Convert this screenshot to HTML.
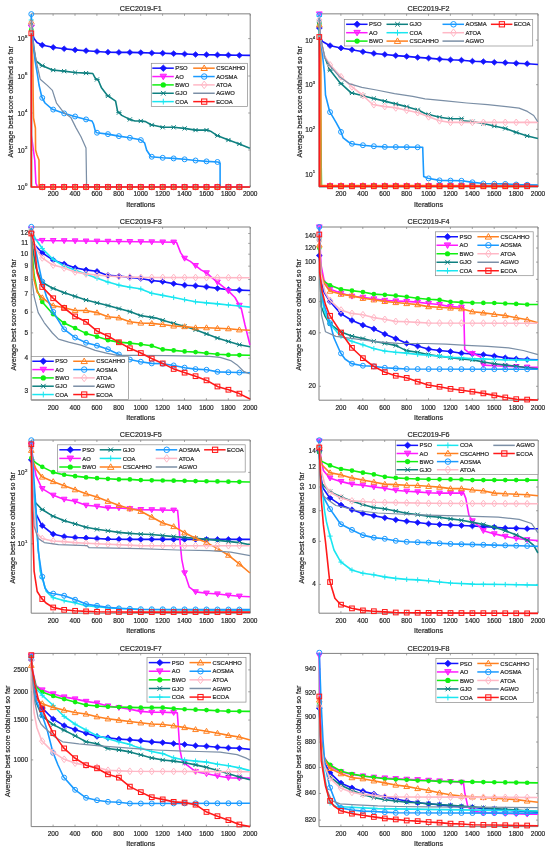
<!DOCTYPE html>
<html><head><meta charset="utf-8"><style>
html,body{margin:0;padding:0;background:#fff;width:550px;height:851px;overflow:hidden}
svg text{font-family:"Liberation Sans", sans-serif;stroke:#262626;stroke-width:0.2px}
</style></head><body>
<svg width="550" height="851" viewBox="0 0 550 851" style="position:absolute;left:0;top:0;filter:blur(0.35px)"><rect width="550" height="851" fill="#fff"/><g><clipPath id="clip00"><rect x="27.2" y="9.85" width="223.5" height="181.2"/></clipPath><path d="M31.2 13.85H250.2V187.05H31.2Z" fill="none" stroke="#808080" stroke-width="1.0"/><path d="M53.1 187.05v-2M53.1 13.85v2M75 187.05v-2M75 13.85v2M96.9 187.05v-2M96.9 13.85v2M118.8 187.05v-2M118.8 13.85v2M140.7 187.05v-2M140.7 13.85v2M162.6 187.05v-2M162.6 13.85v2M184.5 187.05v-2M184.5 13.85v2M206.4 187.05v-2M206.4 13.85v2M228.3 187.05v-2M228.3 13.85v2M250.2 187.05v-2M250.2 13.85v2M31.2 187h2M250.2 187h-2M31.2 150h2M250.2 150h-2M31.2 113h2M250.2 113h-2M31.2 76h2M250.2 76h-2M31.2 38.6h2M250.2 38.6h-2" stroke="#808080" stroke-width="0.7"/><g clip-path="url(#clip00)"><path d="M31.3 25.3 L32.3 33 L34 38.5 L37 42.5 L41.8 45 L52.8 47.3 L63.8 48.7 L74.8 49.9 L86 50.7 L96.8 51.5 L107.8 52.2 L118.8 52.4 L129.8 52.4 L140.3 52.6 L151.6 53 L162.7 53.2 L173.7 53.6 L184.6 54 L195.6 54.5 L206.7 54.7 L217.6 54.9 L228.6 55.1 L239.3 55.3 L250 55.4" fill="none" stroke="#1414ff" stroke-width="1.6" stroke-linejoin="round"/><path d="M31.3 22.44L34.29 25.3L31.3 28.16L28.31 25.3Z" fill="#1414ff" stroke="#1414ff" stroke-width="0.7" stroke-linejoin="round"/><path d="M42.26 42.24L45.25 45.1L42.26 47.96L39.27 45.1Z" fill="#1414ff" stroke="#1414ff" stroke-width="0.7" stroke-linejoin="round"/><path d="M53.21 44.49L56.2 47.35L53.21 50.21L50.22 47.35Z" fill="#1414ff" stroke="#1414ff" stroke-width="0.7" stroke-linejoin="round"/><path d="M64.16 45.88L67.15 48.74L64.16 51.6L61.17 48.74Z" fill="#1414ff" stroke="#1414ff" stroke-width="0.7" stroke-linejoin="round"/><path d="M75.11 47.06L78.1 49.92L75.11 52.78L72.12 49.92Z" fill="#1414ff" stroke="#1414ff" stroke-width="0.7" stroke-linejoin="round"/><path d="M86.06 47.84L89.05 50.7L86.06 53.56L83.07 50.7Z" fill="#1414ff" stroke="#1414ff" stroke-width="0.7" stroke-linejoin="round"/><path d="M97.01 48.65L100 51.51L97.01 54.37L94.02 51.51Z" fill="#1414ff" stroke="#1414ff" stroke-width="0.7" stroke-linejoin="round"/><path d="M107.96 49.34L110.95 52.2L107.96 55.06L104.97 52.2Z" fill="#1414ff" stroke="#1414ff" stroke-width="0.7" stroke-linejoin="round"/><path d="M118.91 49.54L121.9 52.4L118.91 55.26L115.92 52.4Z" fill="#1414ff" stroke="#1414ff" stroke-width="0.7" stroke-linejoin="round"/><path d="M129.86 49.54L132.85 52.4L129.86 55.26L126.87 52.4Z" fill="#1414ff" stroke="#1414ff" stroke-width="0.7" stroke-linejoin="round"/><path d="M140.81 49.76L143.8 52.62L140.81 55.48L137.82 52.62Z" fill="#1414ff" stroke="#1414ff" stroke-width="0.7" stroke-linejoin="round"/><path d="M151.76 50.14L154.75 53L151.76 55.86L148.77 53Z" fill="#1414ff" stroke="#1414ff" stroke-width="0.7" stroke-linejoin="round"/><path d="M162.71 50.34L165.7 53.2L162.71 56.06L159.72 53.2Z" fill="#1414ff" stroke="#1414ff" stroke-width="0.7" stroke-linejoin="round"/><path d="M173.66 50.74L176.65 53.6L173.66 56.46L170.67 53.6Z" fill="#1414ff" stroke="#1414ff" stroke-width="0.7" stroke-linejoin="round"/><path d="M184.61 51.14L187.6 54L184.61 56.86L181.62 54Z" fill="#1414ff" stroke="#1414ff" stroke-width="0.7" stroke-linejoin="round"/><path d="M195.56 51.64L198.55 54.5L195.56 57.36L192.57 54.5Z" fill="#1414ff" stroke="#1414ff" stroke-width="0.7" stroke-linejoin="round"/><path d="M206.51 51.84L209.5 54.7L206.51 57.56L203.52 54.7Z" fill="#1414ff" stroke="#1414ff" stroke-width="0.7" stroke-linejoin="round"/><path d="M217.46 52.04L220.45 54.9L217.46 57.76L214.47 54.9Z" fill="#1414ff" stroke="#1414ff" stroke-width="0.7" stroke-linejoin="round"/><path d="M228.41 52.24L231.4 55.1L228.41 57.96L225.42 55.1Z" fill="#1414ff" stroke="#1414ff" stroke-width="0.7" stroke-linejoin="round"/><path d="M239.36 52.44L242.35 55.3L239.36 58.16L236.37 55.3Z" fill="#1414ff" stroke="#1414ff" stroke-width="0.7" stroke-linejoin="round"/><path d="M31.3 27 L31.4 135 L33.2 148.6 L34.8 160.5 L35.9 183.2 L37.5 186.8 L250 187" fill="none" stroke="#ff1aff" stroke-width="1.6" stroke-linejoin="round"/><path d="M28.44 24.92L34.16 24.92L31.3 29.86Z" fill="#ff1aff" fill-opacity="0.75" stroke="#ff1aff" stroke-width="1.0"/><path d="M39.4 184.72L45.12 184.72L42.26 189.66Z" fill="#ff1aff" fill-opacity="0.75" stroke="#ff1aff" stroke-width="1.0"/><path d="M50.35 184.73L56.07 184.73L53.21 189.67Z" fill="#ff1aff" fill-opacity="0.75" stroke="#ff1aff" stroke-width="1.0"/><path d="M61.3 184.75L67.02 184.75L64.16 189.69Z" fill="#ff1aff" fill-opacity="0.75" stroke="#ff1aff" stroke-width="1.0"/><path d="M72.25 184.76L77.97 184.76L75.11 189.7Z" fill="#ff1aff" fill-opacity="0.75" stroke="#ff1aff" stroke-width="1.0"/><path d="M83.2 184.77L88.92 184.77L86.06 189.71Z" fill="#ff1aff" fill-opacity="0.75" stroke="#ff1aff" stroke-width="1.0"/><path d="M94.15 184.78L99.87 184.78L97.01 189.72Z" fill="#ff1aff" fill-opacity="0.75" stroke="#ff1aff" stroke-width="1.0"/><path d="M105.1 184.79L110.82 184.79L107.96 189.73Z" fill="#ff1aff" fill-opacity="0.75" stroke="#ff1aff" stroke-width="1.0"/><path d="M116.05 184.8L121.77 184.8L118.91 189.74Z" fill="#ff1aff" fill-opacity="0.75" stroke="#ff1aff" stroke-width="1.0"/><path d="M127 184.81L132.72 184.81L129.86 189.75Z" fill="#ff1aff" fill-opacity="0.75" stroke="#ff1aff" stroke-width="1.0"/><path d="M137.95 184.82L143.67 184.82L140.81 189.76Z" fill="#ff1aff" fill-opacity="0.75" stroke="#ff1aff" stroke-width="1.0"/><path d="M148.9 184.83L154.62 184.83L151.76 189.77Z" fill="#ff1aff" fill-opacity="0.75" stroke="#ff1aff" stroke-width="1.0"/><path d="M159.85 184.84L165.57 184.84L162.71 189.78Z" fill="#ff1aff" fill-opacity="0.75" stroke="#ff1aff" stroke-width="1.0"/><path d="M170.8 184.85L176.52 184.85L173.66 189.79Z" fill="#ff1aff" fill-opacity="0.75" stroke="#ff1aff" stroke-width="1.0"/><path d="M181.75 184.86L187.47 184.86L184.61 189.8Z" fill="#ff1aff" fill-opacity="0.75" stroke="#ff1aff" stroke-width="1.0"/><path d="M192.7 184.87L198.42 184.87L195.56 189.81Z" fill="#ff1aff" fill-opacity="0.75" stroke="#ff1aff" stroke-width="1.0"/><path d="M203.65 184.88L209.37 184.88L206.51 189.82Z" fill="#ff1aff" fill-opacity="0.75" stroke="#ff1aff" stroke-width="1.0"/><path d="M214.6 184.89L220.32 184.89L217.46 189.83Z" fill="#ff1aff" fill-opacity="0.75" stroke="#ff1aff" stroke-width="1.0"/><path d="M225.55 184.9L231.27 184.9L228.41 189.84Z" fill="#ff1aff" fill-opacity="0.75" stroke="#ff1aff" stroke-width="1.0"/><path d="M236.5 184.91L242.22 184.91L239.36 189.85Z" fill="#ff1aff" fill-opacity="0.75" stroke="#ff1aff" stroke-width="1.0"/><path d="M31.3 29.4 L31.4 187 L250 187" fill="none" stroke="#10f010" stroke-width="1.6" stroke-linejoin="round"/><circle cx="31.3" cy="29.4" r="2.34" fill="#10f010"/><circle cx="42.26" cy="187" r="2.34" fill="#10f010"/><circle cx="53.21" cy="187" r="2.34" fill="#10f010"/><circle cx="64.16" cy="187" r="2.34" fill="#10f010"/><circle cx="75.11" cy="187" r="2.34" fill="#10f010"/><circle cx="86.06" cy="187" r="2.34" fill="#10f010"/><circle cx="97.01" cy="187" r="2.34" fill="#10f010"/><circle cx="107.96" cy="187" r="2.34" fill="#10f010"/><circle cx="118.91" cy="187" r="2.34" fill="#10f010"/><circle cx="129.86" cy="187" r="2.34" fill="#10f010"/><circle cx="140.81" cy="187" r="2.34" fill="#10f010"/><circle cx="151.76" cy="187" r="2.34" fill="#10f010"/><circle cx="162.71" cy="187" r="2.34" fill="#10f010"/><circle cx="173.66" cy="187" r="2.34" fill="#10f010"/><circle cx="184.61" cy="187" r="2.34" fill="#10f010"/><circle cx="195.56" cy="187" r="2.34" fill="#10f010"/><circle cx="206.51" cy="187" r="2.34" fill="#10f010"/><circle cx="217.46" cy="187" r="2.34" fill="#10f010"/><circle cx="228.41" cy="187" r="2.34" fill="#10f010"/><circle cx="239.36" cy="187" r="2.34" fill="#10f010"/><path d="M31.3 24 L33 45 L36 61 L41.8 65.4 L52.4 70 L63.6 71.1 L74.8 72.5 L86 73.1 L92.8 73.5 L95.2 78.2 L98.3 80.3 L101.3 87.4 L107.4 95.5 L113.5 99.6 L115.6 101.1 L117.6 111.3 L121.7 115.4 L129.8 119.4 L135 121 L141.4 121 L145.6 121.6 L151 124.8 L162.7 127.3 L173.3 127.3 L184.4 128.4 L195.6 130.1 L207.3 130.1 L210.5 131.2 L216.9 135.4 L228.6 140.1 L239.3 143.9 L249.9 148.2" fill="none" stroke="#0f8080" stroke-width="1.6" stroke-linejoin="round"/><path d="M29.22 21.92L33.38 26.08M29.22 26.08L33.38 21.92M28.7 24L33.9 24" stroke="#0f8080" stroke-width="1.0"/><path d="M40.18 63.52L44.34 67.68M40.18 67.68L44.34 63.52M39.66 65.6L44.86 65.6" stroke="#0f8080" stroke-width="1.0"/><path d="M51.13 68L55.29 72.16M51.13 72.16L55.29 68M50.61 70.08L55.81 70.08" stroke="#0f8080" stroke-width="1.0"/><path d="M62.08 69.09L66.24 73.25M62.08 73.25L66.24 69.09M61.56 71.17L66.76 71.17" stroke="#0f8080" stroke-width="1.0"/><path d="M73.03 70.44L77.19 74.6M73.03 74.6L77.19 70.44M72.51 72.52L77.71 72.52" stroke="#0f8080" stroke-width="1.0"/><path d="M83.98 71.02L88.14 75.18M83.98 75.18L88.14 71.02M83.46 73.1L88.66 73.1" stroke="#0f8080" stroke-width="1.0"/><path d="M94.93 77.35L99.09 81.51M94.93 81.51L99.09 77.35M94.41 79.43L99.61 79.43" stroke="#0f8080" stroke-width="1.0"/><path d="M105.88 93.8L110.04 97.96M105.88 97.96L110.04 93.8M105.36 95.88L110.56 95.88" stroke="#0f8080" stroke-width="1.0"/><path d="M116.83 110.53L120.99 114.69M116.83 114.69L120.99 110.53M116.31 112.61L121.51 112.61" stroke="#0f8080" stroke-width="1.0"/><path d="M127.78 117.34L131.94 121.5M127.78 121.5L131.94 117.34M127.26 119.42L132.46 119.42" stroke="#0f8080" stroke-width="1.0"/><path d="M138.73 118.92L142.89 123.08M138.73 123.08L142.89 118.92M138.21 121L143.41 121" stroke="#0f8080" stroke-width="1.0"/><path d="M149.68 122.88L153.84 127.04M149.68 127.04L153.84 122.88M149.16 124.96L154.36 124.96" stroke="#0f8080" stroke-width="1.0"/><path d="M160.63 125.22L164.79 129.38M160.63 129.38L164.79 125.22M160.11 127.3L165.31 127.3" stroke="#0f8080" stroke-width="1.0"/><path d="M171.58 125.26L175.74 129.42M171.58 129.42L175.74 125.26M171.06 127.34L176.26 127.34" stroke="#0f8080" stroke-width="1.0"/><path d="M182.53 126.35L186.69 130.51M182.53 130.51L186.69 126.35M182.01 128.43L187.21 128.43" stroke="#0f8080" stroke-width="1.0"/><path d="M193.48 128.01L197.64 132.17M193.48 132.17L197.64 128.01M192.96 130.09L198.16 130.09" stroke="#0f8080" stroke-width="1.0"/><path d="M204.43 128.02L208.59 132.18M204.43 132.18L208.59 128.02M203.91 130.1L209.11 130.1" stroke="#0f8080" stroke-width="1.0"/><path d="M215.38 133.54L219.54 137.7M215.38 137.7L219.54 133.54M214.86 135.62L220.06 135.62" stroke="#0f8080" stroke-width="1.0"/><path d="M226.33 137.94L230.49 142.1M226.33 142.1L230.49 137.94M225.81 140.02L231.01 140.02" stroke="#0f8080" stroke-width="1.0"/><path d="M237.28 141.84L241.44 146M237.28 146L241.44 141.84M236.76 143.92L241.96 143.92" stroke="#0f8080" stroke-width="1.0"/><path d="M31.3 20 L31.4 187 L250 187" fill="none" stroke="#1ae6f0" stroke-width="1.6" stroke-linejoin="round"/><path d="M28.7 20L33.9 20M31.3 17.4L31.3 22.6" stroke="#1ae6f0" stroke-width="1.0"/><path d="M39.66 187L44.86 187M42.26 184.4L42.26 189.6" stroke="#1ae6f0" stroke-width="1.0"/><path d="M50.61 187L55.81 187M53.21 184.4L53.21 189.6" stroke="#1ae6f0" stroke-width="1.0"/><path d="M61.56 187L66.76 187M64.16 184.4L64.16 189.6" stroke="#1ae6f0" stroke-width="1.0"/><path d="M72.51 187L77.71 187M75.11 184.4L75.11 189.6" stroke="#1ae6f0" stroke-width="1.0"/><path d="M83.46 187L88.66 187M86.06 184.4L86.06 189.6" stroke="#1ae6f0" stroke-width="1.0"/><path d="M94.41 187L99.61 187M97.01 184.4L97.01 189.6" stroke="#1ae6f0" stroke-width="1.0"/><path d="M105.36 187L110.56 187M107.96 184.4L107.96 189.6" stroke="#1ae6f0" stroke-width="1.0"/><path d="M116.31 187L121.51 187M118.91 184.4L118.91 189.6" stroke="#1ae6f0" stroke-width="1.0"/><path d="M127.26 187L132.46 187M129.86 184.4L129.86 189.6" stroke="#1ae6f0" stroke-width="1.0"/><path d="M138.21 187L143.41 187M140.81 184.4L140.81 189.6" stroke="#1ae6f0" stroke-width="1.0"/><path d="M149.16 187L154.36 187M151.76 184.4L151.76 189.6" stroke="#1ae6f0" stroke-width="1.0"/><path d="M160.11 187L165.31 187M162.71 184.4L162.71 189.6" stroke="#1ae6f0" stroke-width="1.0"/><path d="M171.06 187L176.26 187M173.66 184.4L173.66 189.6" stroke="#1ae6f0" stroke-width="1.0"/><path d="M182.01 187L187.21 187M184.61 184.4L184.61 189.6" stroke="#1ae6f0" stroke-width="1.0"/><path d="M192.96 187L198.16 187M195.56 184.4L195.56 189.6" stroke="#1ae6f0" stroke-width="1.0"/><path d="M203.91 187L209.11 187M206.51 184.4L206.51 189.6" stroke="#1ae6f0" stroke-width="1.0"/><path d="M214.86 187L220.06 187M217.46 184.4L217.46 189.6" stroke="#1ae6f0" stroke-width="1.0"/><path d="M225.81 187L231.01 187M228.41 184.4L228.41 189.6" stroke="#1ae6f0" stroke-width="1.0"/><path d="M236.76 187L241.96 187M239.36 184.4L239.36 189.6" stroke="#1ae6f0" stroke-width="1.0"/><path d="M31.3 21.8 L32.8 60 L33.2 100 L33.5 118 L35.4 128 L35.6 150 L37 155 L39 160 L39.1 186.8 L250 187" fill="none" stroke="#ff8020" stroke-width="1.6" stroke-linejoin="round"/><path d="M28.44 23.88L34.16 23.88L31.3 18.94Z" fill="none" stroke="#ff8020" stroke-width="1.0"/><path d="M39.4 188.88L45.12 188.88L42.26 183.94Z" fill="none" stroke="#ff8020" stroke-width="1.0"/><path d="M50.35 188.89L56.07 188.89L53.21 183.95Z" fill="none" stroke="#ff8020" stroke-width="1.0"/><path d="M61.3 188.9L67.02 188.9L64.16 183.96Z" fill="none" stroke="#ff8020" stroke-width="1.0"/><path d="M72.25 188.91L77.97 188.91L75.11 183.97Z" fill="none" stroke="#ff8020" stroke-width="1.0"/><path d="M83.2 188.92L88.92 188.92L86.06 183.98Z" fill="none" stroke="#ff8020" stroke-width="1.0"/><path d="M94.15 188.93L99.87 188.93L97.01 183.99Z" fill="none" stroke="#ff8020" stroke-width="1.0"/><path d="M105.1 188.95L110.82 188.95L107.96 184.01Z" fill="none" stroke="#ff8020" stroke-width="1.0"/><path d="M116.05 188.96L121.77 188.96L118.91 184.02Z" fill="none" stroke="#ff8020" stroke-width="1.0"/><path d="M127 188.97L132.72 188.97L129.86 184.03Z" fill="none" stroke="#ff8020" stroke-width="1.0"/><path d="M137.95 188.98L143.67 188.98L140.81 184.04Z" fill="none" stroke="#ff8020" stroke-width="1.0"/><path d="M148.9 188.99L154.62 188.99L151.76 184.05Z" fill="none" stroke="#ff8020" stroke-width="1.0"/><path d="M159.85 189L165.57 189L162.71 184.06Z" fill="none" stroke="#ff8020" stroke-width="1.0"/><path d="M170.8 189.01L176.52 189.01L173.66 184.07Z" fill="none" stroke="#ff8020" stroke-width="1.0"/><path d="M181.75 189.02L187.47 189.02L184.61 184.08Z" fill="none" stroke="#ff8020" stroke-width="1.0"/><path d="M192.7 189.03L198.42 189.03L195.56 184.09Z" fill="none" stroke="#ff8020" stroke-width="1.0"/><path d="M203.65 189.04L209.37 189.04L206.51 184.1Z" fill="none" stroke="#ff8020" stroke-width="1.0"/><path d="M214.6 189.05L220.32 189.05L217.46 184.11Z" fill="none" stroke="#ff8020" stroke-width="1.0"/><path d="M225.55 189.06L231.27 189.06L228.41 184.12Z" fill="none" stroke="#ff8020" stroke-width="1.0"/><path d="M236.5 189.07L242.22 189.07L239.36 184.13Z" fill="none" stroke="#ff8020" stroke-width="1.0"/><path d="M31.3 14.1 L32 30 L33.1 40.5 L35 60 L37.2 73.1 L39 85 L41.8 97 L45 103 L52.4 109.3 L63.8 113.3 L74.8 116.4 L86 119.4 L92 121 L93.5 124 L95.5 131.7 L96.8 132.7 L107.8 134.1 L118.8 136.1 L129.8 137.8 L140.3 139.7 L144.6 142.9 L146.7 150.3 L151 156.7 L162.7 157.8 L173.3 158.4 L184.4 159.3 L195.6 160.5 L206.7 161.4 L218 162 L220.1 163.1 L220.1 187 L250 187" fill="none" stroke="#1a9aff" stroke-width="1.6" stroke-linejoin="round"/><circle cx="31.3" cy="14.1" r="2.47" fill="none" stroke="#1a9aff" stroke-width="1.0"/><circle cx="42.26" cy="97.86" r="2.47" fill="none" stroke="#1a9aff" stroke-width="1.0"/><circle cx="53.21" cy="109.58" r="2.47" fill="none" stroke="#1a9aff" stroke-width="1.0"/><circle cx="64.16" cy="113.4" r="2.47" fill="none" stroke="#1a9aff" stroke-width="1.0"/><circle cx="75.11" cy="116.48" r="2.47" fill="none" stroke="#1a9aff" stroke-width="1.0"/><circle cx="86.06" cy="119.42" r="2.47" fill="none" stroke="#1a9aff" stroke-width="1.0"/><circle cx="97.01" cy="132.73" r="2.47" fill="none" stroke="#1a9aff" stroke-width="1.0"/><circle cx="107.96" cy="134.13" r="2.47" fill="none" stroke="#1a9aff" stroke-width="1.0"/><circle cx="118.91" cy="136.12" r="2.47" fill="none" stroke="#1a9aff" stroke-width="1.0"/><circle cx="129.86" cy="137.81" r="2.47" fill="none" stroke="#1a9aff" stroke-width="1.0"/><circle cx="140.81" cy="140.08" r="2.47" fill="none" stroke="#1a9aff" stroke-width="1.0"/><circle cx="151.76" cy="156.77" r="2.47" fill="none" stroke="#1a9aff" stroke-width="1.0"/><circle cx="162.71" cy="157.8" r="2.47" fill="none" stroke="#1a9aff" stroke-width="1.0"/><circle cx="173.66" cy="158.43" r="2.47" fill="none" stroke="#1a9aff" stroke-width="1.0"/><circle cx="184.61" cy="159.32" r="2.47" fill="none" stroke="#1a9aff" stroke-width="1.0"/><circle cx="195.56" cy="160.5" r="2.47" fill="none" stroke="#1a9aff" stroke-width="1.0"/><circle cx="206.51" cy="161.38" r="2.47" fill="none" stroke="#1a9aff" stroke-width="1.0"/><circle cx="217.46" cy="161.97" r="2.47" fill="none" stroke="#1a9aff" stroke-width="1.0"/><circle cx="228.41" cy="187" r="2.47" fill="none" stroke="#1a9aff" stroke-width="1.0"/><circle cx="239.36" cy="187" r="2.47" fill="none" stroke="#1a9aff" stroke-width="1.0"/><path d="M31.3 24 L31.4 187 L250 187" fill="none" stroke="#ffb8c6" stroke-width="1.6" stroke-linejoin="round"/><path d="M31.3 20.62L33.9 24L31.3 27.38L28.7 24Z" fill="none" stroke="#ffb8c6" stroke-width="1.0"/><path d="M42.26 183.62L44.86 187L42.26 190.38L39.66 187Z" fill="none" stroke="#ffb8c6" stroke-width="1.0"/><path d="M53.21 183.62L55.81 187L53.21 190.38L50.61 187Z" fill="none" stroke="#ffb8c6" stroke-width="1.0"/><path d="M64.16 183.62L66.76 187L64.16 190.38L61.56 187Z" fill="none" stroke="#ffb8c6" stroke-width="1.0"/><path d="M75.11 183.62L77.71 187L75.11 190.38L72.51 187Z" fill="none" stroke="#ffb8c6" stroke-width="1.0"/><path d="M86.06 183.62L88.66 187L86.06 190.38L83.46 187Z" fill="none" stroke="#ffb8c6" stroke-width="1.0"/><path d="M97.01 183.62L99.61 187L97.01 190.38L94.41 187Z" fill="none" stroke="#ffb8c6" stroke-width="1.0"/><path d="M107.96 183.62L110.56 187L107.96 190.38L105.36 187Z" fill="none" stroke="#ffb8c6" stroke-width="1.0"/><path d="M118.91 183.62L121.51 187L118.91 190.38L116.31 187Z" fill="none" stroke="#ffb8c6" stroke-width="1.0"/><path d="M129.86 183.62L132.46 187L129.86 190.38L127.26 187Z" fill="none" stroke="#ffb8c6" stroke-width="1.0"/><path d="M140.81 183.62L143.41 187L140.81 190.38L138.21 187Z" fill="none" stroke="#ffb8c6" stroke-width="1.0"/><path d="M151.76 183.62L154.36 187L151.76 190.38L149.16 187Z" fill="none" stroke="#ffb8c6" stroke-width="1.0"/><path d="M162.71 183.62L165.31 187L162.71 190.38L160.11 187Z" fill="none" stroke="#ffb8c6" stroke-width="1.0"/><path d="M173.66 183.62L176.26 187L173.66 190.38L171.06 187Z" fill="none" stroke="#ffb8c6" stroke-width="1.0"/><path d="M184.61 183.62L187.21 187L184.61 190.38L182.01 187Z" fill="none" stroke="#ffb8c6" stroke-width="1.0"/><path d="M195.56 183.62L198.16 187L195.56 190.38L192.96 187Z" fill="none" stroke="#ffb8c6" stroke-width="1.0"/><path d="M206.51 183.62L209.11 187L206.51 190.38L203.91 187Z" fill="none" stroke="#ffb8c6" stroke-width="1.0"/><path d="M217.46 183.62L220.06 187L217.46 190.38L214.86 187Z" fill="none" stroke="#ffb8c6" stroke-width="1.0"/><path d="M228.41 183.62L231.01 187L228.41 190.38L225.81 187Z" fill="none" stroke="#ffb8c6" stroke-width="1.0"/><path d="M239.36 183.62L241.96 187L239.36 190.38L236.76 187Z" fill="none" stroke="#ffb8c6" stroke-width="1.0"/><path d="M31.3 20 L33 40 L36 60 L40.2 79.2 L47.3 85.4 L52.4 90.4 L54.5 97 L56.5 103.1 L63.6 112.3 L70.8 117.4 L75.9 127.6 L81 136.8 L86 148 L86.6 186.6 L250 187" fill="none" stroke="#7b8fa6" stroke-width="1.25" stroke-linejoin="round"/><path d="M31.3 33.3 L31.3 187 L250 187" fill="none" stroke="#ff1a1a" stroke-width="1.6" stroke-linejoin="round"/><rect x="28.96" y="30.96" width="4.68" height="4.68" fill="none" stroke="#ff1a1a" stroke-width="1.05"/><rect x="39.92" y="184.66" width="4.68" height="4.68" fill="none" stroke="#ff1a1a" stroke-width="1.05"/><rect x="50.87" y="184.66" width="4.68" height="4.68" fill="none" stroke="#ff1a1a" stroke-width="1.05"/><rect x="61.82" y="184.66" width="4.68" height="4.68" fill="none" stroke="#ff1a1a" stroke-width="1.05"/><rect x="72.77" y="184.66" width="4.68" height="4.68" fill="none" stroke="#ff1a1a" stroke-width="1.05"/><rect x="83.72" y="184.66" width="4.68" height="4.68" fill="none" stroke="#ff1a1a" stroke-width="1.05"/><rect x="94.67" y="184.66" width="4.68" height="4.68" fill="none" stroke="#ff1a1a" stroke-width="1.05"/><rect x="105.62" y="184.66" width="4.68" height="4.68" fill="none" stroke="#ff1a1a" stroke-width="1.05"/><rect x="116.57" y="184.66" width="4.68" height="4.68" fill="none" stroke="#ff1a1a" stroke-width="1.05"/><rect x="127.52" y="184.66" width="4.68" height="4.68" fill="none" stroke="#ff1a1a" stroke-width="1.05"/><rect x="138.47" y="184.66" width="4.68" height="4.68" fill="none" stroke="#ff1a1a" stroke-width="1.05"/><rect x="149.42" y="184.66" width="4.68" height="4.68" fill="none" stroke="#ff1a1a" stroke-width="1.05"/><rect x="160.37" y="184.66" width="4.68" height="4.68" fill="none" stroke="#ff1a1a" stroke-width="1.05"/><rect x="171.32" y="184.66" width="4.68" height="4.68" fill="none" stroke="#ff1a1a" stroke-width="1.05"/><rect x="182.27" y="184.66" width="4.68" height="4.68" fill="none" stroke="#ff1a1a" stroke-width="1.05"/><rect x="193.22" y="184.66" width="4.68" height="4.68" fill="none" stroke="#ff1a1a" stroke-width="1.05"/><rect x="204.17" y="184.66" width="4.68" height="4.68" fill="none" stroke="#ff1a1a" stroke-width="1.05"/><rect x="215.12" y="184.66" width="4.68" height="4.68" fill="none" stroke="#ff1a1a" stroke-width="1.05"/><rect x="226.07" y="184.66" width="4.68" height="4.68" fill="none" stroke="#ff1a1a" stroke-width="1.05"/><rect x="237.02" y="184.66" width="4.68" height="4.68" fill="none" stroke="#ff1a1a" stroke-width="1.05"/></g><text x="53.1" y="196.35" text-anchor="middle" font-size="6.5" fill="#262626">200</text><text x="75" y="196.35" text-anchor="middle" font-size="6.5" fill="#262626">400</text><text x="96.9" y="196.35" text-anchor="middle" font-size="6.5" fill="#262626">600</text><text x="118.8" y="196.35" text-anchor="middle" font-size="6.5" fill="#262626">800</text><text x="140.7" y="196.35" text-anchor="middle" font-size="6.5" fill="#262626">1000</text><text x="162.6" y="196.35" text-anchor="middle" font-size="6.5" fill="#262626">1200</text><text x="184.5" y="196.35" text-anchor="middle" font-size="6.5" fill="#262626">1400</text><text x="206.4" y="196.35" text-anchor="middle" font-size="6.5" fill="#262626">1600</text><text x="228.3" y="196.35" text-anchor="middle" font-size="6.5" fill="#262626">1800</text><text x="250.2" y="196.35" text-anchor="middle" font-size="6.5" fill="#262626">2000</text><text x="24.7" y="189.6" text-anchor="end" font-size="6.5" fill="#262626">10</text><text x="24.9" y="186.3" text-anchor="start" font-size="4.3" fill="#262626">0</text><text x="24.7" y="152.6" text-anchor="end" font-size="6.5" fill="#262626">10</text><text x="24.9" y="149.3" text-anchor="start" font-size="4.3" fill="#262626">2</text><text x="24.7" y="115.6" text-anchor="end" font-size="6.5" fill="#262626">10</text><text x="24.9" y="112.3" text-anchor="start" font-size="4.3" fill="#262626">4</text><text x="24.7" y="78.6" text-anchor="end" font-size="6.5" fill="#262626">10</text><text x="24.9" y="75.3" text-anchor="start" font-size="4.3" fill="#262626">6</text><text x="24.7" y="41.2" text-anchor="end" font-size="6.5" fill="#262626">10</text><text x="24.9" y="37.9" text-anchor="start" font-size="4.3" fill="#262626">8</text><text x="140.7" y="11.05" text-anchor="middle" font-size="7.2" fill="#262626">CEC2019-F1</text><text x="140.7" y="206.55" text-anchor="middle" font-size="7" fill="#262626">Iterations</text><text transform="translate(13.4 101.75) rotate(-90)" text-anchor="middle" font-size="7.2" fill="#262626">Average best score obtained so far</text><rect x="151.3" y="63.3" width="96.1" height="43.2" fill="#fff" stroke="#8c8c8c" stroke-width="0.7"/><path d="M152.3 68.18H173.8" stroke="#1414ff" stroke-width="1.5"/><path d="M163.3 64.98L166.65 68.18L163.3 71.38L159.95 68.18Z" fill="#1414ff" stroke="#1414ff" stroke-width="0.7" stroke-linejoin="round"/><text x="175.3" y="70.28" font-size="5.85" fill="#262626">PSO</text><path d="M152.3 76.54H173.8" stroke="#ff1aff" stroke-width="1.5"/><path d="M160.1 74.21L166.5 74.21L163.3 79.74Z" fill="#ff1aff" fill-opacity="0.75" stroke="#ff1aff" stroke-width="1.0"/><text x="175.3" y="78.64" font-size="5.85" fill="#262626">AO</text><path d="M152.3 84.9H173.8" stroke="#10f010" stroke-width="1.5"/><circle cx="163.3" cy="84.9" r="2.62" fill="#10f010"/><text x="175.3" y="87" font-size="5.85" fill="#262626">BWO</text><path d="M152.3 93.26H173.8" stroke="#0f8080" stroke-width="1.5"/><path d="M160.97 90.93L165.63 95.59M160.97 95.59L165.63 90.93M160.39 93.26L166.21 93.26" stroke="#0f8080" stroke-width="1.0"/><text x="175.3" y="95.36" font-size="5.85" fill="#262626">GJO</text><path d="M152.3 101.62H173.8" stroke="#1ae6f0" stroke-width="1.5"/><path d="M160.39 101.62L166.21 101.62M163.3 98.71L163.3 104.53" stroke="#1ae6f0" stroke-width="1.0"/><text x="175.3" y="103.72" font-size="5.85" fill="#262626">COA</text><path d="M193.2 68.18H214.7" stroke="#ff8020" stroke-width="1.5"/><path d="M201 70.51L207.4 70.51L204.2 64.98Z" fill="none" stroke="#ff8020" stroke-width="1.0"/><text x="216.2" y="70.28" font-size="5.85" fill="#262626">CSCAHHO</text><path d="M193.2 76.54H214.7" stroke="#1a9aff" stroke-width="1.5"/><circle cx="204.2" cy="76.54" r="2.77" fill="none" stroke="#1a9aff" stroke-width="1.0"/><text x="216.2" y="78.64" font-size="5.85" fill="#262626">AOSMA</text><path d="M193.2 84.9H214.7" stroke="#ffb8c6" stroke-width="1.5"/><path d="M204.2 81.11L207.11 84.9L204.2 88.69L201.29 84.9Z" fill="none" stroke="#ffb8c6" stroke-width="1.0"/><text x="216.2" y="87" font-size="5.85" fill="#262626">ATOA</text><path d="M193.2 93.26H214.7" stroke="#7b8fa6" stroke-width="1.5"/><text x="216.2" y="95.36" font-size="5.85" fill="#262626">AGWO</text><path d="M193.2 101.62H214.7" stroke="#ff1a1a" stroke-width="1.5"/><rect x="201.58" y="99" width="5.24" height="5.24" fill="none" stroke="#ff1a1a" stroke-width="1.05"/><text x="216.2" y="103.72" font-size="5.85" fill="#262626">ECOA</text></g><g><clipPath id="clip10"><rect x="315" y="9.85" width="223.5" height="181.2"/></clipPath><path d="M319 13.85H538V187.05H319Z" fill="none" stroke="#808080" stroke-width="1.0"/><path d="M340.9 187.05v-2M340.9 13.85v2M362.8 187.05v-2M362.8 13.85v2M384.7 187.05v-2M384.7 13.85v2M406.6 187.05v-2M406.6 13.85v2M428.5 187.05v-2M428.5 13.85v2M450.4 187.05v-2M450.4 13.85v2M472.3 187.05v-2M472.3 13.85v2M494.2 187.05v-2M494.2 13.85v2M516.1 187.05v-2M516.1 13.85v2M538 187.05v-2M538 13.85v2M319 174h2M538 174h-2M319 129.3h2M538 129.3h-2M319 84.7h2M538 84.7h-2M319 40.1h2M538 40.1h-2" stroke="#808080" stroke-width="0.7"/><g clip-path="url(#clip10)"><path d="M319.3 28 L320.3 37 L322.5 41.5 L329.6 45.5 L340.7 48 L351.8 49.7 L363.1 51.8 L374.2 53.5 L385 54.5 L396.1 55.6 L406.6 56.4 L417.4 57.4 L428 58.1 L439.2 59.1 L450.5 59.8 L461.6 60.2 L472.7 61.2 L483.5 61.6 L494.4 62.3 L505.5 62.7 L516.4 63.3 L527.4 63.7 L538 64.5" fill="none" stroke="#1414ff" stroke-width="1.6" stroke-linejoin="round"/><path d="M319.3 25.14L322.29 28L319.3 30.86L316.31 28Z" fill="#1414ff" stroke="#1414ff" stroke-width="0.7" stroke-linejoin="round"/><path d="M330.06 42.74L333.05 45.6L330.06 48.46L327.07 45.6Z" fill="#1414ff" stroke="#1414ff" stroke-width="0.7" stroke-linejoin="round"/><path d="M341.01 45.19L344 48.05L341.01 50.91L338.02 48.05Z" fill="#1414ff" stroke="#1414ff" stroke-width="0.7" stroke-linejoin="round"/><path d="M351.96 46.87L354.95 49.73L351.96 52.59L348.97 49.73Z" fill="#1414ff" stroke="#1414ff" stroke-width="0.7" stroke-linejoin="round"/><path d="M362.91 48.9L365.9 51.76L362.91 54.62L359.92 51.76Z" fill="#1414ff" stroke="#1414ff" stroke-width="0.7" stroke-linejoin="round"/><path d="M373.86 50.59L376.85 53.45L373.86 56.31L370.87 53.45Z" fill="#1414ff" stroke="#1414ff" stroke-width="0.7" stroke-linejoin="round"/><path d="M384.81 51.62L387.8 54.48L384.81 57.34L381.82 54.48Z" fill="#1414ff" stroke="#1414ff" stroke-width="0.7" stroke-linejoin="round"/><path d="M395.76 52.71L398.75 55.57L395.76 58.43L392.77 55.57Z" fill="#1414ff" stroke="#1414ff" stroke-width="0.7" stroke-linejoin="round"/><path d="M406.71 53.55L409.7 56.41L406.71 59.27L403.72 56.41Z" fill="#1414ff" stroke="#1414ff" stroke-width="0.7" stroke-linejoin="round"/><path d="M417.66 54.56L420.65 57.42L417.66 60.28L414.67 57.42Z" fill="#1414ff" stroke="#1414ff" stroke-width="0.7" stroke-linejoin="round"/><path d="M428.61 55.29L431.6 58.15L428.61 61.01L425.62 58.15Z" fill="#1414ff" stroke="#1414ff" stroke-width="0.7" stroke-linejoin="round"/><path d="M439.56 56.26L442.55 59.12L439.56 61.98L436.57 59.12Z" fill="#1414ff" stroke="#1414ff" stroke-width="0.7" stroke-linejoin="round"/><path d="M450.51 56.94L453.5 59.8L450.51 62.66L447.52 59.8Z" fill="#1414ff" stroke="#1414ff" stroke-width="0.7" stroke-linejoin="round"/><path d="M461.46 57.33L464.45 60.19L461.46 63.05L458.47 60.19Z" fill="#1414ff" stroke="#1414ff" stroke-width="0.7" stroke-linejoin="round"/><path d="M472.41 58.31L475.4 61.17L472.41 64.03L469.42 61.17Z" fill="#1414ff" stroke="#1414ff" stroke-width="0.7" stroke-linejoin="round"/><path d="M483.36 58.73L486.35 61.59L483.36 64.45L480.37 61.59Z" fill="#1414ff" stroke="#1414ff" stroke-width="0.7" stroke-linejoin="round"/><path d="M494.31 59.43L497.3 62.29L494.31 65.15L491.32 62.29Z" fill="#1414ff" stroke="#1414ff" stroke-width="0.7" stroke-linejoin="round"/><path d="M505.26 59.83L508.25 62.69L505.26 65.55L502.27 62.69Z" fill="#1414ff" stroke="#1414ff" stroke-width="0.7" stroke-linejoin="round"/><path d="M516.21 60.43L519.2 63.29L516.21 66.15L513.22 63.29Z" fill="#1414ff" stroke="#1414ff" stroke-width="0.7" stroke-linejoin="round"/><path d="M527.16 60.83L530.15 63.69L527.16 66.55L524.17 63.69Z" fill="#1414ff" stroke="#1414ff" stroke-width="0.7" stroke-linejoin="round"/><path d="M319.3 14 L320.6 185.8 L538 185.8" fill="none" stroke="#ff1aff" stroke-width="1.6" stroke-linejoin="round"/><path d="M316.44 11.92L322.16 11.92L319.3 16.86Z" fill="#ff1aff" fill-opacity="0.75" stroke="#ff1aff" stroke-width="1.0"/><path d="M327.2 183.72L332.92 183.72L330.06 188.66Z" fill="#ff1aff" fill-opacity="0.75" stroke="#ff1aff" stroke-width="1.0"/><path d="M338.15 183.72L343.87 183.72L341.01 188.66Z" fill="#ff1aff" fill-opacity="0.75" stroke="#ff1aff" stroke-width="1.0"/><path d="M349.1 183.72L354.82 183.72L351.96 188.66Z" fill="#ff1aff" fill-opacity="0.75" stroke="#ff1aff" stroke-width="1.0"/><path d="M360.05 183.72L365.77 183.72L362.91 188.66Z" fill="#ff1aff" fill-opacity="0.75" stroke="#ff1aff" stroke-width="1.0"/><path d="M371 183.72L376.72 183.72L373.86 188.66Z" fill="#ff1aff" fill-opacity="0.75" stroke="#ff1aff" stroke-width="1.0"/><path d="M381.95 183.72L387.67 183.72L384.81 188.66Z" fill="#ff1aff" fill-opacity="0.75" stroke="#ff1aff" stroke-width="1.0"/><path d="M392.9 183.72L398.62 183.72L395.76 188.66Z" fill="#ff1aff" fill-opacity="0.75" stroke="#ff1aff" stroke-width="1.0"/><path d="M403.85 183.72L409.57 183.72L406.71 188.66Z" fill="#ff1aff" fill-opacity="0.75" stroke="#ff1aff" stroke-width="1.0"/><path d="M414.8 183.72L420.52 183.72L417.66 188.66Z" fill="#ff1aff" fill-opacity="0.75" stroke="#ff1aff" stroke-width="1.0"/><path d="M425.75 183.72L431.47 183.72L428.61 188.66Z" fill="#ff1aff" fill-opacity="0.75" stroke="#ff1aff" stroke-width="1.0"/><path d="M436.7 183.72L442.42 183.72L439.56 188.66Z" fill="#ff1aff" fill-opacity="0.75" stroke="#ff1aff" stroke-width="1.0"/><path d="M447.65 183.72L453.37 183.72L450.51 188.66Z" fill="#ff1aff" fill-opacity="0.75" stroke="#ff1aff" stroke-width="1.0"/><path d="M458.6 183.72L464.32 183.72L461.46 188.66Z" fill="#ff1aff" fill-opacity="0.75" stroke="#ff1aff" stroke-width="1.0"/><path d="M469.55 183.72L475.27 183.72L472.41 188.66Z" fill="#ff1aff" fill-opacity="0.75" stroke="#ff1aff" stroke-width="1.0"/><path d="M480.5 183.72L486.22 183.72L483.36 188.66Z" fill="#ff1aff" fill-opacity="0.75" stroke="#ff1aff" stroke-width="1.0"/><path d="M491.45 183.72L497.17 183.72L494.31 188.66Z" fill="#ff1aff" fill-opacity="0.75" stroke="#ff1aff" stroke-width="1.0"/><path d="M502.4 183.72L508.12 183.72L505.26 188.66Z" fill="#ff1aff" fill-opacity="0.75" stroke="#ff1aff" stroke-width="1.0"/><path d="M513.35 183.72L519.07 183.72L516.21 188.66Z" fill="#ff1aff" fill-opacity="0.75" stroke="#ff1aff" stroke-width="1.0"/><path d="M524.3 183.72L530.02 183.72L527.16 188.66Z" fill="#ff1aff" fill-opacity="0.75" stroke="#ff1aff" stroke-width="1.0"/><path d="M319.3 24 L321.5 186 L538 186" fill="none" stroke="#10f010" stroke-width="1.6" stroke-linejoin="round"/><circle cx="319.3" cy="24" r="2.34" fill="#10f010"/><circle cx="330.06" cy="186" r="2.34" fill="#10f010"/><circle cx="341.01" cy="186" r="2.34" fill="#10f010"/><circle cx="351.96" cy="186" r="2.34" fill="#10f010"/><circle cx="362.91" cy="186" r="2.34" fill="#10f010"/><circle cx="373.86" cy="186" r="2.34" fill="#10f010"/><circle cx="384.81" cy="186" r="2.34" fill="#10f010"/><circle cx="395.76" cy="186" r="2.34" fill="#10f010"/><circle cx="406.71" cy="186" r="2.34" fill="#10f010"/><circle cx="417.66" cy="186" r="2.34" fill="#10f010"/><circle cx="428.61" cy="186" r="2.34" fill="#10f010"/><circle cx="439.56" cy="186" r="2.34" fill="#10f010"/><circle cx="450.51" cy="186" r="2.34" fill="#10f010"/><circle cx="461.46" cy="186" r="2.34" fill="#10f010"/><circle cx="472.41" cy="186" r="2.34" fill="#10f010"/><circle cx="483.36" cy="186" r="2.34" fill="#10f010"/><circle cx="494.31" cy="186" r="2.34" fill="#10f010"/><circle cx="505.26" cy="186" r="2.34" fill="#10f010"/><circle cx="516.21" cy="186" r="2.34" fill="#10f010"/><circle cx="527.16" cy="186" r="2.34" fill="#10f010"/><path d="M319.3 22 L320.5 38 L324 55 L329.6 69.6 L340 82.7 L350.9 92.7 L361.8 95.5 L372.7 98.2 L383.6 100.9 L394.5 103.6 L405.5 106.4 L418.2 110 L425 113.5 L439.6 117.2 L450.1 118.7 L461.6 118.7 L462.6 120.8 L473.1 121.8 L483.5 123.5 L494 126 L505.5 128.5 L515.9 132.3 L527.4 136 L537.9 138.5" fill="none" stroke="#0f8080" stroke-width="1.6" stroke-linejoin="round"/><path d="M317.22 19.92L321.38 24.08M317.22 24.08L321.38 19.92M316.7 22L321.9 22" stroke="#0f8080" stroke-width="1.0"/><path d="M327.98 68.1L332.14 72.26M327.98 72.26L332.14 68.1M327.46 70.18L332.66 70.18" stroke="#0f8080" stroke-width="1.0"/><path d="M338.93 81.55L343.09 85.71M338.93 85.71L343.09 81.55M338.41 83.63L343.61 83.63" stroke="#0f8080" stroke-width="1.0"/><path d="M349.88 90.89L354.04 95.05M349.88 95.05L354.04 90.89M349.36 92.97L354.56 92.97" stroke="#0f8080" stroke-width="1.0"/><path d="M360.83 93.69L364.99 97.85M360.83 97.85L364.99 93.69M360.31 95.77L365.51 95.77" stroke="#0f8080" stroke-width="1.0"/><path d="M371.78 96.41L375.94 100.57M371.78 100.57L375.94 96.41M371.26 98.49L376.46 98.49" stroke="#0f8080" stroke-width="1.0"/><path d="M382.73 99.12L386.89 103.28M382.73 103.28L386.89 99.12M382.21 101.2L387.41 101.2" stroke="#0f8080" stroke-width="1.0"/><path d="M393.68 101.84L397.84 106M393.68 106L397.84 101.84M393.16 103.92L398.36 103.92" stroke="#0f8080" stroke-width="1.0"/><path d="M404.63 104.66L408.79 108.82M404.63 108.82L408.79 104.66M404.11 106.74L409.31 106.74" stroke="#0f8080" stroke-width="1.0"/><path d="M415.58 107.77L419.74 111.93M415.58 111.93L419.74 107.77M415.06 109.85L420.26 109.85" stroke="#0f8080" stroke-width="1.0"/><path d="M426.53 112.33L430.69 116.49M426.53 116.49L430.69 112.33M426.01 114.41L431.21 114.41" stroke="#0f8080" stroke-width="1.0"/><path d="M437.48 115.11L441.64 119.27M437.48 119.27L441.64 115.11M436.96 117.19L442.16 117.19" stroke="#0f8080" stroke-width="1.0"/><path d="M448.43 116.62L452.59 120.78M448.43 120.78L452.59 116.62M447.91 118.7L453.11 118.7" stroke="#0f8080" stroke-width="1.0"/><path d="M459.38 116.62L463.54 120.78M459.38 120.78L463.54 116.62M458.86 118.7L464.06 118.7" stroke="#0f8080" stroke-width="1.0"/><path d="M470.33 119.65L474.49 123.81M470.33 123.81L474.49 119.65M469.81 121.73L475.01 121.73" stroke="#0f8080" stroke-width="1.0"/><path d="M481.28 121.4L485.44 125.56M481.28 125.56L485.44 121.4M480.76 123.48L485.96 123.48" stroke="#0f8080" stroke-width="1.0"/><path d="M492.23 123.99L496.39 128.15M492.23 128.15L496.39 123.99M491.71 126.07L496.91 126.07" stroke="#0f8080" stroke-width="1.0"/><path d="M503.18 126.37L507.34 130.53M503.18 130.53L507.34 126.37M502.66 128.45L507.86 128.45" stroke="#0f8080" stroke-width="1.0"/><path d="M514.13 130.32L518.29 134.48M514.13 134.48L518.29 130.32M513.61 132.4L518.81 132.4" stroke="#0f8080" stroke-width="1.0"/><path d="M525.08 133.84L529.24 138M525.08 138L529.24 133.84M524.56 135.92L529.76 135.92" stroke="#0f8080" stroke-width="1.0"/><path d="M319.3 16.4 L321 186 L538 186" fill="none" stroke="#1ae6f0" stroke-width="1.6" stroke-linejoin="round"/><path d="M316.7 16.4L321.9 16.4M319.3 13.8L319.3 19" stroke="#1ae6f0" stroke-width="1.0"/><path d="M327.46 186L332.66 186M330.06 183.4L330.06 188.6" stroke="#1ae6f0" stroke-width="1.0"/><path d="M338.41 186L343.61 186M341.01 183.4L341.01 188.6" stroke="#1ae6f0" stroke-width="1.0"/><path d="M349.36 186L354.56 186M351.96 183.4L351.96 188.6" stroke="#1ae6f0" stroke-width="1.0"/><path d="M360.31 186L365.51 186M362.91 183.4L362.91 188.6" stroke="#1ae6f0" stroke-width="1.0"/><path d="M371.26 186L376.46 186M373.86 183.4L373.86 188.6" stroke="#1ae6f0" stroke-width="1.0"/><path d="M382.21 186L387.41 186M384.81 183.4L384.81 188.6" stroke="#1ae6f0" stroke-width="1.0"/><path d="M393.16 186L398.36 186M395.76 183.4L395.76 188.6" stroke="#1ae6f0" stroke-width="1.0"/><path d="M404.11 186L409.31 186M406.71 183.4L406.71 188.6" stroke="#1ae6f0" stroke-width="1.0"/><path d="M415.06 186L420.26 186M417.66 183.4L417.66 188.6" stroke="#1ae6f0" stroke-width="1.0"/><path d="M426.01 186L431.21 186M428.61 183.4L428.61 188.6" stroke="#1ae6f0" stroke-width="1.0"/><path d="M436.96 186L442.16 186M439.56 183.4L439.56 188.6" stroke="#1ae6f0" stroke-width="1.0"/><path d="M447.91 186L453.11 186M450.51 183.4L450.51 188.6" stroke="#1ae6f0" stroke-width="1.0"/><path d="M458.86 186L464.06 186M461.46 183.4L461.46 188.6" stroke="#1ae6f0" stroke-width="1.0"/><path d="M469.81 186L475.01 186M472.41 183.4L472.41 188.6" stroke="#1ae6f0" stroke-width="1.0"/><path d="M480.76 186L485.96 186M483.36 183.4L483.36 188.6" stroke="#1ae6f0" stroke-width="1.0"/><path d="M491.71 186L496.91 186M494.31 183.4L494.31 188.6" stroke="#1ae6f0" stroke-width="1.0"/><path d="M502.66 186L507.86 186M505.26 183.4L505.26 188.6" stroke="#1ae6f0" stroke-width="1.0"/><path d="M513.61 186L518.81 186M516.21 183.4L516.21 188.6" stroke="#1ae6f0" stroke-width="1.0"/><path d="M524.56 186L529.76 186M527.16 183.4L527.16 188.6" stroke="#1ae6f0" stroke-width="1.0"/><path d="M319.3 24.8 L320.9 40 L320.9 185.5 L538 185.5" fill="none" stroke="#ff8020" stroke-width="1.6" stroke-linejoin="round"/><path d="M316.44 26.88L322.16 26.88L319.3 21.94Z" fill="none" stroke="#ff8020" stroke-width="1.0"/><path d="M327.2 187.58L332.92 187.58L330.06 182.64Z" fill="none" stroke="#ff8020" stroke-width="1.0"/><path d="M338.15 187.58L343.87 187.58L341.01 182.64Z" fill="none" stroke="#ff8020" stroke-width="1.0"/><path d="M349.1 187.58L354.82 187.58L351.96 182.64Z" fill="none" stroke="#ff8020" stroke-width="1.0"/><path d="M360.05 187.58L365.77 187.58L362.91 182.64Z" fill="none" stroke="#ff8020" stroke-width="1.0"/><path d="M371 187.58L376.72 187.58L373.86 182.64Z" fill="none" stroke="#ff8020" stroke-width="1.0"/><path d="M381.95 187.58L387.67 187.58L384.81 182.64Z" fill="none" stroke="#ff8020" stroke-width="1.0"/><path d="M392.9 187.58L398.62 187.58L395.76 182.64Z" fill="none" stroke="#ff8020" stroke-width="1.0"/><path d="M403.85 187.58L409.57 187.58L406.71 182.64Z" fill="none" stroke="#ff8020" stroke-width="1.0"/><path d="M414.8 187.58L420.52 187.58L417.66 182.64Z" fill="none" stroke="#ff8020" stroke-width="1.0"/><path d="M425.75 187.58L431.47 187.58L428.61 182.64Z" fill="none" stroke="#ff8020" stroke-width="1.0"/><path d="M436.7 187.58L442.42 187.58L439.56 182.64Z" fill="none" stroke="#ff8020" stroke-width="1.0"/><path d="M447.65 187.58L453.37 187.58L450.51 182.64Z" fill="none" stroke="#ff8020" stroke-width="1.0"/><path d="M458.6 187.58L464.32 187.58L461.46 182.64Z" fill="none" stroke="#ff8020" stroke-width="1.0"/><path d="M469.55 187.58L475.27 187.58L472.41 182.64Z" fill="none" stroke="#ff8020" stroke-width="1.0"/><path d="M480.5 187.58L486.22 187.58L483.36 182.64Z" fill="none" stroke="#ff8020" stroke-width="1.0"/><path d="M491.45 187.58L497.17 187.58L494.31 182.64Z" fill="none" stroke="#ff8020" stroke-width="1.0"/><path d="M502.4 187.58L508.12 187.58L505.26 182.64Z" fill="none" stroke="#ff8020" stroke-width="1.0"/><path d="M513.35 187.58L519.07 187.58L516.21 182.64Z" fill="none" stroke="#ff8020" stroke-width="1.0"/><path d="M524.3 187.58L530.02 187.58L527.16 182.64Z" fill="none" stroke="#ff8020" stroke-width="1.0"/><path d="M319.3 15 L320.5 38 L322.5 55 L324.4 72.7 L325.5 95 L327.5 103 L329.6 111.3 L335.9 122.2 L340.5 130.5 L343.2 137.9 L348.5 142 L351.6 143.7 L362.7 145.2 L373.5 146.2 L384.4 146.9 L422.7 147.3 L423.7 176.5 L427.9 178.3 L439.6 180.4 L461.6 180.8 L473.1 182.4 L483.5 183.5 L505.5 183.9 L515.9 184.5 L537.9 185" fill="none" stroke="#1a9aff" stroke-width="1.6" stroke-linejoin="round"/><circle cx="319.3" cy="15" r="2.47" fill="none" stroke="#1a9aff" stroke-width="1.0"/><circle cx="330.06" cy="112.1" r="2.47" fill="none" stroke="#1a9aff" stroke-width="1.0"/><circle cx="341.01" cy="131.9" r="2.47" fill="none" stroke="#1a9aff" stroke-width="1.0"/><circle cx="351.96" cy="143.75" r="2.47" fill="none" stroke="#1a9aff" stroke-width="1.0"/><circle cx="362.91" cy="145.22" r="2.47" fill="none" stroke="#1a9aff" stroke-width="1.0"/><circle cx="373.86" cy="146.22" r="2.47" fill="none" stroke="#1a9aff" stroke-width="1.0"/><circle cx="384.81" cy="146.9" r="2.47" fill="none" stroke="#1a9aff" stroke-width="1.0"/><circle cx="395.76" cy="147.02" r="2.47" fill="none" stroke="#1a9aff" stroke-width="1.0"/><circle cx="406.71" cy="147.13" r="2.47" fill="none" stroke="#1a9aff" stroke-width="1.0"/><circle cx="417.66" cy="147.25" r="2.47" fill="none" stroke="#1a9aff" stroke-width="1.0"/><circle cx="428.61" cy="178.43" r="2.47" fill="none" stroke="#1a9aff" stroke-width="1.0"/><circle cx="439.56" cy="180.39" r="2.47" fill="none" stroke="#1a9aff" stroke-width="1.0"/><circle cx="450.51" cy="180.6" r="2.47" fill="none" stroke="#1a9aff" stroke-width="1.0"/><circle cx="461.46" cy="180.8" r="2.47" fill="none" stroke="#1a9aff" stroke-width="1.0"/><circle cx="472.41" cy="182.3" r="2.47" fill="none" stroke="#1a9aff" stroke-width="1.0"/><circle cx="483.36" cy="183.49" r="2.47" fill="none" stroke="#1a9aff" stroke-width="1.0"/><circle cx="494.31" cy="183.7" r="2.47" fill="none" stroke="#1a9aff" stroke-width="1.0"/><circle cx="505.26" cy="183.9" r="2.47" fill="none" stroke="#1a9aff" stroke-width="1.0"/><circle cx="516.21" cy="184.51" r="2.47" fill="none" stroke="#1a9aff" stroke-width="1.0"/><circle cx="527.16" cy="184.76" r="2.47" fill="none" stroke="#1a9aff" stroke-width="1.0"/><path d="M319.3 20 L320.5 38 L324 55 L329.6 64.4 L341.1 76.9 L352.6 87.4 L361.8 94.5 L372.7 104.5 L383.6 106.4 L394.5 107.6 L405.5 110 L418.2 112.7 L428.1 116.6 L439.6 120.8 L450.1 122.4 L461.6 122.4 L538 122.4" fill="none" stroke="#ffb8c6" stroke-width="1.6" stroke-linejoin="round"/><path d="M319.3 16.62L321.9 20L319.3 23.38L316.7 20Z" fill="none" stroke="#ffb8c6" stroke-width="1.0"/><path d="M330.06 61.52L332.66 64.9L330.06 68.28L327.46 64.9Z" fill="none" stroke="#ffb8c6" stroke-width="1.0"/><path d="M341.01 73.42L343.61 76.8L341.01 80.18L338.41 76.8Z" fill="none" stroke="#ffb8c6" stroke-width="1.0"/><path d="M351.96 83.44L354.56 86.82L351.96 90.2L349.36 86.82Z" fill="none" stroke="#ffb8c6" stroke-width="1.0"/><path d="M362.91 92.14L365.51 95.52L362.91 98.9L360.31 95.52Z" fill="none" stroke="#ffb8c6" stroke-width="1.0"/><path d="M373.86 101.32L376.46 104.7L373.86 108.08L371.26 104.7Z" fill="none" stroke="#ffb8c6" stroke-width="1.0"/><path d="M384.81 103.15L387.41 106.53L384.81 109.91L382.21 106.53Z" fill="none" stroke="#ffb8c6" stroke-width="1.0"/><path d="M395.76 104.49L398.36 107.87L395.76 111.25L393.16 107.87Z" fill="none" stroke="#ffb8c6" stroke-width="1.0"/><path d="M406.71 106.88L409.31 110.26L406.71 113.64L404.11 110.26Z" fill="none" stroke="#ffb8c6" stroke-width="1.0"/><path d="M417.66 109.21L420.26 112.59L417.66 115.97L415.06 112.59Z" fill="none" stroke="#ffb8c6" stroke-width="1.0"/><path d="M428.61 113.41L431.21 116.79L428.61 120.17L426.01 116.79Z" fill="none" stroke="#ffb8c6" stroke-width="1.0"/><path d="M439.56 117.41L442.16 120.79L439.56 124.17L436.96 120.79Z" fill="none" stroke="#ffb8c6" stroke-width="1.0"/><path d="M450.51 119.02L453.11 122.4L450.51 125.78L447.91 122.4Z" fill="none" stroke="#ffb8c6" stroke-width="1.0"/><path d="M461.46 119.02L464.06 122.4L461.46 125.78L458.86 122.4Z" fill="none" stroke="#ffb8c6" stroke-width="1.0"/><path d="M472.41 119.02L475.01 122.4L472.41 125.78L469.81 122.4Z" fill="none" stroke="#ffb8c6" stroke-width="1.0"/><path d="M483.36 119.02L485.96 122.4L483.36 125.78L480.76 122.4Z" fill="none" stroke="#ffb8c6" stroke-width="1.0"/><path d="M494.31 119.02L496.91 122.4L494.31 125.78L491.71 122.4Z" fill="none" stroke="#ffb8c6" stroke-width="1.0"/><path d="M505.26 119.02L507.86 122.4L505.26 125.78L502.66 122.4Z" fill="none" stroke="#ffb8c6" stroke-width="1.0"/><path d="M516.21 119.02L518.81 122.4L516.21 125.78L513.61 122.4Z" fill="none" stroke="#ffb8c6" stroke-width="1.0"/><path d="M527.16 119.02L529.76 122.4L527.16 125.78L524.56 122.4Z" fill="none" stroke="#ffb8c6" stroke-width="1.0"/><path d="M319.3 18 L320.5 38 L325 58 L329.6 65.4 L340 77.3 L349.1 83.6 L361.8 87.3 L376.4 90 L394.5 93.6 L412.7 96.4 L425 98.8 L445.9 100.9 L466.8 103 L487.7 104.7 L508.6 106.8 L519.1 108.2 L527.4 111.4 L533.7 115.5 L537.9 121.8" fill="none" stroke="#7b8fa6" stroke-width="1.25" stroke-linejoin="round"/><path d="M319.3 37 L319.4 186.3 L538 186.3" fill="none" stroke="#ff1a1a" stroke-width="1.6" stroke-linejoin="round"/><rect x="316.96" y="34.66" width="4.68" height="4.68" fill="none" stroke="#ff1a1a" stroke-width="1.05"/><rect x="327.72" y="183.96" width="4.68" height="4.68" fill="none" stroke="#ff1a1a" stroke-width="1.05"/><rect x="338.67" y="183.96" width="4.68" height="4.68" fill="none" stroke="#ff1a1a" stroke-width="1.05"/><rect x="349.62" y="183.96" width="4.68" height="4.68" fill="none" stroke="#ff1a1a" stroke-width="1.05"/><rect x="360.57" y="183.96" width="4.68" height="4.68" fill="none" stroke="#ff1a1a" stroke-width="1.05"/><rect x="371.52" y="183.96" width="4.68" height="4.68" fill="none" stroke="#ff1a1a" stroke-width="1.05"/><rect x="382.47" y="183.96" width="4.68" height="4.68" fill="none" stroke="#ff1a1a" stroke-width="1.05"/><rect x="393.42" y="183.96" width="4.68" height="4.68" fill="none" stroke="#ff1a1a" stroke-width="1.05"/><rect x="404.37" y="183.96" width="4.68" height="4.68" fill="none" stroke="#ff1a1a" stroke-width="1.05"/><rect x="415.32" y="183.96" width="4.68" height="4.68" fill="none" stroke="#ff1a1a" stroke-width="1.05"/><rect x="426.27" y="183.96" width="4.68" height="4.68" fill="none" stroke="#ff1a1a" stroke-width="1.05"/><rect x="437.22" y="183.96" width="4.68" height="4.68" fill="none" stroke="#ff1a1a" stroke-width="1.05"/><rect x="448.17" y="183.96" width="4.68" height="4.68" fill="none" stroke="#ff1a1a" stroke-width="1.05"/><rect x="459.12" y="183.96" width="4.68" height="4.68" fill="none" stroke="#ff1a1a" stroke-width="1.05"/><rect x="470.07" y="183.96" width="4.68" height="4.68" fill="none" stroke="#ff1a1a" stroke-width="1.05"/><rect x="481.02" y="183.96" width="4.68" height="4.68" fill="none" stroke="#ff1a1a" stroke-width="1.05"/><rect x="491.97" y="183.96" width="4.68" height="4.68" fill="none" stroke="#ff1a1a" stroke-width="1.05"/><rect x="502.92" y="183.96" width="4.68" height="4.68" fill="none" stroke="#ff1a1a" stroke-width="1.05"/><rect x="513.87" y="183.96" width="4.68" height="4.68" fill="none" stroke="#ff1a1a" stroke-width="1.05"/><rect x="524.82" y="183.96" width="4.68" height="4.68" fill="none" stroke="#ff1a1a" stroke-width="1.05"/></g><text x="340.9" y="196.35" text-anchor="middle" font-size="6.5" fill="#262626">200</text><text x="362.8" y="196.35" text-anchor="middle" font-size="6.5" fill="#262626">400</text><text x="384.7" y="196.35" text-anchor="middle" font-size="6.5" fill="#262626">600</text><text x="406.6" y="196.35" text-anchor="middle" font-size="6.5" fill="#262626">800</text><text x="428.5" y="196.35" text-anchor="middle" font-size="6.5" fill="#262626">1000</text><text x="450.4" y="196.35" text-anchor="middle" font-size="6.5" fill="#262626">1200</text><text x="472.3" y="196.35" text-anchor="middle" font-size="6.5" fill="#262626">1400</text><text x="494.2" y="196.35" text-anchor="middle" font-size="6.5" fill="#262626">1600</text><text x="516.1" y="196.35" text-anchor="middle" font-size="6.5" fill="#262626">1800</text><text x="538" y="196.35" text-anchor="middle" font-size="6.5" fill="#262626">2000</text><text x="312.5" y="176.6" text-anchor="end" font-size="6.5" fill="#262626">10</text><text x="312.7" y="173.3" text-anchor="start" font-size="4.3" fill="#262626">1</text><text x="312.5" y="131.9" text-anchor="end" font-size="6.5" fill="#262626">10</text><text x="312.7" y="128.6" text-anchor="start" font-size="4.3" fill="#262626">2</text><text x="312.5" y="87.3" text-anchor="end" font-size="6.5" fill="#262626">10</text><text x="312.7" y="84" text-anchor="start" font-size="4.3" fill="#262626">3</text><text x="312.5" y="42.7" text-anchor="end" font-size="6.5" fill="#262626">10</text><text x="312.7" y="39.4" text-anchor="start" font-size="4.3" fill="#262626">4</text><text x="428.5" y="11.05" text-anchor="middle" font-size="7.2" fill="#262626">CEC2019-F2</text><text x="428.5" y="206.55" text-anchor="middle" font-size="7" fill="#262626">Iterations</text><text transform="translate(301.6 101.75) rotate(-90)" text-anchor="middle" font-size="7.2" fill="#262626">Average best score obtained so far</text><rect x="344.3" y="19.4" width="188.4" height="26.6" fill="#fff" stroke="#8c8c8c" stroke-width="0.7"/><path d="M346.1 24.3H367.6" stroke="#1414ff" stroke-width="1.5"/><path d="M357.1 21.1L360.45 24.3L357.1 27.5L353.75 24.3Z" fill="#1414ff" stroke="#1414ff" stroke-width="0.7" stroke-linejoin="round"/><text x="369.1" y="26.4" font-size="5.85" fill="#262626">PSO</text><path d="M346.1 32.7H367.6" stroke="#ff1aff" stroke-width="1.5"/><path d="M353.9 30.37L360.3 30.37L357.1 35.9Z" fill="#ff1aff" fill-opacity="0.75" stroke="#ff1aff" stroke-width="1.0"/><text x="369.1" y="34.8" font-size="5.85" fill="#262626">AO</text><path d="M346.1 41.1H367.6" stroke="#10f010" stroke-width="1.5"/><circle cx="357.1" cy="41.1" r="2.62" fill="#10f010"/><text x="369.1" y="43.2" font-size="5.85" fill="#262626">BWO</text><path d="M386.5 24.3H408" stroke="#0f8080" stroke-width="1.5"/><path d="M395.17 21.97L399.83 26.63M395.17 26.63L399.83 21.97M394.59 24.3L400.41 24.3" stroke="#0f8080" stroke-width="1.0"/><text x="409.5" y="26.4" font-size="5.85" fill="#262626">GJO</text><path d="M386.5 32.7H408" stroke="#1ae6f0" stroke-width="1.5"/><path d="M394.59 32.7L400.41 32.7M397.5 29.79L397.5 35.61" stroke="#1ae6f0" stroke-width="1.0"/><text x="409.5" y="34.8" font-size="5.85" fill="#262626">COA</text><path d="M386.5 41.1H408" stroke="#ff8020" stroke-width="1.5"/><path d="M394.3 43.43L400.7 43.43L397.5 37.9Z" fill="none" stroke="#ff8020" stroke-width="1.0"/><text x="409.5" y="43.2" font-size="5.85" fill="#262626">CSCAHHO</text><path d="M442.5 24.3H464" stroke="#1a9aff" stroke-width="1.5"/><circle cx="453.5" cy="24.3" r="2.77" fill="none" stroke="#1a9aff" stroke-width="1.0"/><text x="465.5" y="26.4" font-size="5.85" fill="#262626">AOSMA</text><path d="M442.5 32.7H464" stroke="#ffb8c6" stroke-width="1.5"/><path d="M453.5 28.91L456.41 32.7L453.5 36.49L450.59 32.7Z" fill="none" stroke="#ffb8c6" stroke-width="1.0"/><text x="465.5" y="34.8" font-size="5.85" fill="#262626">ATOA</text><path d="M442.5 41.1H464" stroke="#7b8fa6" stroke-width="1.5"/><text x="465.5" y="43.2" font-size="5.85" fill="#262626">AGWO</text><path d="M490.9 24.3H512.4" stroke="#ff1a1a" stroke-width="1.5"/><rect x="499.28" y="21.68" width="5.24" height="5.24" fill="none" stroke="#ff1a1a" stroke-width="1.05"/><text x="513.9" y="26.4" font-size="5.85" fill="#262626">ECOA</text></g><g><clipPath id="clip01"><rect x="27.2" y="223" width="223.5" height="181.2"/></clipPath><path d="M31.2 227H250.2V400.2H31.2Z" fill="none" stroke="#808080" stroke-width="1.0"/><path d="M53.1 400.2v-2M53.1 227v2M75 400.2v-2M75 227v2M96.9 400.2v-2M96.9 227v2M118.8 400.2v-2M118.8 227v2M140.7 400.2v-2M140.7 227v2M162.6 400.2v-2M162.6 227v2M184.5 400.2v-2M184.5 227v2M206.4 400.2v-2M206.4 227v2M228.3 400.2v-2M228.3 227v2M250.2 400.2v-2M250.2 227v2M31.2 390.88h2M250.2 390.88h-2M31.2 358.22h2M250.2 358.22h-2M31.2 332.89h2M250.2 332.89h-2M31.2 312.19h2M250.2 312.19h-2M31.2 294.69h2M250.2 294.69h-2M31.2 279.53h2M250.2 279.53h-2M31.2 266.16h2M250.2 266.16h-2M31.2 254.2h2M250.2 254.2h-2M31.2 243.38h2M250.2 243.38h-2M31.2 233.5h2M250.2 233.5h-2" stroke="#808080" stroke-width="0.7"/><g clip-path="url(#clip01)"><path d="M31.3 232 L32.5 240 L34.1 244.4 L41.8 252.5 L52.4 259.7 L63.6 263.8 L74.8 267.8 L85.6 269.9 L96.6 271.3 L107.8 275.4 L118.6 276 L129.8 277.4 L140.3 278.4 L151.6 280.5 L162.7 281.6 L173.9 283.7 L185 285.2 L195.6 285.8 L206.7 286.9 L218 288.4 L228.6 289.7 L239.3 290.1 L250 290.5" fill="none" stroke="#1414ff" stroke-width="1.6" stroke-linejoin="round"/><path d="M31.3 229.14L34.29 232L31.3 234.86L28.31 232Z" fill="#1414ff" stroke="#1414ff" stroke-width="0.7" stroke-linejoin="round"/><path d="M42.26 249.95L45.25 252.81L42.26 255.67L39.27 252.81Z" fill="#1414ff" stroke="#1414ff" stroke-width="0.7" stroke-linejoin="round"/><path d="M53.21 257.14L56.2 260L53.21 262.86L50.22 260Z" fill="#1414ff" stroke="#1414ff" stroke-width="0.7" stroke-linejoin="round"/><path d="M64.16 261.14L67.15 264L64.16 266.86L61.17 264Z" fill="#1414ff" stroke="#1414ff" stroke-width="0.7" stroke-linejoin="round"/><path d="M75.11 265L78.1 267.86L75.11 270.72L72.12 267.86Z" fill="#1414ff" stroke="#1414ff" stroke-width="0.7" stroke-linejoin="round"/><path d="M86.06 267.1L89.05 269.96L86.06 272.82L83.07 269.96Z" fill="#1414ff" stroke="#1414ff" stroke-width="0.7" stroke-linejoin="round"/><path d="M97.01 268.59L100 271.45L97.01 274.31L94.02 271.45Z" fill="#1414ff" stroke="#1414ff" stroke-width="0.7" stroke-linejoin="round"/><path d="M107.96 272.55L110.95 275.41L107.96 278.27L104.97 275.41Z" fill="#1414ff" stroke="#1414ff" stroke-width="0.7" stroke-linejoin="round"/><path d="M118.91 273.18L121.9 276.04L118.91 278.9L115.92 276.04Z" fill="#1414ff" stroke="#1414ff" stroke-width="0.7" stroke-linejoin="round"/><path d="M129.86 274.55L132.85 277.41L129.86 280.27L126.87 277.41Z" fill="#1414ff" stroke="#1414ff" stroke-width="0.7" stroke-linejoin="round"/><path d="M140.81 275.63L143.8 278.49L140.81 281.35L137.82 278.49Z" fill="#1414ff" stroke="#1414ff" stroke-width="0.7" stroke-linejoin="round"/><path d="M151.76 277.66L154.75 280.52L151.76 283.38L148.77 280.52Z" fill="#1414ff" stroke="#1414ff" stroke-width="0.7" stroke-linejoin="round"/><path d="M162.71 278.74L165.7 281.6L162.71 284.46L159.72 281.6Z" fill="#1414ff" stroke="#1414ff" stroke-width="0.7" stroke-linejoin="round"/><path d="M173.66 280.79L176.65 283.65L173.66 286.51L170.67 283.65Z" fill="#1414ff" stroke="#1414ff" stroke-width="0.7" stroke-linejoin="round"/><path d="M184.61 282.29L187.6 285.15L184.61 288.01L181.62 285.15Z" fill="#1414ff" stroke="#1414ff" stroke-width="0.7" stroke-linejoin="round"/><path d="M195.56 282.94L198.55 285.8L195.56 288.66L192.57 285.8Z" fill="#1414ff" stroke="#1414ff" stroke-width="0.7" stroke-linejoin="round"/><path d="M206.51 284.02L209.5 286.88L206.51 289.74L203.52 286.88Z" fill="#1414ff" stroke="#1414ff" stroke-width="0.7" stroke-linejoin="round"/><path d="M217.46 285.47L220.45 288.33L217.46 291.19L214.47 288.33Z" fill="#1414ff" stroke="#1414ff" stroke-width="0.7" stroke-linejoin="round"/><path d="M228.41 286.82L231.4 289.68L228.41 292.54L225.42 289.68Z" fill="#1414ff" stroke="#1414ff" stroke-width="0.7" stroke-linejoin="round"/><path d="M239.36 287.24L242.35 290.1L239.36 292.96L236.37 290.1Z" fill="#1414ff" stroke="#1414ff" stroke-width="0.7" stroke-linejoin="round"/><path d="M31.3 229 L33 236 L35 239.5 L41.8 240.5 L140.3 241.8 L176.5 242.2 L180.7 252.9 L184.4 258.2 L190.3 261.4 L195.6 265.6 L201 269.9 L206.9 273.1 L212.7 278.4 L218 282.6 L228.6 291.1 L235 297.5 L237.5 302 L241.4 309 L245 325 L250 345" fill="none" stroke="#ff1aff" stroke-width="1.6" stroke-linejoin="round"/><path d="M28.44 226.92L34.16 226.92L31.3 231.86Z" fill="#ff1aff" fill-opacity="0.75" stroke="#ff1aff" stroke-width="1.0"/><path d="M39.4 238.43L45.12 238.43L42.26 243.37Z" fill="#ff1aff" fill-opacity="0.75" stroke="#ff1aff" stroke-width="1.0"/><path d="M50.35 238.57L56.07 238.57L53.21 243.51Z" fill="#ff1aff" fill-opacity="0.75" stroke="#ff1aff" stroke-width="1.0"/><path d="M61.3 238.72L67.02 238.72L64.16 243.66Z" fill="#ff1aff" fill-opacity="0.75" stroke="#ff1aff" stroke-width="1.0"/><path d="M72.25 238.86L77.97 238.86L75.11 243.8Z" fill="#ff1aff" fill-opacity="0.75" stroke="#ff1aff" stroke-width="1.0"/><path d="M83.2 239L88.92 239L86.06 243.94Z" fill="#ff1aff" fill-opacity="0.75" stroke="#ff1aff" stroke-width="1.0"/><path d="M94.15 239.15L99.87 239.15L97.01 244.09Z" fill="#ff1aff" fill-opacity="0.75" stroke="#ff1aff" stroke-width="1.0"/><path d="M105.1 239.29L110.82 239.29L107.96 244.23Z" fill="#ff1aff" fill-opacity="0.75" stroke="#ff1aff" stroke-width="1.0"/><path d="M116.05 239.44L121.77 239.44L118.91 244.38Z" fill="#ff1aff" fill-opacity="0.75" stroke="#ff1aff" stroke-width="1.0"/><path d="M127 239.58L132.72 239.58L129.86 244.52Z" fill="#ff1aff" fill-opacity="0.75" stroke="#ff1aff" stroke-width="1.0"/><path d="M137.95 239.73L143.67 239.73L140.81 244.67Z" fill="#ff1aff" fill-opacity="0.75" stroke="#ff1aff" stroke-width="1.0"/><path d="M148.9 239.85L154.62 239.85L151.76 244.79Z" fill="#ff1aff" fill-opacity="0.75" stroke="#ff1aff" stroke-width="1.0"/><path d="M159.85 239.97L165.57 239.97L162.71 244.91Z" fill="#ff1aff" fill-opacity="0.75" stroke="#ff1aff" stroke-width="1.0"/><path d="M170.8 240.09L176.52 240.09L173.66 245.03Z" fill="#ff1aff" fill-opacity="0.75" stroke="#ff1aff" stroke-width="1.0"/><path d="M181.75 256.23L187.47 256.23L184.61 261.17Z" fill="#ff1aff" fill-opacity="0.75" stroke="#ff1aff" stroke-width="1.0"/><path d="M192.7 263.49L198.42 263.49L195.56 268.43Z" fill="#ff1aff" fill-opacity="0.75" stroke="#ff1aff" stroke-width="1.0"/><path d="M203.65 270.81L209.37 270.81L206.51 275.75Z" fill="#ff1aff" fill-opacity="0.75" stroke="#ff1aff" stroke-width="1.0"/><path d="M214.6 280.09L220.32 280.09L217.46 285.03Z" fill="#ff1aff" fill-opacity="0.75" stroke="#ff1aff" stroke-width="1.0"/><path d="M225.55 288.87L231.27 288.87L228.41 293.81Z" fill="#ff1aff" fill-opacity="0.75" stroke="#ff1aff" stroke-width="1.0"/><path d="M236.5 303.26L242.22 303.26L239.36 308.2Z" fill="#ff1aff" fill-opacity="0.75" stroke="#ff1aff" stroke-width="1.0"/><path d="M31.3 230 L32.3 255 L34.1 275 L37 290 L41.8 301.4 L52.4 313.6 L63.6 322.8 L74.8 327.9 L86 333.4 L96.8 336.6 L107.8 340.1 L118.6 342.1 L129.8 343.1 L140.3 344.3 L151.6 345.7 L162.7 349.4 L173.9 350.4 L185 351.5 L195.6 352.1 L206.7 353.2 L218 354.3 L228.6 354.9 L250 355.3" fill="none" stroke="#10f010" stroke-width="1.6" stroke-linejoin="round"/><circle cx="31.3" cy="230" r="2.34" fill="#10f010"/><circle cx="42.26" cy="301.93" r="2.34" fill="#10f010"/><circle cx="53.21" cy="314.26" r="2.34" fill="#10f010"/><circle cx="64.16" cy="323.05" r="2.34" fill="#10f010"/><circle cx="75.11" cy="328.05" r="2.34" fill="#10f010"/><circle cx="86.06" cy="333.42" r="2.34" fill="#10f010"/><circle cx="97.01" cy="336.67" r="2.34" fill="#10f010"/><circle cx="107.96" cy="340.13" r="2.34" fill="#10f010"/><circle cx="118.91" cy="342.13" r="2.34" fill="#10f010"/><circle cx="129.86" cy="343.11" r="2.34" fill="#10f010"/><circle cx="140.81" cy="344.36" r="2.34" fill="#10f010"/><circle cx="151.76" cy="345.75" r="2.34" fill="#10f010"/><circle cx="162.71" cy="349.4" r="2.34" fill="#10f010"/><circle cx="173.66" cy="350.38" r="2.34" fill="#10f010"/><circle cx="184.61" cy="351.46" r="2.34" fill="#10f010"/><circle cx="195.56" cy="352.1" r="2.34" fill="#10f010"/><circle cx="206.51" cy="353.18" r="2.34" fill="#10f010"/><circle cx="217.46" cy="354.25" r="2.34" fill="#10f010"/><circle cx="228.41" cy="354.89" r="2.34" fill="#10f010"/><circle cx="239.36" cy="355.1" r="2.34" fill="#10f010"/><path d="M31.3 231 L33 250 L36 268 L41.8 282 L52.4 288.1 L63.6 292.6 L74.8 296.3 L86 300 L96.8 302.8 L107.8 305.5 L118.6 308.5 L129.8 311.6 L140.3 315.5 L151.6 317.4 L156.3 318.1 L162.7 320.2 L173.9 323.4 L185 326.6 L195.6 329.8 L206.7 334 L218 338.3 L228.6 341.5 L239.3 344.7 L250 346.8" fill="none" stroke="#0f8080" stroke-width="1.6" stroke-linejoin="round"/><path d="M29.22 228.92L33.38 233.08M29.22 233.08L33.38 228.92M28.7 231L33.9 231" stroke="#0f8080" stroke-width="1.0"/><path d="M40.18 280.18L44.34 284.34M40.18 284.34L44.34 280.18M39.66 282.26L44.86 282.26" stroke="#0f8080" stroke-width="1.0"/><path d="M51.13 286.35L55.29 290.51M51.13 290.51L55.29 286.35M50.61 288.43L55.81 288.43" stroke="#0f8080" stroke-width="1.0"/><path d="M62.08 290.7L66.24 294.86M62.08 294.86L66.24 290.7M61.56 292.78L66.76 292.78" stroke="#0f8080" stroke-width="1.0"/><path d="M73.03 294.32L77.19 298.48M73.03 298.48L77.19 294.32M72.51 296.4L77.71 296.4" stroke="#0f8080" stroke-width="1.0"/><path d="M83.98 297.94L88.14 302.1M83.98 302.1L88.14 297.94M83.46 300.02L88.66 300.02" stroke="#0f8080" stroke-width="1.0"/><path d="M94.93 300.77L99.09 304.93M94.93 304.93L99.09 300.77M94.41 302.85L99.61 302.85" stroke="#0f8080" stroke-width="1.0"/><path d="M105.88 303.46L110.04 307.62M105.88 307.62L110.04 303.46M105.36 305.54L110.56 305.54" stroke="#0f8080" stroke-width="1.0"/><path d="M116.83 306.51L120.99 310.67M116.83 310.67L120.99 306.51M116.31 308.59L121.51 308.59" stroke="#0f8080" stroke-width="1.0"/><path d="M127.78 309.54L131.94 313.7M127.78 313.7L131.94 309.54M127.26 311.62L132.46 311.62" stroke="#0f8080" stroke-width="1.0"/><path d="M138.73 313.51L142.89 317.67M138.73 317.67L142.89 313.51M138.21 315.59L143.41 315.59" stroke="#0f8080" stroke-width="1.0"/><path d="M149.68 315.34L153.84 319.5M149.68 319.5L153.84 315.34M149.16 317.42L154.36 317.42" stroke="#0f8080" stroke-width="1.0"/><path d="M160.63 318.12L164.79 322.28M160.63 322.28L164.79 318.12M160.11 320.2L165.31 320.2" stroke="#0f8080" stroke-width="1.0"/><path d="M171.58 321.25L175.74 325.41M171.58 325.41L175.74 321.25M171.06 323.33L176.26 323.33" stroke="#0f8080" stroke-width="1.0"/><path d="M182.53 324.41L186.69 328.57M182.53 328.57L186.69 324.41M182.01 326.49L187.21 326.49" stroke="#0f8080" stroke-width="1.0"/><path d="M193.48 327.71L197.64 331.87M193.48 331.87L197.64 327.71M192.96 329.79L198.16 329.79" stroke="#0f8080" stroke-width="1.0"/><path d="M204.43 331.85L208.59 336.01M204.43 336.01L208.59 331.85M203.91 333.93L209.11 333.93" stroke="#0f8080" stroke-width="1.0"/><path d="M215.38 336.01L219.54 340.17M215.38 340.17L219.54 336.01M214.86 338.09L220.06 338.09" stroke="#0f8080" stroke-width="1.0"/><path d="M226.33 339.36L230.49 343.52M226.33 343.52L230.49 339.36M225.81 341.44L231.01 341.44" stroke="#0f8080" stroke-width="1.0"/><path d="M237.28 342.63L241.44 346.79M237.28 346.79L241.44 342.63M236.76 344.71L241.96 344.71" stroke="#0f8080" stroke-width="1.0"/><path d="M31.3 229 L35.1 238.3 L42.3 248.5 L52.4 258.7 L63.6 265.8 L74.8 269.9 L85.6 273.9 L96.6 278 L107.8 282.1 L118.6 285.1 L129.8 287.2 L140 288.7 L151.6 293.3 L162.7 295.4 L173.9 297.5 L185 299.7 L195.6 301.8 L206.7 302.9 L218 303.9 L228.6 305 L239.3 306 L250 307.1" fill="none" stroke="#1ae6f0" stroke-width="1.6" stroke-linejoin="round"/><path d="M28.7 229L33.9 229M31.3 226.4L31.3 231.6" stroke="#1ae6f0" stroke-width="1.0"/><path d="M39.66 248.44L44.86 248.44M42.26 245.84L42.26 251.04" stroke="#1ae6f0" stroke-width="1.0"/><path d="M50.61 259.21L55.81 259.21M53.21 256.61L53.21 261.81" stroke="#1ae6f0" stroke-width="1.0"/><path d="M61.56 266L66.76 266M64.16 263.4L64.16 268.6" stroke="#1ae6f0" stroke-width="1.0"/><path d="M72.51 270.01L77.71 270.01M75.11 267.41L75.11 272.61" stroke="#1ae6f0" stroke-width="1.0"/><path d="M83.46 274.07L88.66 274.07M86.06 271.47L86.06 276.67" stroke="#1ae6f0" stroke-width="1.0"/><path d="M94.41 278.15L99.61 278.15M97.01 275.55L97.01 280.75" stroke="#1ae6f0" stroke-width="1.0"/><path d="M105.36 282.14L110.56 282.14M107.96 279.54L107.96 284.74" stroke="#1ae6f0" stroke-width="1.0"/><path d="M116.31 285.16L121.51 285.16M118.91 282.56L118.91 287.76" stroke="#1ae6f0" stroke-width="1.0"/><path d="M127.26 287.21L132.46 287.21M129.86 284.61L129.86 289.81" stroke="#1ae6f0" stroke-width="1.0"/><path d="M138.21 289.02L143.41 289.02M140.81 286.42L140.81 291.62" stroke="#1ae6f0" stroke-width="1.0"/><path d="M149.16 293.33L154.36 293.33M151.76 290.73L151.76 295.93" stroke="#1ae6f0" stroke-width="1.0"/><path d="M160.11 295.4L165.31 295.4M162.71 292.8L162.71 298" stroke="#1ae6f0" stroke-width="1.0"/><path d="M171.06 297.45L176.26 297.45M173.66 294.85L173.66 300.05" stroke="#1ae6f0" stroke-width="1.0"/><path d="M182.01 299.62L187.21 299.62M184.61 297.02L184.61 302.22" stroke="#1ae6f0" stroke-width="1.0"/><path d="M192.96 301.79L198.16 301.79M195.56 299.19L195.56 304.39" stroke="#1ae6f0" stroke-width="1.0"/><path d="M203.91 302.88L209.11 302.88M206.51 300.28L206.51 305.48" stroke="#1ae6f0" stroke-width="1.0"/><path d="M214.86 303.85L220.06 303.85M217.46 301.25L217.46 306.45" stroke="#1ae6f0" stroke-width="1.0"/><path d="M225.81 304.98L231.01 304.98M228.41 302.38L228.41 307.58" stroke="#1ae6f0" stroke-width="1.0"/><path d="M236.76 306.01L241.96 306.01M239.36 303.41L239.36 308.61" stroke="#1ae6f0" stroke-width="1.0"/><path d="M31.3 231 L32.5 265 L34.1 280 L37.2 292.2 L41.8 297.3 L52.4 305.5 L63.6 307.5 L74.8 310.5 L86 310.5 L96.8 312.6 L107.8 316.7 L118.6 317.7 L129.8 321.8 L140.3 323 L151.6 323.4 L162.7 324.5 L173.9 326 L185 326.6 L195.6 327.7 L206.7 327.7 L218 328.3 L228.6 328.7 L239.3 329.8 L250 330.2" fill="none" stroke="#ff8020" stroke-width="1.6" stroke-linejoin="round"/><path d="M28.44 233.08L34.16 233.08L31.3 228.14Z" fill="none" stroke="#ff8020" stroke-width="1.0"/><path d="M39.4 299.74L45.12 299.74L42.26 294.8Z" fill="none" stroke="#ff8020" stroke-width="1.0"/><path d="M50.35 307.72L56.07 307.72L53.21 302.78Z" fill="none" stroke="#ff8020" stroke-width="1.0"/><path d="M61.3 309.73L67.02 309.73L64.16 304.79Z" fill="none" stroke="#ff8020" stroke-width="1.0"/><path d="M72.25 312.58L77.97 312.58L75.11 307.64Z" fill="none" stroke="#ff8020" stroke-width="1.0"/><path d="M83.2 312.59L88.92 312.59L86.06 307.65Z" fill="none" stroke="#ff8020" stroke-width="1.0"/><path d="M94.15 314.76L99.87 314.76L97.01 309.82Z" fill="none" stroke="#ff8020" stroke-width="1.0"/><path d="M105.1 318.79L110.82 318.79L107.96 313.85Z" fill="none" stroke="#ff8020" stroke-width="1.0"/><path d="M116.05 319.89L121.77 319.89L118.91 314.95Z" fill="none" stroke="#ff8020" stroke-width="1.0"/><path d="M127 323.89L132.72 323.89L129.86 318.95Z" fill="none" stroke="#ff8020" stroke-width="1.0"/><path d="M137.95 325.1L143.67 325.1L140.81 320.16Z" fill="none" stroke="#ff8020" stroke-width="1.0"/><path d="M148.9 325.5L154.62 325.5L151.76 320.56Z" fill="none" stroke="#ff8020" stroke-width="1.0"/><path d="M159.85 326.58L165.57 326.58L162.71 321.64Z" fill="none" stroke="#ff8020" stroke-width="1.0"/><path d="M170.8 328.05L176.52 328.05L173.66 323.11Z" fill="none" stroke="#ff8020" stroke-width="1.0"/><path d="M181.75 328.66L187.47 328.66L184.61 323.72Z" fill="none" stroke="#ff8020" stroke-width="1.0"/><path d="M192.7 329.78L198.42 329.78L195.56 324.84Z" fill="none" stroke="#ff8020" stroke-width="1.0"/><path d="M203.65 329.78L209.37 329.78L206.51 324.84Z" fill="none" stroke="#ff8020" stroke-width="1.0"/><path d="M214.6 330.35L220.32 330.35L217.46 325.41Z" fill="none" stroke="#ff8020" stroke-width="1.0"/><path d="M225.55 330.77L231.27 330.77L228.41 325.83Z" fill="none" stroke="#ff8020" stroke-width="1.0"/><path d="M236.5 331.88L242.22 331.88L239.36 326.94Z" fill="none" stroke="#ff8020" stroke-width="1.0"/><path d="M31.3 226.8 L33.5 240 L36.1 252.5 L39 267 L41.8 280 L46.3 296.3 L52.4 310.5 L58.5 320.7 L63.6 328.9 L74.8 337.4 L86 342.7 L96.8 345.6 L107.8 349.2 L118.6 354.3 L129.8 359.5 L140.3 361.7 L151.6 363.4 L162.7 363.8 L173.9 365.5 L185 367.7 L195.6 369.1 L206.7 369.8 L218 371.9 L228.6 372.3 L250 372.8" fill="none" stroke="#1a9aff" stroke-width="1.6" stroke-linejoin="round"/><circle cx="31.3" cy="226.8" r="2.47" fill="none" stroke="#1a9aff" stroke-width="1.0"/><circle cx="42.26" cy="281.66" r="2.47" fill="none" stroke="#1a9aff" stroke-width="1.0"/><circle cx="53.21" cy="311.85" r="2.47" fill="none" stroke="#1a9aff" stroke-width="1.0"/><circle cx="64.16" cy="329.32" r="2.47" fill="none" stroke="#1a9aff" stroke-width="1.0"/><circle cx="75.11" cy="337.55" r="2.47" fill="none" stroke="#1a9aff" stroke-width="1.0"/><circle cx="86.06" cy="342.72" r="2.47" fill="none" stroke="#1a9aff" stroke-width="1.0"/><circle cx="97.01" cy="345.67" r="2.47" fill="none" stroke="#1a9aff" stroke-width="1.0"/><circle cx="107.96" cy="349.28" r="2.47" fill="none" stroke="#1a9aff" stroke-width="1.0"/><circle cx="118.91" cy="354.44" r="2.47" fill="none" stroke="#1a9aff" stroke-width="1.0"/><circle cx="129.86" cy="359.51" r="2.47" fill="none" stroke="#1a9aff" stroke-width="1.0"/><circle cx="140.81" cy="361.78" r="2.47" fill="none" stroke="#1a9aff" stroke-width="1.0"/><circle cx="151.76" cy="363.41" r="2.47" fill="none" stroke="#1a9aff" stroke-width="1.0"/><circle cx="162.71" cy="363.8" r="2.47" fill="none" stroke="#1a9aff" stroke-width="1.0"/><circle cx="173.66" cy="365.46" r="2.47" fill="none" stroke="#1a9aff" stroke-width="1.0"/><circle cx="184.61" cy="367.62" r="2.47" fill="none" stroke="#1a9aff" stroke-width="1.0"/><circle cx="195.56" cy="369.09" r="2.47" fill="none" stroke="#1a9aff" stroke-width="1.0"/><circle cx="206.51" cy="369.79" r="2.47" fill="none" stroke="#1a9aff" stroke-width="1.0"/><circle cx="217.46" cy="371.8" r="2.47" fill="none" stroke="#1a9aff" stroke-width="1.0"/><circle cx="228.41" cy="372.29" r="2.47" fill="none" stroke="#1a9aff" stroke-width="1.0"/><circle cx="239.36" cy="372.55" r="2.47" fill="none" stroke="#1a9aff" stroke-width="1.0"/><path d="M31.3 230 L33 240 L36.1 248.5 L41.8 257.6 L52.4 264.8 L63.6 267.8 L74.8 271.9 L85.6 273.9 L96.6 275 L107.8 276 L118.6 276.6 L129.8 277 L140 277.4 L250 277.7" fill="none" stroke="#ffb8c6" stroke-width="1.6" stroke-linejoin="round"/><path d="M31.3 226.62L33.9 230L31.3 233.38L28.7 230Z" fill="none" stroke="#ffb8c6" stroke-width="1.0"/><path d="M42.26 254.53L44.86 257.91L42.26 261.29L39.66 257.91Z" fill="none" stroke="#ffb8c6" stroke-width="1.0"/><path d="M53.21 261.64L55.81 265.02L53.21 268.4L50.61 265.02Z" fill="none" stroke="#ffb8c6" stroke-width="1.0"/><path d="M64.16 264.62L66.76 268L64.16 271.38L61.56 268Z" fill="none" stroke="#ffb8c6" stroke-width="1.0"/><path d="M75.11 268.58L77.71 271.96L75.11 275.34L72.51 271.96Z" fill="none" stroke="#ffb8c6" stroke-width="1.0"/><path d="M86.06 270.57L88.66 273.95L86.06 277.33L83.46 273.95Z" fill="none" stroke="#ffb8c6" stroke-width="1.0"/><path d="M97.01 271.66L99.61 275.04L97.01 278.42L94.41 275.04Z" fill="none" stroke="#ffb8c6" stroke-width="1.0"/><path d="M107.96 272.63L110.56 276.01L107.96 279.39L105.36 276.01Z" fill="none" stroke="#ffb8c6" stroke-width="1.0"/><path d="M118.91 273.23L121.51 276.61L118.91 279.99L116.31 276.61Z" fill="none" stroke="#ffb8c6" stroke-width="1.0"/><path d="M129.86 273.62L132.46 277L129.86 280.38L127.26 277Z" fill="none" stroke="#ffb8c6" stroke-width="1.0"/><path d="M140.81 274.02L143.41 277.4L140.81 280.78L138.21 277.4Z" fill="none" stroke="#ffb8c6" stroke-width="1.0"/><path d="M151.76 274.05L154.36 277.43L151.76 280.81L149.16 277.43Z" fill="none" stroke="#ffb8c6" stroke-width="1.0"/><path d="M162.71 274.08L165.31 277.46L162.71 280.84L160.11 277.46Z" fill="none" stroke="#ffb8c6" stroke-width="1.0"/><path d="M173.66 274.11L176.26 277.49L173.66 280.87L171.06 277.49Z" fill="none" stroke="#ffb8c6" stroke-width="1.0"/><path d="M184.61 274.14L187.21 277.52L184.61 280.9L182.01 277.52Z" fill="none" stroke="#ffb8c6" stroke-width="1.0"/><path d="M195.56 274.17L198.16 277.55L195.56 280.93L192.96 277.55Z" fill="none" stroke="#ffb8c6" stroke-width="1.0"/><path d="M206.51 274.2L209.11 277.58L206.51 280.96L203.91 277.58Z" fill="none" stroke="#ffb8c6" stroke-width="1.0"/><path d="M217.46 274.23L220.06 277.61L217.46 280.99L214.86 277.61Z" fill="none" stroke="#ffb8c6" stroke-width="1.0"/><path d="M228.41 274.26L231.01 277.64L228.41 281.02L225.81 277.64Z" fill="none" stroke="#ffb8c6" stroke-width="1.0"/><path d="M239.36 274.29L241.96 277.67L239.36 281.05L236.76 277.67Z" fill="none" stroke="#ffb8c6" stroke-width="1.0"/><path d="M31.3 230 L32.1 280 L34.1 296.3 L38.2 312.6 L44.3 322.8 L52.4 333 L58.5 339.1 L68.7 342.1 L81 345.2 L95.2 350.3 L107.4 353.3 L117.6 355.4 L135 355.4 L166.9 355.7 L209.5 356.4 L220.1 357.4 L230.7 360.6 L237.1 364.9 L243.5 371.3 L250 374" fill="none" stroke="#7b8fa6" stroke-width="1.25" stroke-linejoin="round"/><path d="M31.3 233.5 L34.1 242.4 L37.2 272.9 L41.8 286.5 L52.8 297.9 L63.6 307.5 L74.8 316.3 L86 321.8 L96.8 330.9 L107.8 336 L118.6 342.1 L129.8 348.2 L140.3 352.8 L151.6 358.5 L162.7 363.4 L173.9 369.1 L185 372.8 L195.6 376.2 L206.7 380.4 L218 386.8 L228.6 389.8 L239.3 393.6 L250 399" fill="none" stroke="#ff1a1a" stroke-width="1.6" stroke-linejoin="round"/><rect x="28.96" y="231.16" width="4.68" height="4.68" fill="none" stroke="#ff1a1a" stroke-width="1.05"/><rect x="39.92" y="284.64" width="4.68" height="4.68" fill="none" stroke="#ff1a1a" stroke-width="1.05"/><rect x="50.87" y="295.92" width="4.68" height="4.68" fill="none" stroke="#ff1a1a" stroke-width="1.05"/><rect x="61.82" y="305.6" width="4.68" height="4.68" fill="none" stroke="#ff1a1a" stroke-width="1.05"/><rect x="72.77" y="314.11" width="4.68" height="4.68" fill="none" stroke="#ff1a1a" stroke-width="1.05"/><rect x="83.72" y="319.51" width="4.68" height="4.68" fill="none" stroke="#ff1a1a" stroke-width="1.05"/><rect x="94.67" y="328.66" width="4.68" height="4.68" fill="none" stroke="#ff1a1a" stroke-width="1.05"/><rect x="105.62" y="333.75" width="4.68" height="4.68" fill="none" stroke="#ff1a1a" stroke-width="1.05"/><rect x="116.57" y="339.93" width="4.68" height="4.68" fill="none" stroke="#ff1a1a" stroke-width="1.05"/><rect x="127.52" y="345.89" width="4.68" height="4.68" fill="none" stroke="#ff1a1a" stroke-width="1.05"/><rect x="138.47" y="350.72" width="4.68" height="4.68" fill="none" stroke="#ff1a1a" stroke-width="1.05"/><rect x="149.42" y="356.23" width="4.68" height="4.68" fill="none" stroke="#ff1a1a" stroke-width="1.05"/><rect x="160.37" y="361.06" width="4.68" height="4.68" fill="none" stroke="#ff1a1a" stroke-width="1.05"/><rect x="171.32" y="366.64" width="4.68" height="4.68" fill="none" stroke="#ff1a1a" stroke-width="1.05"/><rect x="182.27" y="370.33" width="4.68" height="4.68" fill="none" stroke="#ff1a1a" stroke-width="1.05"/><rect x="193.22" y="373.85" width="4.68" height="4.68" fill="none" stroke="#ff1a1a" stroke-width="1.05"/><rect x="204.17" y="377.99" width="4.68" height="4.68" fill="none" stroke="#ff1a1a" stroke-width="1.05"/><rect x="215.12" y="384.15" width="4.68" height="4.68" fill="none" stroke="#ff1a1a" stroke-width="1.05"/><rect x="226.07" y="387.41" width="4.68" height="4.68" fill="none" stroke="#ff1a1a" stroke-width="1.05"/><rect x="237.02" y="391.29" width="4.68" height="4.68" fill="none" stroke="#ff1a1a" stroke-width="1.05"/></g><text x="53.1" y="409.5" text-anchor="middle" font-size="6.5" fill="#262626">200</text><text x="75" y="409.5" text-anchor="middle" font-size="6.5" fill="#262626">400</text><text x="96.9" y="409.5" text-anchor="middle" font-size="6.5" fill="#262626">600</text><text x="118.8" y="409.5" text-anchor="middle" font-size="6.5" fill="#262626">800</text><text x="140.7" y="409.5" text-anchor="middle" font-size="6.5" fill="#262626">1000</text><text x="162.6" y="409.5" text-anchor="middle" font-size="6.5" fill="#262626">1200</text><text x="184.5" y="409.5" text-anchor="middle" font-size="6.5" fill="#262626">1400</text><text x="206.4" y="409.5" text-anchor="middle" font-size="6.5" fill="#262626">1600</text><text x="228.3" y="409.5" text-anchor="middle" font-size="6.5" fill="#262626">1800</text><text x="250.2" y="409.5" text-anchor="middle" font-size="6.5" fill="#262626">2000</text><text x="28" y="392.68" text-anchor="end" font-size="6.5" fill="#262626">3</text><text x="28" y="360.02" text-anchor="end" font-size="6.5" fill="#262626">4</text><text x="28" y="334.69" text-anchor="end" font-size="6.5" fill="#262626">5</text><text x="28" y="313.99" text-anchor="end" font-size="6.5" fill="#262626">6</text><text x="28" y="296.49" text-anchor="end" font-size="6.5" fill="#262626">7</text><text x="28" y="281.33" text-anchor="end" font-size="6.5" fill="#262626">8</text><text x="28" y="267.96" text-anchor="end" font-size="6.5" fill="#262626">9</text><text x="28" y="256" text-anchor="end" font-size="6.5" fill="#262626">10</text><text x="28" y="245.18" text-anchor="end" font-size="6.5" fill="#262626">11</text><text x="28" y="235.3" text-anchor="end" font-size="6.5" fill="#262626">12</text><text x="140.7" y="224.2" text-anchor="middle" font-size="7.2" fill="#262626">CEC2019-F3</text><text x="140.7" y="419.7" text-anchor="middle" font-size="7" fill="#262626">Iterations</text><text transform="translate(16.4 314.9) rotate(-90)" text-anchor="middle" font-size="7.2" fill="#262626">Average best score obtained so far</text><rect x="31.3" y="356.4" width="97.1" height="43" fill="#fff" stroke="#8c8c8c" stroke-width="0.7"/><path d="M32.3 361.26H53.8" stroke="#1414ff" stroke-width="1.5"/><path d="M43.3 358.06L46.65 361.26L43.3 364.46L39.95 361.26Z" fill="#1414ff" stroke="#1414ff" stroke-width="0.7" stroke-linejoin="round"/><text x="55.3" y="363.36" font-size="5.85" fill="#262626">PSO</text><path d="M32.3 369.58H53.8" stroke="#ff1aff" stroke-width="1.5"/><path d="M40.1 367.25L46.5 367.25L43.3 372.78Z" fill="#ff1aff" fill-opacity="0.75" stroke="#ff1aff" stroke-width="1.0"/><text x="55.3" y="371.68" font-size="5.85" fill="#262626">AO</text><path d="M32.3 377.9H53.8" stroke="#10f010" stroke-width="1.5"/><circle cx="43.3" cy="377.9" r="2.62" fill="#10f010"/><text x="55.3" y="380" font-size="5.85" fill="#262626">BWO</text><path d="M32.3 386.22H53.8" stroke="#0f8080" stroke-width="1.5"/><path d="M40.97 383.89L45.63 388.55M40.97 388.55L45.63 383.89M40.39 386.22L46.21 386.22" stroke="#0f8080" stroke-width="1.0"/><text x="55.3" y="388.32" font-size="5.85" fill="#262626">GJO</text><path d="M32.3 394.54H53.8" stroke="#1ae6f0" stroke-width="1.5"/><path d="M40.39 394.54L46.21 394.54M43.3 391.63L43.3 397.45" stroke="#1ae6f0" stroke-width="1.0"/><text x="55.3" y="396.64" font-size="5.85" fill="#262626">COA</text><path d="M73.2 361.26H94.7" stroke="#ff8020" stroke-width="1.5"/><path d="M81 363.59L87.4 363.59L84.2 358.06Z" fill="none" stroke="#ff8020" stroke-width="1.0"/><text x="96.2" y="363.36" font-size="5.85" fill="#262626">CSCAHHO</text><path d="M73.2 369.58H94.7" stroke="#1a9aff" stroke-width="1.5"/><circle cx="84.2" cy="369.58" r="2.77" fill="none" stroke="#1a9aff" stroke-width="1.0"/><text x="96.2" y="371.68" font-size="5.85" fill="#262626">AOSMA</text><path d="M73.2 377.9H94.7" stroke="#ffb8c6" stroke-width="1.5"/><path d="M84.2 374.11L87.11 377.9L84.2 381.69L81.29 377.9Z" fill="none" stroke="#ffb8c6" stroke-width="1.0"/><text x="96.2" y="380" font-size="5.85" fill="#262626">ATOA</text><path d="M73.2 386.22H94.7" stroke="#7b8fa6" stroke-width="1.5"/><text x="96.2" y="388.32" font-size="5.85" fill="#262626">AGWO</text><path d="M73.2 394.54H94.7" stroke="#ff1a1a" stroke-width="1.5"/><rect x="81.58" y="391.92" width="5.24" height="5.24" fill="none" stroke="#ff1a1a" stroke-width="1.05"/><text x="96.2" y="396.64" font-size="5.85" fill="#262626">ECOA</text></g><g><clipPath id="clip11"><rect x="315" y="223" width="223.5" height="181.2"/></clipPath><path d="M319 227H538V400.2H319Z" fill="none" stroke="#808080" stroke-width="1.0"/><path d="M340.9 400.2v-2M340.9 227v2M362.8 400.2v-2M362.8 227v2M384.7 400.2v-2M384.7 227v2M406.6 400.2v-2M406.6 227v2M428.5 400.2v-2M428.5 227v2M450.4 400.2v-2M450.4 227v2M472.3 400.2v-2M472.3 227v2M494.2 400.2v-2M494.2 227v2M516.1 400.2v-2M516.1 227v2M538 400.2v-2M538 227v2M319 386.31h2M538 386.31h-2M319 332.81h2M538 332.81h-2M319 301.52h2M538 301.52h-2M319 279.32h2M538 279.32h-2M319 262.1h2M538 262.1h-2M319 248.03h2M538 248.03h-2M319 236.13h2M538 236.13h-2" stroke="#808080" stroke-width="0.7"/><g clip-path="url(#clip11)"><path d="M319.3 255.5 L321 280 L324 292 L329.6 301 L340.5 313.4 L351.6 320.3 L362.7 325.1 L373.5 328.7 L384.4 333.9 L395.5 338.5 L406.4 343.3 L417.4 346 L428 349 L439.2 350.5 L450.1 351.5 L461.6 353.2 L472.7 354 L483.5 354.7 L494.4 356.1 L505.5 357.8 L516.4 358.9 L527.4 359.5 L538 359.9" fill="none" stroke="#1414ff" stroke-width="1.6" stroke-linejoin="round"/><path d="M319.3 252.64L322.29 255.5L319.3 258.36L316.31 255.5Z" fill="#1414ff" stroke="#1414ff" stroke-width="0.7" stroke-linejoin="round"/><path d="M330.06 298.66L333.05 301.52L330.06 304.38L327.07 301.52Z" fill="#1414ff" stroke="#1414ff" stroke-width="0.7" stroke-linejoin="round"/><path d="M341.01 310.86L344 313.72L341.01 316.58L338.02 313.72Z" fill="#1414ff" stroke="#1414ff" stroke-width="0.7" stroke-linejoin="round"/><path d="M351.96 317.6L354.95 320.46L351.96 323.32L348.97 320.46Z" fill="#1414ff" stroke="#1414ff" stroke-width="0.7" stroke-linejoin="round"/><path d="M362.91 322.31L365.9 325.17L362.91 328.03L359.92 325.17Z" fill="#1414ff" stroke="#1414ff" stroke-width="0.7" stroke-linejoin="round"/><path d="M373.86 326.01L376.85 328.87L373.86 331.73L370.87 328.87Z" fill="#1414ff" stroke="#1414ff" stroke-width="0.7" stroke-linejoin="round"/><path d="M384.81 331.21L387.8 334.07L384.81 336.93L381.82 334.07Z" fill="#1414ff" stroke="#1414ff" stroke-width="0.7" stroke-linejoin="round"/><path d="M395.76 335.75L398.75 338.61L395.76 341.47L392.77 338.61Z" fill="#1414ff" stroke="#1414ff" stroke-width="0.7" stroke-linejoin="round"/><path d="M406.71 340.52L409.7 343.38L406.71 346.24L403.72 343.38Z" fill="#1414ff" stroke="#1414ff" stroke-width="0.7" stroke-linejoin="round"/><path d="M417.66 343.21L420.65 346.07L417.66 348.93L414.67 346.07Z" fill="#1414ff" stroke="#1414ff" stroke-width="0.7" stroke-linejoin="round"/><path d="M428.61 346.22L431.6 349.08L428.61 351.94L425.62 349.08Z" fill="#1414ff" stroke="#1414ff" stroke-width="0.7" stroke-linejoin="round"/><path d="M439.56 347.67L442.55 350.53L439.56 353.39L436.57 350.53Z" fill="#1414ff" stroke="#1414ff" stroke-width="0.7" stroke-linejoin="round"/><path d="M450.51 348.7L453.5 351.56L450.51 354.42L447.52 351.56Z" fill="#1414ff" stroke="#1414ff" stroke-width="0.7" stroke-linejoin="round"/><path d="M461.46 350.32L464.45 353.18L461.46 356.04L458.47 353.18Z" fill="#1414ff" stroke="#1414ff" stroke-width="0.7" stroke-linejoin="round"/><path d="M472.41 351.12L475.4 353.98L472.41 356.84L469.42 353.98Z" fill="#1414ff" stroke="#1414ff" stroke-width="0.7" stroke-linejoin="round"/><path d="M483.36 351.83L486.35 354.69L483.36 357.55L480.37 354.69Z" fill="#1414ff" stroke="#1414ff" stroke-width="0.7" stroke-linejoin="round"/><path d="M494.31 353.23L497.3 356.09L494.31 358.95L491.32 356.09Z" fill="#1414ff" stroke="#1414ff" stroke-width="0.7" stroke-linejoin="round"/><path d="M505.26 354.9L508.25 357.76L505.26 360.62L502.27 357.76Z" fill="#1414ff" stroke="#1414ff" stroke-width="0.7" stroke-linejoin="round"/><path d="M516.21 356.02L519.2 358.88L516.21 361.74L513.22 358.88Z" fill="#1414ff" stroke="#1414ff" stroke-width="0.7" stroke-linejoin="round"/><path d="M527.16 356.63L530.15 359.49L527.16 362.35L524.17 359.49Z" fill="#1414ff" stroke="#1414ff" stroke-width="0.7" stroke-linejoin="round"/><path d="M319.3 227 L321 265 L324 280 L329.6 288.9 L340.5 293.1 L351.6 296.2 L362.7 297.3 L373.5 298.9 L384.4 300.4 L395.5 301 L406.4 301.4 L417.4 302.1 L428.1 303.5 L439.2 304.5 L450.1 306.6 L461.6 307.2 L463.7 307.6 L464.7 349.4 L468.9 352.6 L472.7 353.6 L480.4 356.8 L483.5 365.1 L494.4 365.8 L505.5 366.2 L516.4 366.6 L527.4 367.2 L538 367.2" fill="none" stroke="#ff1aff" stroke-width="1.6" stroke-linejoin="round"/><path d="M316.44 224.92L322.16 224.92L319.3 229.86Z" fill="#ff1aff" fill-opacity="0.75" stroke="#ff1aff" stroke-width="1.0"/><path d="M327.2 287L332.92 287L330.06 291.94Z" fill="#ff1aff" fill-opacity="0.75" stroke="#ff1aff" stroke-width="1.0"/><path d="M338.15 291.16L343.87 291.16L341.01 296.1Z" fill="#ff1aff" fill-opacity="0.75" stroke="#ff1aff" stroke-width="1.0"/><path d="M349.1 294.16L354.82 294.16L351.96 299.1Z" fill="#ff1aff" fill-opacity="0.75" stroke="#ff1aff" stroke-width="1.0"/><path d="M360.05 295.25L365.77 295.25L362.91 300.19Z" fill="#ff1aff" fill-opacity="0.75" stroke="#ff1aff" stroke-width="1.0"/><path d="M371 296.87L376.72 296.87L373.86 301.81Z" fill="#ff1aff" fill-opacity="0.75" stroke="#ff1aff" stroke-width="1.0"/><path d="M381.95 298.34L387.67 298.34L384.81 303.28Z" fill="#ff1aff" fill-opacity="0.75" stroke="#ff1aff" stroke-width="1.0"/><path d="M392.9 298.93L398.62 298.93L395.76 303.87Z" fill="#ff1aff" fill-opacity="0.75" stroke="#ff1aff" stroke-width="1.0"/><path d="M403.85 299.34L409.57 299.34L406.71 304.28Z" fill="#ff1aff" fill-opacity="0.75" stroke="#ff1aff" stroke-width="1.0"/><path d="M414.8 300.05L420.52 300.05L417.66 304.99Z" fill="#ff1aff" fill-opacity="0.75" stroke="#ff1aff" stroke-width="1.0"/><path d="M425.75 301.47L431.47 301.47L428.61 306.41Z" fill="#ff1aff" fill-opacity="0.75" stroke="#ff1aff" stroke-width="1.0"/><path d="M436.7 302.49L442.42 302.49L439.56 307.43Z" fill="#ff1aff" fill-opacity="0.75" stroke="#ff1aff" stroke-width="1.0"/><path d="M447.65 304.54L453.37 304.54L450.51 309.48Z" fill="#ff1aff" fill-opacity="0.75" stroke="#ff1aff" stroke-width="1.0"/><path d="M458.6 305.11L464.32 305.11L461.46 310.05Z" fill="#ff1aff" fill-opacity="0.75" stroke="#ff1aff" stroke-width="1.0"/><path d="M469.55 351.44L475.27 351.44L472.41 356.38Z" fill="#ff1aff" fill-opacity="0.75" stroke="#ff1aff" stroke-width="1.0"/><path d="M480.5 362.64L486.22 362.64L483.36 367.58Z" fill="#ff1aff" fill-opacity="0.75" stroke="#ff1aff" stroke-width="1.0"/><path d="M491.45 363.71L497.17 363.71L494.31 368.65Z" fill="#ff1aff" fill-opacity="0.75" stroke="#ff1aff" stroke-width="1.0"/><path d="M502.4 364.11L508.12 364.11L505.26 369.05Z" fill="#ff1aff" fill-opacity="0.75" stroke="#ff1aff" stroke-width="1.0"/><path d="M513.35 364.51L519.07 364.51L516.21 369.45Z" fill="#ff1aff" fill-opacity="0.75" stroke="#ff1aff" stroke-width="1.0"/><path d="M524.3 365.11L530.02 365.11L527.16 370.05Z" fill="#ff1aff" fill-opacity="0.75" stroke="#ff1aff" stroke-width="1.0"/><path d="M319.3 248.1 L321.3 278.4 L324.4 281.6 L329.6 285.1 L340.5 289.3 L351.6 290.6 L362.7 292 L373.5 294.1 L384.4 294.8 L395.5 295.6 L406.4 296.8 L417.4 298.3 L428.1 299.3 L439.2 299.9 L450.1 301.8 L461.6 302.4 L472.7 302.8 L494.4 303 L505.5 303.5 L516.4 303.9 L527.4 304.5 L538 304.5" fill="none" stroke="#10f010" stroke-width="1.6" stroke-linejoin="round"/><circle cx="319.3" cy="248.1" r="2.34" fill="#10f010"/><circle cx="330.06" cy="285.28" r="2.34" fill="#10f010"/><circle cx="341.01" cy="289.36" r="2.34" fill="#10f010"/><circle cx="351.96" cy="290.65" r="2.34" fill="#10f010"/><circle cx="362.91" cy="292.04" r="2.34" fill="#10f010"/><circle cx="373.86" cy="294.12" r="2.34" fill="#10f010"/><circle cx="384.81" cy="294.83" r="2.34" fill="#10f010"/><circle cx="395.76" cy="295.63" r="2.34" fill="#10f010"/><circle cx="406.71" cy="296.84" r="2.34" fill="#10f010"/><circle cx="417.66" cy="298.32" r="2.34" fill="#10f010"/><circle cx="428.61" cy="299.33" r="2.34" fill="#10f010"/><circle cx="439.56" cy="299.96" r="2.34" fill="#10f010"/><circle cx="450.51" cy="301.82" r="2.34" fill="#10f010"/><circle cx="461.46" cy="302.39" r="2.34" fill="#10f010"/><circle cx="472.41" cy="302.79" r="2.34" fill="#10f010"/><circle cx="483.36" cy="302.9" r="2.34" fill="#10f010"/><circle cx="494.31" cy="303" r="2.34" fill="#10f010"/><circle cx="505.26" cy="303.49" r="2.34" fill="#10f010"/><circle cx="516.21" cy="303.89" r="2.34" fill="#10f010"/><circle cx="527.16" cy="304.49" r="2.34" fill="#10f010"/><path d="M319.3 240 L320.5 285 L321.3 306.7 L325 316 L329.6 323.5 L340.5 331.8 L351.6 336 L362.7 338.5 L373.5 341.2 L384.4 343.3 L395.5 345.4 L406.4 350.6 L417.4 352.3 L428.1 354.5 L450.1 357.8 L461.6 358.9 L472.7 359.9 L483.5 362 L494.4 363.7 L505.5 365.1 L516.4 366.2 L527.4 367.8 L538 368.7" fill="none" stroke="#0f8080" stroke-width="1.6" stroke-linejoin="round"/><path d="M317.22 237.92L321.38 242.08M317.22 242.08L321.38 237.92M316.7 240L321.9 240" stroke="#0f8080" stroke-width="1.0"/><path d="M327.98 321.77L332.14 325.93M327.98 325.93L332.14 321.77M327.46 323.85L332.66 323.85" stroke="#0f8080" stroke-width="1.0"/><path d="M338.93 329.91L343.09 334.07M338.93 334.07L343.09 329.91M338.41 331.99L343.61 331.99" stroke="#0f8080" stroke-width="1.0"/><path d="M349.88 334L354.04 338.16M349.88 338.16L354.04 334M349.36 336.08L354.56 336.08" stroke="#0f8080" stroke-width="1.0"/><path d="M360.83 336.47L364.99 340.63M360.83 340.63L364.99 336.47M360.31 338.55L365.51 338.55" stroke="#0f8080" stroke-width="1.0"/><path d="M371.78 339.19L375.94 343.35M371.78 343.35L375.94 339.19M371.26 341.27L376.46 341.27" stroke="#0f8080" stroke-width="1.0"/><path d="M382.73 341.3L386.89 345.46M382.73 345.46L386.89 341.3M382.21 343.38L387.41 343.38" stroke="#0f8080" stroke-width="1.0"/><path d="M393.68 343.44L397.84 347.6M393.68 347.6L397.84 343.44M393.16 345.52L398.36 345.52" stroke="#0f8080" stroke-width="1.0"/><path d="M404.63 348.57L408.79 352.73M404.63 352.73L408.79 348.57M404.11 350.65L409.31 350.65" stroke="#0f8080" stroke-width="1.0"/><path d="M415.58 350.27L419.74 354.43M415.58 354.43L419.74 350.27M415.06 352.35L420.26 352.35" stroke="#0f8080" stroke-width="1.0"/><path d="M426.53 352.5L430.69 356.66M426.53 356.66L430.69 352.5M426.01 354.58L431.21 354.58" stroke="#0f8080" stroke-width="1.0"/><path d="M437.48 354.14L441.64 358.3M437.48 358.3L441.64 354.14M436.96 356.22L442.16 356.22" stroke="#0f8080" stroke-width="1.0"/><path d="M448.43 355.76L452.59 359.92M448.43 359.92L452.59 355.76M447.91 357.84L453.11 357.84" stroke="#0f8080" stroke-width="1.0"/><path d="M459.38 356.81L463.54 360.97M459.38 360.97L463.54 356.81M458.86 358.89L464.06 358.89" stroke="#0f8080" stroke-width="1.0"/><path d="M470.33 357.79L474.49 361.95M470.33 361.95L474.49 357.79M469.81 359.87L475.01 359.87" stroke="#0f8080" stroke-width="1.0"/><path d="M481.28 359.89L485.44 364.05M481.28 364.05L485.44 359.89M480.76 361.97L485.96 361.97" stroke="#0f8080" stroke-width="1.0"/><path d="M492.23 361.61L496.39 365.77M492.23 365.77L496.39 361.61M491.71 363.69L496.91 363.69" stroke="#0f8080" stroke-width="1.0"/><path d="M503.18 362.99L507.34 367.15M503.18 367.15L507.34 362.99M502.66 365.07L507.86 365.07" stroke="#0f8080" stroke-width="1.0"/><path d="M514.13 364.1L518.29 368.26M514.13 368.26L518.29 364.1M513.61 366.18L518.81 366.18" stroke="#0f8080" stroke-width="1.0"/><path d="M525.08 365.69L529.24 369.85M525.08 369.85L529.24 365.69M524.56 367.77L529.76 367.77" stroke="#0f8080" stroke-width="1.0"/><path d="M319.3 238 L321 290 L324 310 L329.6 323.5 L340.5 336 L351.6 341.2 L362.7 344.8 L373.5 348.5 L384.4 351 L395.5 352.3 L406.4 353.1 L417.4 354.4 L428.1 355.3 L439.2 356.1 L450.1 357.4 L461.6 357.8 L472.7 358.9 L483.5 358.9 L494.4 359.5 L505.5 359.9 L538 360.3" fill="none" stroke="#1ae6f0" stroke-width="1.6" stroke-linejoin="round"/><path d="M316.7 238L321.9 238M319.3 235.4L319.3 240.6" stroke="#1ae6f0" stroke-width="1.0"/><path d="M327.46 324.03L332.66 324.03M330.06 321.43L330.06 326.63" stroke="#1ae6f0" stroke-width="1.0"/><path d="M338.41 336.24L343.61 336.24M341.01 333.64L341.01 338.84" stroke="#1ae6f0" stroke-width="1.0"/><path d="M349.36 341.32L354.56 341.32M351.96 338.72L351.96 343.92" stroke="#1ae6f0" stroke-width="1.0"/><path d="M360.31 344.87L365.51 344.87M362.91 342.27L362.91 347.47" stroke="#1ae6f0" stroke-width="1.0"/><path d="M371.26 348.58L376.46 348.58M373.86 345.98L373.86 351.18" stroke="#1ae6f0" stroke-width="1.0"/><path d="M382.21 351.05L387.41 351.05M384.81 348.45L384.81 353.65" stroke="#1ae6f0" stroke-width="1.0"/><path d="M393.16 352.32L398.36 352.32M395.76 349.72L395.76 354.92" stroke="#1ae6f0" stroke-width="1.0"/><path d="M404.11 353.14L409.31 353.14M406.71 350.54L406.71 355.74" stroke="#1ae6f0" stroke-width="1.0"/><path d="M415.06 354.42L420.26 354.42M417.66 351.82L417.66 357.02" stroke="#1ae6f0" stroke-width="1.0"/><path d="M426.01 355.34L431.21 355.34M428.61 352.74L428.61 357.94" stroke="#1ae6f0" stroke-width="1.0"/><path d="M436.96 356.14L442.16 356.14M439.56 353.54L439.56 358.74" stroke="#1ae6f0" stroke-width="1.0"/><path d="M447.91 357.41L453.11 357.41M450.51 354.81L450.51 360.01" stroke="#1ae6f0" stroke-width="1.0"/><path d="M458.86 357.8L464.06 357.8M461.46 355.2L461.46 360.4" stroke="#1ae6f0" stroke-width="1.0"/><path d="M469.81 358.87L475.01 358.87M472.41 356.27L472.41 361.47" stroke="#1ae6f0" stroke-width="1.0"/><path d="M480.76 358.9L485.96 358.9M483.36 356.3L483.36 361.5" stroke="#1ae6f0" stroke-width="1.0"/><path d="M491.71 359.5L496.91 359.5M494.31 356.9L494.31 362.1" stroke="#1ae6f0" stroke-width="1.0"/><path d="M502.66 359.89L507.86 359.89M505.26 357.29L505.26 362.49" stroke="#1ae6f0" stroke-width="1.0"/><path d="M513.61 360.03L518.81 360.03M516.21 357.43L516.21 362.63" stroke="#1ae6f0" stroke-width="1.0"/><path d="M524.56 360.17L529.76 360.17M527.16 357.57L527.16 362.77" stroke="#1ae6f0" stroke-width="1.0"/><path d="M319.3 245 L321 272 L324 283 L329.6 291 L340.5 294.1 L351.6 295.6 L362.7 298.3 L373.5 299.8 L384.4 301.4 L395.5 302.5 L406.4 303.5 L417.4 304.6 L428.1 306.6 L439.2 307.2 L450.1 308 L461.6 308.7 L472.7 311.8 L483.5 312.9 L494.4 314.3 L505.5 315.6 L516.4 317.7 L527.4 319.8 L538 322.7" fill="none" stroke="#ff8020" stroke-width="1.6" stroke-linejoin="round"/><path d="M316.44 247.08L322.16 247.08L319.3 242.14Z" fill="none" stroke="#ff8020" stroke-width="1.0"/><path d="M327.2 293.21L332.92 293.21L330.06 288.27Z" fill="none" stroke="#ff8020" stroke-width="1.0"/><path d="M338.15 296.25L343.87 296.25L341.01 291.31Z" fill="none" stroke="#ff8020" stroke-width="1.0"/><path d="M349.1 297.77L354.82 297.77L351.96 292.83Z" fill="none" stroke="#ff8020" stroke-width="1.0"/><path d="M360.05 300.41L365.77 300.41L362.91 295.47Z" fill="none" stroke="#ff8020" stroke-width="1.0"/><path d="M371 301.93L376.72 301.93L373.86 296.99Z" fill="none" stroke="#ff8020" stroke-width="1.0"/><path d="M381.95 303.52L387.67 303.52L384.81 298.58Z" fill="none" stroke="#ff8020" stroke-width="1.0"/><path d="M392.9 304.6L398.62 304.6L395.76 299.66Z" fill="none" stroke="#ff8020" stroke-width="1.0"/><path d="M403.85 305.61L409.57 305.61L406.71 300.67Z" fill="none" stroke="#ff8020" stroke-width="1.0"/><path d="M414.8 306.73L420.52 306.73L417.66 301.79Z" fill="none" stroke="#ff8020" stroke-width="1.0"/><path d="M425.75 308.71L431.47 308.71L428.61 303.77Z" fill="none" stroke="#ff8020" stroke-width="1.0"/><path d="M436.7 309.31L442.42 309.31L439.56 304.37Z" fill="none" stroke="#ff8020" stroke-width="1.0"/><path d="M447.65 310.1L453.37 310.1L450.51 305.16Z" fill="none" stroke="#ff8020" stroke-width="1.0"/><path d="M458.6 310.77L464.32 310.77L461.46 305.83Z" fill="none" stroke="#ff8020" stroke-width="1.0"/><path d="M469.55 313.8L475.27 313.8L472.41 308.86Z" fill="none" stroke="#ff8020" stroke-width="1.0"/><path d="M480.5 314.97L486.22 314.97L483.36 310.03Z" fill="none" stroke="#ff8020" stroke-width="1.0"/><path d="M491.45 316.37L497.17 316.37L494.31 311.43Z" fill="none" stroke="#ff8020" stroke-width="1.0"/><path d="M502.4 317.65L508.12 317.65L505.26 312.71Z" fill="none" stroke="#ff8020" stroke-width="1.0"/><path d="M513.35 319.74L519.07 319.74L516.21 314.8Z" fill="none" stroke="#ff8020" stroke-width="1.0"/><path d="M524.3 321.83L530.02 321.83L527.16 316.89Z" fill="none" stroke="#ff8020" stroke-width="1.0"/><path d="M319.3 227 L321 285 L324 305 L329.6 321.4 L334 338 L340.5 352.7 L345 359 L351.6 363.6 L362.7 365.7 L373.5 366.3 L384.4 367.8 L395.5 368.4 L406.4 369 L538 369.3" fill="none" stroke="#1a9aff" stroke-width="1.6" stroke-linejoin="round"/><circle cx="319.3" cy="227" r="2.47" fill="none" stroke="#1a9aff" stroke-width="1.0"/><circle cx="330.06" cy="323.13" r="2.47" fill="none" stroke="#1a9aff" stroke-width="1.0"/><circle cx="341.01" cy="353.41" r="2.47" fill="none" stroke="#1a9aff" stroke-width="1.0"/><circle cx="351.96" cy="363.67" r="2.47" fill="none" stroke="#1a9aff" stroke-width="1.0"/><circle cx="362.91" cy="365.71" r="2.47" fill="none" stroke="#1a9aff" stroke-width="1.0"/><circle cx="373.86" cy="366.35" r="2.47" fill="none" stroke="#1a9aff" stroke-width="1.0"/><circle cx="384.81" cy="367.82" r="2.47" fill="none" stroke="#1a9aff" stroke-width="1.0"/><circle cx="395.76" cy="368.41" r="2.47" fill="none" stroke="#1a9aff" stroke-width="1.0"/><circle cx="406.71" cy="369" r="2.47" fill="none" stroke="#1a9aff" stroke-width="1.0"/><circle cx="417.66" cy="369.03" r="2.47" fill="none" stroke="#1a9aff" stroke-width="1.0"/><circle cx="428.61" cy="369.05" r="2.47" fill="none" stroke="#1a9aff" stroke-width="1.0"/><circle cx="439.56" cy="369.08" r="2.47" fill="none" stroke="#1a9aff" stroke-width="1.0"/><circle cx="450.51" cy="369.1" r="2.47" fill="none" stroke="#1a9aff" stroke-width="1.0"/><circle cx="461.46" cy="369.13" r="2.47" fill="none" stroke="#1a9aff" stroke-width="1.0"/><circle cx="472.41" cy="369.15" r="2.47" fill="none" stroke="#1a9aff" stroke-width="1.0"/><circle cx="483.36" cy="369.18" r="2.47" fill="none" stroke="#1a9aff" stroke-width="1.0"/><circle cx="494.31" cy="369.2" r="2.47" fill="none" stroke="#1a9aff" stroke-width="1.0"/><circle cx="505.26" cy="369.23" r="2.47" fill="none" stroke="#1a9aff" stroke-width="1.0"/><circle cx="516.21" cy="369.25" r="2.47" fill="none" stroke="#1a9aff" stroke-width="1.0"/><circle cx="527.16" cy="369.28" r="2.47" fill="none" stroke="#1a9aff" stroke-width="1.0"/><path d="M319.3 240 L321 275 L325 292 L329.6 300 L340.5 309.9 L351.6 313.4 L362.7 314.7 L373.5 317.6 L384.4 319.3 L395.5 321.4 L406.4 321.8 L417.4 322.4 L428 323 L538 323.3" fill="none" stroke="#ffb8c6" stroke-width="1.6" stroke-linejoin="round"/><path d="M319.3 236.62L321.9 240L319.3 243.38L316.7 240Z" fill="none" stroke="#ffb8c6" stroke-width="1.0"/><path d="M330.06 297.04L332.66 300.42L330.06 303.8L327.46 300.42Z" fill="none" stroke="#ffb8c6" stroke-width="1.0"/><path d="M341.01 306.68L343.61 310.06L341.01 313.44L338.41 310.06Z" fill="none" stroke="#ffb8c6" stroke-width="1.0"/><path d="M351.96 310.06L354.56 313.44L351.96 316.82L349.36 313.44Z" fill="none" stroke="#ffb8c6" stroke-width="1.0"/><path d="M362.91 311.38L365.51 314.76L362.91 318.14L360.31 314.76Z" fill="none" stroke="#ffb8c6" stroke-width="1.0"/><path d="M373.86 314.28L376.46 317.66L373.86 321.04L371.26 317.66Z" fill="none" stroke="#ffb8c6" stroke-width="1.0"/><path d="M384.81 316L387.41 319.38L384.81 322.76L382.21 319.38Z" fill="none" stroke="#ffb8c6" stroke-width="1.0"/><path d="M395.76 318.03L398.36 321.41L395.76 324.79L393.16 321.41Z" fill="none" stroke="#ffb8c6" stroke-width="1.0"/><path d="M406.71 318.44L409.31 321.82L406.71 325.2L404.11 321.82Z" fill="none" stroke="#ffb8c6" stroke-width="1.0"/><path d="M417.66 319.03L420.26 322.41L417.66 325.79L415.06 322.41Z" fill="none" stroke="#ffb8c6" stroke-width="1.0"/><path d="M428.61 319.62L431.21 323L428.61 326.38L426.01 323Z" fill="none" stroke="#ffb8c6" stroke-width="1.0"/><path d="M439.56 319.65L442.16 323.03L439.56 326.41L436.96 323.03Z" fill="none" stroke="#ffb8c6" stroke-width="1.0"/><path d="M450.51 319.68L453.11 323.06L450.51 326.44L447.91 323.06Z" fill="none" stroke="#ffb8c6" stroke-width="1.0"/><path d="M461.46 319.71L464.06 323.09L461.46 326.47L458.86 323.09Z" fill="none" stroke="#ffb8c6" stroke-width="1.0"/><path d="M472.41 319.74L475.01 323.12L472.41 326.5L469.81 323.12Z" fill="none" stroke="#ffb8c6" stroke-width="1.0"/><path d="M483.36 319.77L485.96 323.15L483.36 326.53L480.76 323.15Z" fill="none" stroke="#ffb8c6" stroke-width="1.0"/><path d="M494.31 319.8L496.91 323.18L494.31 326.56L491.71 323.18Z" fill="none" stroke="#ffb8c6" stroke-width="1.0"/><path d="M505.26 319.83L507.86 323.21L505.26 326.59L502.66 323.21Z" fill="none" stroke="#ffb8c6" stroke-width="1.0"/><path d="M516.21 319.86L518.81 323.24L516.21 326.62L513.61 323.24Z" fill="none" stroke="#ffb8c6" stroke-width="1.0"/><path d="M527.16 319.89L529.76 323.27L527.16 326.65L524.56 323.27Z" fill="none" stroke="#ffb8c6" stroke-width="1.0"/><path d="M319.3 245 L320.5 290 L321.5 315 L325.5 331.8 L335.9 336.4 L356.8 339.1 L377.7 341.9 L398.6 343.3 L425 343.5 L445.9 344.2 L466.8 345.3 L487.7 346.3 L508.6 347.8 L523.3 350.5 L538 354.7" fill="none" stroke="#7b8fa6" stroke-width="1.25" stroke-linejoin="round"/><path d="M319.3 234.5 L319.7 272.7 L322.2 291.7 L325.4 304.4 L329.6 315.1 L340.5 331.8 L351.6 347.5 L362.7 358 L373.5 366.3 L384.4 372 L395.5 375.7 L406.4 377.8 L417.4 381.6 L428.1 385 L439.2 386.7 L450.1 388.8 L461.6 390.2 L472.7 391.7 L483.5 393.4 L494.4 395.4 L505.5 397.5 L516.4 399.2 L527.4 399.6 L538 400" fill="none" stroke="#ff1a1a" stroke-width="1.6" stroke-linejoin="round"/><rect x="316.96" y="232.16" width="4.68" height="4.68" fill="none" stroke="#ff1a1a" stroke-width="1.05"/><rect x="327.72" y="313.46" width="4.68" height="4.68" fill="none" stroke="#ff1a1a" stroke-width="1.05"/><rect x="338.67" y="330.18" width="4.68" height="4.68" fill="none" stroke="#ff1a1a" stroke-width="1.05"/><rect x="349.62" y="345.5" width="4.68" height="4.68" fill="none" stroke="#ff1a1a" stroke-width="1.05"/><rect x="360.57" y="355.82" width="4.68" height="4.68" fill="none" stroke="#ff1a1a" stroke-width="1.05"/><rect x="371.52" y="364.15" width="4.68" height="4.68" fill="none" stroke="#ff1a1a" stroke-width="1.05"/><rect x="382.47" y="369.8" width="4.68" height="4.68" fill="none" stroke="#ff1a1a" stroke-width="1.05"/><rect x="393.42" y="373.41" width="4.68" height="4.68" fill="none" stroke="#ff1a1a" stroke-width="1.05"/><rect x="404.37" y="375.57" width="4.68" height="4.68" fill="none" stroke="#ff1a1a" stroke-width="1.05"/><rect x="415.32" y="379.34" width="4.68" height="4.68" fill="none" stroke="#ff1a1a" stroke-width="1.05"/><rect x="426.27" y="382.74" width="4.68" height="4.68" fill="none" stroke="#ff1a1a" stroke-width="1.05"/><rect x="437.22" y="384.43" width="4.68" height="4.68" fill="none" stroke="#ff1a1a" stroke-width="1.05"/><rect x="448.17" y="386.51" width="4.68" height="4.68" fill="none" stroke="#ff1a1a" stroke-width="1.05"/><rect x="459.12" y="387.84" width="4.68" height="4.68" fill="none" stroke="#ff1a1a" stroke-width="1.05"/><rect x="470.07" y="389.32" width="4.68" height="4.68" fill="none" stroke="#ff1a1a" stroke-width="1.05"/><rect x="481.02" y="391.04" width="4.68" height="4.68" fill="none" stroke="#ff1a1a" stroke-width="1.05"/><rect x="491.97" y="393.04" width="4.68" height="4.68" fill="none" stroke="#ff1a1a" stroke-width="1.05"/><rect x="502.92" y="395.11" width="4.68" height="4.68" fill="none" stroke="#ff1a1a" stroke-width="1.05"/><rect x="513.87" y="396.83" width="4.68" height="4.68" fill="none" stroke="#ff1a1a" stroke-width="1.05"/><rect x="524.82" y="397.25" width="4.68" height="4.68" fill="none" stroke="#ff1a1a" stroke-width="1.05"/></g><text x="340.9" y="409.5" text-anchor="middle" font-size="6.5" fill="#262626">200</text><text x="362.8" y="409.5" text-anchor="middle" font-size="6.5" fill="#262626">400</text><text x="384.7" y="409.5" text-anchor="middle" font-size="6.5" fill="#262626">600</text><text x="406.6" y="409.5" text-anchor="middle" font-size="6.5" fill="#262626">800</text><text x="428.5" y="409.5" text-anchor="middle" font-size="6.5" fill="#262626">1000</text><text x="450.4" y="409.5" text-anchor="middle" font-size="6.5" fill="#262626">1200</text><text x="472.3" y="409.5" text-anchor="middle" font-size="6.5" fill="#262626">1400</text><text x="494.2" y="409.5" text-anchor="middle" font-size="6.5" fill="#262626">1600</text><text x="516.1" y="409.5" text-anchor="middle" font-size="6.5" fill="#262626">1800</text><text x="538" y="409.5" text-anchor="middle" font-size="6.5" fill="#262626">2000</text><text x="315.8" y="388.11" text-anchor="end" font-size="6.5" fill="#262626">20</text><text x="315.8" y="334.61" text-anchor="end" font-size="6.5" fill="#262626">40</text><text x="315.8" y="303.32" text-anchor="end" font-size="6.5" fill="#262626">60</text><text x="315.8" y="281.12" text-anchor="end" font-size="6.5" fill="#262626">80</text><text x="315.8" y="263.9" text-anchor="end" font-size="6.5" fill="#262626">100</text><text x="315.8" y="249.83" text-anchor="end" font-size="6.5" fill="#262626">120</text><text x="315.8" y="237.93" text-anchor="end" font-size="6.5" fill="#262626">140</text><text x="428.5" y="224.2" text-anchor="middle" font-size="7.2" fill="#262626">CEC2019-F4</text><text x="428.5" y="419.7" text-anchor="middle" font-size="7" fill="#262626">Iterations</text><text transform="translate(301.1 314.9) rotate(-90)" text-anchor="middle" font-size="7.2" fill="#262626">Average best score obtained so far</text><rect x="435.5" y="231.8" width="97.7" height="43.9" fill="#fff" stroke="#8c8c8c" stroke-width="0.7"/><path d="M436.5 236.75H458" stroke="#1414ff" stroke-width="1.5"/><path d="M447.5 233.55L450.85 236.75L447.5 239.95L444.15 236.75Z" fill="#1414ff" stroke="#1414ff" stroke-width="0.7" stroke-linejoin="round"/><text x="459.5" y="238.85" font-size="5.85" fill="#262626">PSO</text><path d="M436.5 245.25H458" stroke="#ff1aff" stroke-width="1.5"/><path d="M444.3 242.92L450.7 242.92L447.5 248.45Z" fill="#ff1aff" fill-opacity="0.75" stroke="#ff1aff" stroke-width="1.0"/><text x="459.5" y="247.35" font-size="5.85" fill="#262626">AO</text><path d="M436.5 253.75H458" stroke="#10f010" stroke-width="1.5"/><circle cx="447.5" cy="253.75" r="2.62" fill="#10f010"/><text x="459.5" y="255.85" font-size="5.85" fill="#262626">BWO</text><path d="M436.5 262.25H458" stroke="#0f8080" stroke-width="1.5"/><path d="M445.17 259.92L449.83 264.58M445.17 264.58L449.83 259.92M444.59 262.25L450.41 262.25" stroke="#0f8080" stroke-width="1.0"/><text x="459.5" y="264.35" font-size="5.85" fill="#262626">GJO</text><path d="M436.5 270.75H458" stroke="#1ae6f0" stroke-width="1.5"/><path d="M444.59 270.75L450.41 270.75M447.5 267.84L447.5 273.66" stroke="#1ae6f0" stroke-width="1.0"/><text x="459.5" y="272.85" font-size="5.85" fill="#262626">COA</text><path d="M477.4 236.75H498.9" stroke="#ff8020" stroke-width="1.5"/><path d="M485.2 239.08L491.6 239.08L488.4 233.55Z" fill="none" stroke="#ff8020" stroke-width="1.0"/><text x="500.4" y="238.85" font-size="5.85" fill="#262626">CSCAHHO</text><path d="M477.4 245.25H498.9" stroke="#1a9aff" stroke-width="1.5"/><circle cx="488.4" cy="245.25" r="2.77" fill="none" stroke="#1a9aff" stroke-width="1.0"/><text x="500.4" y="247.35" font-size="5.85" fill="#262626">AOSMA</text><path d="M477.4 253.75H498.9" stroke="#ffb8c6" stroke-width="1.5"/><path d="M488.4 249.96L491.31 253.75L488.4 257.54L485.49 253.75Z" fill="none" stroke="#ffb8c6" stroke-width="1.0"/><text x="500.4" y="255.85" font-size="5.85" fill="#262626">ATOA</text><path d="M477.4 262.25H498.9" stroke="#7b8fa6" stroke-width="1.5"/><text x="500.4" y="264.35" font-size="5.85" fill="#262626">AGWO</text><path d="M477.4 270.75H498.9" stroke="#ff1a1a" stroke-width="1.5"/><rect x="485.78" y="268.13" width="5.24" height="5.24" fill="none" stroke="#ff1a1a" stroke-width="1.05"/><text x="500.4" y="272.85" font-size="5.85" fill="#262626">ECOA</text></g><g><clipPath id="clip02"><rect x="27.2" y="436" width="223.5" height="181.2"/></clipPath><path d="M31.2 440H250.2V613.2H31.2Z" fill="none" stroke="#808080" stroke-width="1.0"/><path d="M53.1 613.2v-2M53.1 440v2M75 613.2v-2M75 440v2M96.9 613.2v-2M96.9 440v2M118.8 613.2v-2M118.8 440v2M140.7 613.2v-2M140.7 440v2M162.6 613.2v-2M162.6 440v2M184.5 613.2v-2M184.5 440v2M206.4 613.2v-2M206.4 440v2M228.3 613.2v-2M228.3 440v2M250.2 613.2v-2M250.2 440v2M31.2 543.8h2M250.2 543.8h-2M31.2 472.4h2M250.2 472.4h-2" stroke="#808080" stroke-width="0.7"/><g clip-path="url(#clip02)"><path d="M31.3 459.8 L33 490 L36.1 514.1 L41.8 525.3 L52.8 534 L63.6 536.5 L74.8 537.5 L86 537.9 L96.8 538.5 L107.8 539.1 L139 539.4 L250 539.4" fill="none" stroke="#1414ff" stroke-width="1.6" stroke-linejoin="round"/><path d="M31.3 456.94L34.29 459.8L31.3 462.66L28.31 459.8Z" fill="#1414ff" stroke="#1414ff" stroke-width="0.7" stroke-linejoin="round"/><path d="M42.26 522.8L45.25 525.66L42.26 528.52L39.27 525.66Z" fill="#1414ff" stroke="#1414ff" stroke-width="0.7" stroke-linejoin="round"/><path d="M53.21 531.23L56.2 534.09L53.21 536.95L50.22 534.09Z" fill="#1414ff" stroke="#1414ff" stroke-width="0.7" stroke-linejoin="round"/><path d="M64.16 533.69L67.15 536.55L64.16 539.41L61.17 536.55Z" fill="#1414ff" stroke="#1414ff" stroke-width="0.7" stroke-linejoin="round"/><path d="M75.11 534.65L78.1 537.51L75.11 540.37L72.12 537.51Z" fill="#1414ff" stroke="#1414ff" stroke-width="0.7" stroke-linejoin="round"/><path d="M86.06 535.04L89.05 537.9L86.06 540.76L83.07 537.9Z" fill="#1414ff" stroke="#1414ff" stroke-width="0.7" stroke-linejoin="round"/><path d="M97.01 535.65L100 538.51L97.01 541.37L94.02 538.51Z" fill="#1414ff" stroke="#1414ff" stroke-width="0.7" stroke-linejoin="round"/><path d="M107.96 536.24L110.95 539.1L107.96 541.96L104.97 539.1Z" fill="#1414ff" stroke="#1414ff" stroke-width="0.7" stroke-linejoin="round"/><path d="M118.91 536.35L121.9 539.21L118.91 542.07L115.92 539.21Z" fill="#1414ff" stroke="#1414ff" stroke-width="0.7" stroke-linejoin="round"/><path d="M129.86 536.45L132.85 539.31L129.86 542.17L126.87 539.31Z" fill="#1414ff" stroke="#1414ff" stroke-width="0.7" stroke-linejoin="round"/><path d="M140.81 536.54L143.8 539.4L140.81 542.26L137.82 539.4Z" fill="#1414ff" stroke="#1414ff" stroke-width="0.7" stroke-linejoin="round"/><path d="M151.76 536.54L154.75 539.4L151.76 542.26L148.77 539.4Z" fill="#1414ff" stroke="#1414ff" stroke-width="0.7" stroke-linejoin="round"/><path d="M162.71 536.54L165.7 539.4L162.71 542.26L159.72 539.4Z" fill="#1414ff" stroke="#1414ff" stroke-width="0.7" stroke-linejoin="round"/><path d="M173.66 536.54L176.65 539.4L173.66 542.26L170.67 539.4Z" fill="#1414ff" stroke="#1414ff" stroke-width="0.7" stroke-linejoin="round"/><path d="M184.61 536.54L187.6 539.4L184.61 542.26L181.62 539.4Z" fill="#1414ff" stroke="#1414ff" stroke-width="0.7" stroke-linejoin="round"/><path d="M195.56 536.54L198.55 539.4L195.56 542.26L192.57 539.4Z" fill="#1414ff" stroke="#1414ff" stroke-width="0.7" stroke-linejoin="round"/><path d="M206.51 536.54L209.5 539.4L206.51 542.26L203.52 539.4Z" fill="#1414ff" stroke="#1414ff" stroke-width="0.7" stroke-linejoin="round"/><path d="M217.46 536.54L220.45 539.4L217.46 542.26L214.47 539.4Z" fill="#1414ff" stroke="#1414ff" stroke-width="0.7" stroke-linejoin="round"/><path d="M228.41 536.54L231.4 539.4L228.41 542.26L225.42 539.4Z" fill="#1414ff" stroke="#1414ff" stroke-width="0.7" stroke-linejoin="round"/><path d="M239.36 536.54L242.35 539.4L239.36 542.26L236.37 539.4Z" fill="#1414ff" stroke="#1414ff" stroke-width="0.7" stroke-linejoin="round"/><path d="M31.3 445 L33 460 L36.1 475.7 L41.8 488.4 L52.8 495.1 L63.6 499.2 L74.8 501.2 L86 505.3 L96.8 506.3 L107.8 507.9 L118.6 507.9 L129.8 508.7 L140.3 509.6 L173.9 510.2 L177.6 510.2 L178.6 521.3 L180.1 542.6 L181.8 559.6 L184.4 572.3 L189.3 587.2 L195.6 591.9 L206.7 593.2 L218 594 L228.6 595.3 L239.3 596.2 L250 596.8" fill="none" stroke="#ff1aff" stroke-width="1.6" stroke-linejoin="round"/><path d="M28.44 442.92L34.16 442.92L31.3 447.86Z" fill="#ff1aff" fill-opacity="0.75" stroke="#ff1aff" stroke-width="1.0"/><path d="M39.4 486.6L45.12 486.6L42.26 491.54Z" fill="#ff1aff" fill-opacity="0.75" stroke="#ff1aff" stroke-width="1.0"/><path d="M50.35 493.18L56.07 493.18L53.21 498.12Z" fill="#ff1aff" fill-opacity="0.75" stroke="#ff1aff" stroke-width="1.0"/><path d="M61.3 497.22L67.02 497.22L64.16 502.16Z" fill="#ff1aff" fill-opacity="0.75" stroke="#ff1aff" stroke-width="1.0"/><path d="M72.25 499.23L77.97 499.23L75.11 504.17Z" fill="#ff1aff" fill-opacity="0.75" stroke="#ff1aff" stroke-width="1.0"/><path d="M83.2 503.23L88.92 503.23L86.06 508.17Z" fill="#ff1aff" fill-opacity="0.75" stroke="#ff1aff" stroke-width="1.0"/><path d="M94.15 504.25L99.87 504.25L97.01 509.19Z" fill="#ff1aff" fill-opacity="0.75" stroke="#ff1aff" stroke-width="1.0"/><path d="M105.1 505.82L110.82 505.82L107.96 510.76Z" fill="#ff1aff" fill-opacity="0.75" stroke="#ff1aff" stroke-width="1.0"/><path d="M116.05 505.84L121.77 505.84L118.91 510.78Z" fill="#ff1aff" fill-opacity="0.75" stroke="#ff1aff" stroke-width="1.0"/><path d="M127 506.63L132.72 506.63L129.86 511.57Z" fill="#ff1aff" fill-opacity="0.75" stroke="#ff1aff" stroke-width="1.0"/><path d="M137.95 507.53L143.67 507.53L140.81 512.47Z" fill="#ff1aff" fill-opacity="0.75" stroke="#ff1aff" stroke-width="1.0"/><path d="M148.9 507.72L154.62 507.72L151.76 512.66Z" fill="#ff1aff" fill-opacity="0.75" stroke="#ff1aff" stroke-width="1.0"/><path d="M159.85 507.92L165.57 507.92L162.71 512.86Z" fill="#ff1aff" fill-opacity="0.75" stroke="#ff1aff" stroke-width="1.0"/><path d="M170.8 508.12L176.52 508.12L173.66 513.06Z" fill="#ff1aff" fill-opacity="0.75" stroke="#ff1aff" stroke-width="1.0"/><path d="M181.75 570.86L187.47 570.86L184.61 575.8Z" fill="#ff1aff" fill-opacity="0.75" stroke="#ff1aff" stroke-width="1.0"/><path d="M192.7 589.79L198.42 589.79L195.56 594.73Z" fill="#ff1aff" fill-opacity="0.75" stroke="#ff1aff" stroke-width="1.0"/><path d="M203.65 591.1L209.37 591.1L206.51 596.04Z" fill="#ff1aff" fill-opacity="0.75" stroke="#ff1aff" stroke-width="1.0"/><path d="M214.6 591.88L220.32 591.88L217.46 596.82Z" fill="#ff1aff" fill-opacity="0.75" stroke="#ff1aff" stroke-width="1.0"/><path d="M225.55 593.2L231.27 593.2L228.41 598.14Z" fill="#ff1aff" fill-opacity="0.75" stroke="#ff1aff" stroke-width="1.0"/><path d="M236.5 594.12L242.22 594.12L239.36 599.06Z" fill="#ff1aff" fill-opacity="0.75" stroke="#ff1aff" stroke-width="1.0"/><path d="M31.3 458 L32.1 459.4 L36 463 L41.8 466.6 L52.8 472.1 L63.6 474.7 L74.8 476.1 L86 477.4 L96.8 478.2 L107.8 478.8 L118.6 479.4 L129.8 479.4 L140.3 480.1 L250 482" fill="none" stroke="#10f010" stroke-width="1.6" stroke-linejoin="round"/><circle cx="31.3" cy="458" r="2.34" fill="#10f010"/><circle cx="42.26" cy="466.83" r="2.34" fill="#10f010"/><circle cx="53.21" cy="472.2" r="2.34" fill="#10f010"/><circle cx="64.16" cy="474.77" r="2.34" fill="#10f010"/><circle cx="75.11" cy="476.14" r="2.34" fill="#10f010"/><circle cx="86.06" cy="477.4" r="2.34" fill="#10f010"/><circle cx="97.01" cy="478.21" r="2.34" fill="#10f010"/><circle cx="107.96" cy="478.81" r="2.34" fill="#10f010"/><circle cx="118.91" cy="479.4" r="2.34" fill="#10f010"/><circle cx="129.86" cy="479.4" r="2.34" fill="#10f010"/><circle cx="140.81" cy="480.11" r="2.34" fill="#10f010"/><circle cx="151.76" cy="480.3" r="2.34" fill="#10f010"/><circle cx="162.71" cy="480.49" r="2.34" fill="#10f010"/><circle cx="173.66" cy="480.68" r="2.34" fill="#10f010"/><circle cx="184.61" cy="480.87" r="2.34" fill="#10f010"/><circle cx="195.56" cy="481.06" r="2.34" fill="#10f010"/><circle cx="206.51" cy="481.25" r="2.34" fill="#10f010"/><circle cx="217.46" cy="481.44" r="2.34" fill="#10f010"/><circle cx="228.41" cy="481.63" r="2.34" fill="#10f010"/><circle cx="239.36" cy="481.82" r="2.34" fill="#10f010"/><path d="M31.3 447 L33 480 L35.1 502.2 L41.8 509.3 L52.8 516.1 L63.6 520.6 L74.8 523.8 L86 527.3 L96.8 529.3 L107.8 530.8 L118.6 532.4 L129.8 533.4 L139 534 L151.6 534.5 L173.9 536.6 L195.6 538.3 L218 540.4 L239.3 542.6 L250 544.7" fill="none" stroke="#0f8080" stroke-width="1.6" stroke-linejoin="round"/><path d="M29.22 444.92L33.38 449.08M29.22 449.08L33.38 444.92M28.7 447L33.9 447" stroke="#0f8080" stroke-width="1.0"/><path d="M40.18 507.5L44.34 511.66M40.18 511.66L44.34 507.5M39.66 509.58L44.86 509.58" stroke="#0f8080" stroke-width="1.0"/><path d="M51.13 514.19L55.29 518.35M51.13 518.35L55.29 514.19M50.61 516.27L55.81 516.27" stroke="#0f8080" stroke-width="1.0"/><path d="M62.08 518.68L66.24 522.84M62.08 522.84L66.24 518.68M61.56 520.76L66.76 520.76" stroke="#0f8080" stroke-width="1.0"/><path d="M73.03 521.82L77.19 525.98M73.03 525.98L77.19 521.82M72.51 523.9L77.71 523.9" stroke="#0f8080" stroke-width="1.0"/><path d="M83.98 525.23L88.14 529.39M83.98 529.39L88.14 525.23M83.46 527.31L88.66 527.31" stroke="#0f8080" stroke-width="1.0"/><path d="M94.93 527.25L99.09 531.41M94.93 531.41L99.09 527.25M94.41 529.33L99.61 529.33" stroke="#0f8080" stroke-width="1.0"/><path d="M105.88 528.74L110.04 532.9M105.88 532.9L110.04 528.74M105.36 530.82L110.56 530.82" stroke="#0f8080" stroke-width="1.0"/><path d="M116.83 530.35L120.99 534.51M116.83 534.51L120.99 530.35M116.31 532.43L121.51 532.43" stroke="#0f8080" stroke-width="1.0"/><path d="M127.78 531.32L131.94 535.48M127.78 535.48L131.94 531.32M127.26 533.4L132.46 533.4" stroke="#0f8080" stroke-width="1.0"/><path d="M138.73 531.99L142.89 536.15M138.73 536.15L142.89 531.99M138.21 534.07L143.41 534.07" stroke="#0f8080" stroke-width="1.0"/><path d="M149.68 532.44L153.84 536.6M149.68 536.6L153.84 532.44M149.16 534.52L154.36 534.52" stroke="#0f8080" stroke-width="1.0"/><path d="M160.63 533.47L164.79 537.63M160.63 537.63L164.79 533.47M160.11 535.55L165.31 535.55" stroke="#0f8080" stroke-width="1.0"/><path d="M171.58 534.5L175.74 538.66M171.58 538.66L175.74 534.5M171.06 536.58L176.26 536.58" stroke="#0f8080" stroke-width="1.0"/><path d="M182.53 535.36L186.69 539.52M182.53 539.52L186.69 535.36M182.01 537.44L187.21 537.44" stroke="#0f8080" stroke-width="1.0"/><path d="M193.48 536.22L197.64 540.38M193.48 540.38L197.64 536.22M192.96 538.3L198.16 538.3" stroke="#0f8080" stroke-width="1.0"/><path d="M204.43 537.24L208.59 541.4M204.43 541.4L208.59 537.24M203.91 539.32L209.11 539.32" stroke="#0f8080" stroke-width="1.0"/><path d="M215.38 538.27L219.54 542.43M215.38 542.43L219.54 538.27M214.86 540.35L220.06 540.35" stroke="#0f8080" stroke-width="1.0"/><path d="M226.33 539.4L230.49 543.56M226.33 543.56L230.49 539.4M225.81 541.48L231.01 541.48" stroke="#0f8080" stroke-width="1.0"/><path d="M237.28 540.53L241.44 544.69M237.28 544.69L241.44 540.53M236.76 542.61L241.96 542.61" stroke="#0f8080" stroke-width="1.0"/><path d="M31.3 446 L34 490 L36.1 522.2 L40.2 571.1 L46.3 591.5 L52.8 597.6 L63.6 600.6 L74.8 602.7 L86 605.7 L96.8 606.7 L107.8 607.8 L139 609.5 L250 610.6" fill="none" stroke="#1ae6f0" stroke-width="1.6" stroke-linejoin="round"/><path d="M28.7 446L33.9 446M31.3 443.4L31.3 448.6" stroke="#1ae6f0" stroke-width="1.0"/><path d="M39.66 577.99L44.86 577.99M42.26 575.39L42.26 580.59" stroke="#1ae6f0" stroke-width="1.0"/><path d="M50.61 597.71L55.81 597.71M53.21 595.11L53.21 600.31" stroke="#1ae6f0" stroke-width="1.0"/><path d="M61.56 600.7L66.76 600.7M64.16 598.1L64.16 603.3" stroke="#1ae6f0" stroke-width="1.0"/><path d="M72.51 602.78L77.71 602.78M75.11 600.18L75.11 605.38" stroke="#1ae6f0" stroke-width="1.0"/><path d="M83.46 605.71L88.66 605.71M86.06 603.11L86.06 608.31" stroke="#1ae6f0" stroke-width="1.0"/><path d="M94.41 606.72L99.61 606.72M97.01 604.12L97.01 609.32" stroke="#1ae6f0" stroke-width="1.0"/><path d="M105.36 607.81L110.56 607.81M107.96 605.21L107.96 610.41" stroke="#1ae6f0" stroke-width="1.0"/><path d="M116.31 608.41L121.51 608.41M118.91 605.81L118.91 611.01" stroke="#1ae6f0" stroke-width="1.0"/><path d="M127.26 609L132.46 609M129.86 606.4L129.86 611.6" stroke="#1ae6f0" stroke-width="1.0"/><path d="M138.21 609.52L143.41 609.52M140.81 606.92L140.81 612.12" stroke="#1ae6f0" stroke-width="1.0"/><path d="M149.16 609.63L154.36 609.63M151.76 607.03L151.76 612.23" stroke="#1ae6f0" stroke-width="1.0"/><path d="M160.11 609.73L165.31 609.73M162.71 607.13L162.71 612.33" stroke="#1ae6f0" stroke-width="1.0"/><path d="M171.06 609.84L176.26 609.84M173.66 607.24L173.66 612.44" stroke="#1ae6f0" stroke-width="1.0"/><path d="M182.01 609.95L187.21 609.95M184.61 607.35L184.61 612.55" stroke="#1ae6f0" stroke-width="1.0"/><path d="M192.96 610.06L198.16 610.06M195.56 607.46L195.56 612.66" stroke="#1ae6f0" stroke-width="1.0"/><path d="M203.91 610.17L209.11 610.17M206.51 607.57L206.51 612.77" stroke="#1ae6f0" stroke-width="1.0"/><path d="M214.86 610.28L220.06 610.28M217.46 607.68L217.46 612.88" stroke="#1ae6f0" stroke-width="1.0"/><path d="M225.81 610.39L231.01 610.39M228.41 607.79L228.41 612.99" stroke="#1ae6f0" stroke-width="1.0"/><path d="M236.76 610.49L241.96 610.49M239.36 607.89L239.36 613.09" stroke="#1ae6f0" stroke-width="1.0"/><path d="M31.3 450.3 L32.1 459.4 L36 469 L41.8 476.8 L52.8 481.4 L63.6 485.5 L74.8 489.6 L86 493.7 L96.8 497.1 L107.8 501.2 L118.6 505.3 L129.8 508.7 L139.3 510.5 L151.6 517 L162.7 523 L173.9 526.6 L185 533 L195.6 538.3 L206.7 542.6 L218 548.9 L228.6 555.3 L239.3 563.8 L250 573" fill="none" stroke="#ff8020" stroke-width="1.6" stroke-linejoin="round"/><path d="M28.44 452.38L34.16 452.38L31.3 447.44Z" fill="none" stroke="#ff8020" stroke-width="1.0"/><path d="M39.4 479.07L45.12 479.07L42.26 474.13Z" fill="none" stroke="#ff8020" stroke-width="1.0"/><path d="M50.35 483.64L56.07 483.64L53.21 478.7Z" fill="none" stroke="#ff8020" stroke-width="1.0"/><path d="M61.3 487.78L67.02 487.78L64.16 482.84Z" fill="none" stroke="#ff8020" stroke-width="1.0"/><path d="M72.25 491.79L77.97 491.79L75.11 486.85Z" fill="none" stroke="#ff8020" stroke-width="1.0"/><path d="M83.2 495.8L88.92 495.8L86.06 490.86Z" fill="none" stroke="#ff8020" stroke-width="1.0"/><path d="M94.15 499.26L99.87 499.26L97.01 494.32Z" fill="none" stroke="#ff8020" stroke-width="1.0"/><path d="M105.1 503.34L110.82 503.34L107.96 498.4Z" fill="none" stroke="#ff8020" stroke-width="1.0"/><path d="M116.05 507.47L121.77 507.47L118.91 502.53Z" fill="none" stroke="#ff8020" stroke-width="1.0"/><path d="M127 510.79L132.72 510.79L129.86 505.85Z" fill="none" stroke="#ff8020" stroke-width="1.0"/><path d="M137.95 513.38L143.67 513.38L140.81 508.44Z" fill="none" stroke="#ff8020" stroke-width="1.0"/><path d="M148.9 519.17L154.62 519.17L151.76 514.23Z" fill="none" stroke="#ff8020" stroke-width="1.0"/><path d="M159.85 525.08L165.57 525.08L162.71 520.14Z" fill="none" stroke="#ff8020" stroke-width="1.0"/><path d="M170.8 528.6L176.52 528.6L173.66 523.66Z" fill="none" stroke="#ff8020" stroke-width="1.0"/><path d="M181.75 534.85L187.47 534.85L184.61 529.91Z" fill="none" stroke="#ff8020" stroke-width="1.0"/><path d="M192.7 540.36L198.42 540.36L195.56 535.42Z" fill="none" stroke="#ff8020" stroke-width="1.0"/><path d="M203.65 544.61L209.37 544.61L206.51 539.67Z" fill="none" stroke="#ff8020" stroke-width="1.0"/><path d="M214.6 550.68L220.32 550.68L217.46 545.74Z" fill="none" stroke="#ff8020" stroke-width="1.0"/><path d="M225.55 557.26L231.27 557.26L228.41 552.32Z" fill="none" stroke="#ff8020" stroke-width="1.0"/><path d="M236.5 565.93L242.22 565.93L239.36 560.99Z" fill="none" stroke="#ff8020" stroke-width="1.0"/><path d="M31.3 440.2 L34 480 L36.1 510 L38.2 550.7 L41.8 574.8 L45 588 L48.4 592.5 L52.8 593.5 L63.6 595.5 L74.8 599.6 L86 604.1 L96.8 605.7 L107.8 607.4 L118.6 608.4 L129.8 608.8 L139 609.2 L250 609.6" fill="none" stroke="#1a9aff" stroke-width="1.6" stroke-linejoin="round"/><circle cx="31.3" cy="440.2" r="2.47" fill="none" stroke="#1a9aff" stroke-width="1.0"/><circle cx="42.26" cy="576.7" r="2.47" fill="none" stroke="#1a9aff" stroke-width="1.0"/><circle cx="53.21" cy="593.58" r="2.47" fill="none" stroke="#1a9aff" stroke-width="1.0"/><circle cx="64.16" cy="595.7" r="2.47" fill="none" stroke="#1a9aff" stroke-width="1.0"/><circle cx="75.11" cy="599.72" r="2.47" fill="none" stroke="#1a9aff" stroke-width="1.0"/><circle cx="86.06" cy="604.11" r="2.47" fill="none" stroke="#1a9aff" stroke-width="1.0"/><circle cx="97.01" cy="605.73" r="2.47" fill="none" stroke="#1a9aff" stroke-width="1.0"/><circle cx="107.96" cy="607.41" r="2.47" fill="none" stroke="#1a9aff" stroke-width="1.0"/><circle cx="118.91" cy="608.41" r="2.47" fill="none" stroke="#1a9aff" stroke-width="1.0"/><circle cx="129.86" cy="608.8" r="2.47" fill="none" stroke="#1a9aff" stroke-width="1.0"/><circle cx="140.81" cy="609.21" r="2.47" fill="none" stroke="#1a9aff" stroke-width="1.0"/><circle cx="151.76" cy="609.25" r="2.47" fill="none" stroke="#1a9aff" stroke-width="1.0"/><circle cx="162.71" cy="609.29" r="2.47" fill="none" stroke="#1a9aff" stroke-width="1.0"/><circle cx="173.66" cy="609.32" r="2.47" fill="none" stroke="#1a9aff" stroke-width="1.0"/><circle cx="184.61" cy="609.36" r="2.47" fill="none" stroke="#1a9aff" stroke-width="1.0"/><circle cx="195.56" cy="609.4" r="2.47" fill="none" stroke="#1a9aff" stroke-width="1.0"/><circle cx="206.51" cy="609.44" r="2.47" fill="none" stroke="#1a9aff" stroke-width="1.0"/><circle cx="217.46" cy="609.48" r="2.47" fill="none" stroke="#1a9aff" stroke-width="1.0"/><circle cx="228.41" cy="609.52" r="2.47" fill="none" stroke="#1a9aff" stroke-width="1.0"/><circle cx="239.36" cy="609.56" r="2.47" fill="none" stroke="#1a9aff" stroke-width="1.0"/><path d="M31.3 448 L33 500 L36.1 532.4 L41.8 538.5 L52.8 541 L63.6 541.6 L74.8 542.6 L86 543.2 L139 545.6 L250 545.7" fill="none" stroke="#ffb8c6" stroke-width="1.6" stroke-linejoin="round"/><path d="M31.3 444.62L33.9 448L31.3 451.38L28.7 448Z" fill="none" stroke="#ffb8c6" stroke-width="1.0"/><path d="M42.26 535.22L44.86 538.6L42.26 541.98L39.66 538.6Z" fill="none" stroke="#ffb8c6" stroke-width="1.0"/><path d="M53.21 537.64L55.81 541.02L53.21 544.4L50.61 541.02Z" fill="none" stroke="#ffb8c6" stroke-width="1.0"/><path d="M64.16 538.27L66.76 541.65L64.16 545.03L61.56 541.65Z" fill="none" stroke="#ffb8c6" stroke-width="1.0"/><path d="M75.11 539.24L77.71 542.62L75.11 546L72.51 542.62Z" fill="none" stroke="#ffb8c6" stroke-width="1.0"/><path d="M86.06 539.82L88.66 543.2L86.06 546.58L83.46 543.2Z" fill="none" stroke="#ffb8c6" stroke-width="1.0"/><path d="M97.01 540.32L99.61 543.7L97.01 547.08L94.41 543.7Z" fill="none" stroke="#ffb8c6" stroke-width="1.0"/><path d="M107.96 540.81L110.56 544.19L107.96 547.57L105.36 544.19Z" fill="none" stroke="#ffb8c6" stroke-width="1.0"/><path d="M118.91 541.31L121.51 544.69L118.91 548.07L116.31 544.69Z" fill="none" stroke="#ffb8c6" stroke-width="1.0"/><path d="M129.86 541.81L132.46 545.19L129.86 548.57L127.26 545.19Z" fill="none" stroke="#ffb8c6" stroke-width="1.0"/><path d="M140.81 542.22L143.41 545.6L140.81 548.98L138.21 545.6Z" fill="none" stroke="#ffb8c6" stroke-width="1.0"/><path d="M151.76 542.23L154.36 545.61L151.76 548.99L149.16 545.61Z" fill="none" stroke="#ffb8c6" stroke-width="1.0"/><path d="M162.71 542.24L165.31 545.62L162.71 549L160.11 545.62Z" fill="none" stroke="#ffb8c6" stroke-width="1.0"/><path d="M173.66 542.25L176.26 545.63L173.66 549.01L171.06 545.63Z" fill="none" stroke="#ffb8c6" stroke-width="1.0"/><path d="M184.61 542.26L187.21 545.64L184.61 549.02L182.01 545.64Z" fill="none" stroke="#ffb8c6" stroke-width="1.0"/><path d="M195.56 542.27L198.16 545.65L195.56 549.03L192.96 545.65Z" fill="none" stroke="#ffb8c6" stroke-width="1.0"/><path d="M206.51 542.28L209.11 545.66L206.51 549.04L203.91 545.66Z" fill="none" stroke="#ffb8c6" stroke-width="1.0"/><path d="M217.46 542.29L220.06 545.67L217.46 549.05L214.86 545.67Z" fill="none" stroke="#ffb8c6" stroke-width="1.0"/><path d="M228.41 542.3L231.01 545.68L228.41 549.06L225.81 545.68Z" fill="none" stroke="#ffb8c6" stroke-width="1.0"/><path d="M239.36 542.31L241.96 545.69L239.36 549.07L236.76 545.69Z" fill="none" stroke="#ffb8c6" stroke-width="1.0"/><path d="M31.3 447 L32.5 500 L34.1 526.3 L38.2 538.5 L44.3 542.6 L58.5 544.6 L87.1 545.6 L89.1 547.7 L139 548.7 L177.6 550 L209.5 550.6 L230.7 552.1 L250 555.7" fill="none" stroke="#7b8fa6" stroke-width="1.25" stroke-linejoin="round"/><path d="M31.3 444.2 L31.8 480 L32.1 510 L34.1 571.1 L37.2 591.5 L41.8 598.6 L46 603 L52.8 607.4 L63.6 609.8 L74.8 610.8 L86 611.4 L96.8 611.8 L139 612.1 L250 612.1" fill="none" stroke="#ff1a1a" stroke-width="1.6" stroke-linejoin="round"/><rect x="28.96" y="441.86" width="4.68" height="4.68" fill="none" stroke="#ff1a1a" stroke-width="1.05"/><rect x="39.92" y="596.74" width="4.68" height="4.68" fill="none" stroke="#ff1a1a" stroke-width="1.05"/><rect x="50.87" y="605.15" width="4.68" height="4.68" fill="none" stroke="#ff1a1a" stroke-width="1.05"/><rect x="61.82" y="607.51" width="4.68" height="4.68" fill="none" stroke="#ff1a1a" stroke-width="1.05"/><rect x="72.77" y="608.48" width="4.68" height="4.68" fill="none" stroke="#ff1a1a" stroke-width="1.05"/><rect x="83.72" y="609.06" width="4.68" height="4.68" fill="none" stroke="#ff1a1a" stroke-width="1.05"/><rect x="94.67" y="609.46" width="4.68" height="4.68" fill="none" stroke="#ff1a1a" stroke-width="1.05"/><rect x="105.62" y="609.54" width="4.68" height="4.68" fill="none" stroke="#ff1a1a" stroke-width="1.05"/><rect x="116.57" y="609.62" width="4.68" height="4.68" fill="none" stroke="#ff1a1a" stroke-width="1.05"/><rect x="127.52" y="609.7" width="4.68" height="4.68" fill="none" stroke="#ff1a1a" stroke-width="1.05"/><rect x="138.47" y="609.76" width="4.68" height="4.68" fill="none" stroke="#ff1a1a" stroke-width="1.05"/><rect x="149.42" y="609.76" width="4.68" height="4.68" fill="none" stroke="#ff1a1a" stroke-width="1.05"/><rect x="160.37" y="609.76" width="4.68" height="4.68" fill="none" stroke="#ff1a1a" stroke-width="1.05"/><rect x="171.32" y="609.76" width="4.68" height="4.68" fill="none" stroke="#ff1a1a" stroke-width="1.05"/><rect x="182.27" y="609.76" width="4.68" height="4.68" fill="none" stroke="#ff1a1a" stroke-width="1.05"/><rect x="193.22" y="609.76" width="4.68" height="4.68" fill="none" stroke="#ff1a1a" stroke-width="1.05"/><rect x="204.17" y="609.76" width="4.68" height="4.68" fill="none" stroke="#ff1a1a" stroke-width="1.05"/><rect x="215.12" y="609.76" width="4.68" height="4.68" fill="none" stroke="#ff1a1a" stroke-width="1.05"/><rect x="226.07" y="609.76" width="4.68" height="4.68" fill="none" stroke="#ff1a1a" stroke-width="1.05"/><rect x="237.02" y="609.76" width="4.68" height="4.68" fill="none" stroke="#ff1a1a" stroke-width="1.05"/></g><text x="53.1" y="622.5" text-anchor="middle" font-size="6.5" fill="#262626">200</text><text x="75" y="622.5" text-anchor="middle" font-size="6.5" fill="#262626">400</text><text x="96.9" y="622.5" text-anchor="middle" font-size="6.5" fill="#262626">600</text><text x="118.8" y="622.5" text-anchor="middle" font-size="6.5" fill="#262626">800</text><text x="140.7" y="622.5" text-anchor="middle" font-size="6.5" fill="#262626">1000</text><text x="162.6" y="622.5" text-anchor="middle" font-size="6.5" fill="#262626">1200</text><text x="184.5" y="622.5" text-anchor="middle" font-size="6.5" fill="#262626">1400</text><text x="206.4" y="622.5" text-anchor="middle" font-size="6.5" fill="#262626">1600</text><text x="228.3" y="622.5" text-anchor="middle" font-size="6.5" fill="#262626">1800</text><text x="250.2" y="622.5" text-anchor="middle" font-size="6.5" fill="#262626">2000</text><text x="24.7" y="546.4" text-anchor="end" font-size="6.5" fill="#262626">10</text><text x="24.9" y="543.1" text-anchor="start" font-size="4.3" fill="#262626">1</text><text x="24.7" y="475" text-anchor="end" font-size="6.5" fill="#262626">10</text><text x="24.9" y="471.7" text-anchor="start" font-size="4.3" fill="#262626">2</text><text x="140.7" y="437.2" text-anchor="middle" font-size="7.2" fill="#262626">CEC2019-F5</text><text x="140.7" y="632.7" text-anchor="middle" font-size="7" fill="#262626">Iterations</text><text transform="translate(14.6 527.9) rotate(-90)" text-anchor="middle" font-size="7.2" fill="#262626">Average best score obtained so far</text><rect x="57.5" y="444.8" width="187.7" height="27.2" fill="#fff" stroke="#8c8c8c" stroke-width="0.7"/><path d="M59.3 449.8H80.8" stroke="#1414ff" stroke-width="1.5"/><path d="M70.3 446.6L73.65 449.8L70.3 453L66.95 449.8Z" fill="#1414ff" stroke="#1414ff" stroke-width="0.7" stroke-linejoin="round"/><text x="82.3" y="451.9" font-size="5.85" fill="#262626">PSO</text><path d="M59.3 458.4H80.8" stroke="#ff1aff" stroke-width="1.5"/><path d="M67.1 456.07L73.5 456.07L70.3 461.6Z" fill="#ff1aff" fill-opacity="0.75" stroke="#ff1aff" stroke-width="1.0"/><text x="82.3" y="460.5" font-size="5.85" fill="#262626">AO</text><path d="M59.3 467H80.8" stroke="#10f010" stroke-width="1.5"/><circle cx="70.3" cy="467" r="2.62" fill="#10f010"/><text x="82.3" y="469.1" font-size="5.85" fill="#262626">BWO</text><path d="M99.7 449.8H121.2" stroke="#0f8080" stroke-width="1.5"/><path d="M108.37 447.47L113.03 452.13M108.37 452.13L113.03 447.47M107.79 449.8L113.61 449.8" stroke="#0f8080" stroke-width="1.0"/><text x="122.7" y="451.9" font-size="5.85" fill="#262626">GJO</text><path d="M99.7 458.4H121.2" stroke="#1ae6f0" stroke-width="1.5"/><path d="M107.79 458.4L113.61 458.4M110.7 455.49L110.7 461.31" stroke="#1ae6f0" stroke-width="1.0"/><text x="122.7" y="460.5" font-size="5.85" fill="#262626">COA</text><path d="M99.7 467H121.2" stroke="#ff8020" stroke-width="1.5"/><path d="M107.5 469.33L113.9 469.33L110.7 463.8Z" fill="none" stroke="#ff8020" stroke-width="1.0"/><text x="122.7" y="469.1" font-size="5.85" fill="#262626">CSCAHHO</text><path d="M155.7 449.8H177.2" stroke="#1a9aff" stroke-width="1.5"/><circle cx="166.7" cy="449.8" r="2.77" fill="none" stroke="#1a9aff" stroke-width="1.0"/><text x="178.7" y="451.9" font-size="5.85" fill="#262626">AOSMA</text><path d="M155.7 458.4H177.2" stroke="#ffb8c6" stroke-width="1.5"/><path d="M166.7 454.61L169.61 458.4L166.7 462.19L163.79 458.4Z" fill="none" stroke="#ffb8c6" stroke-width="1.0"/><text x="178.7" y="460.5" font-size="5.85" fill="#262626">ATOA</text><path d="M155.7 467H177.2" stroke="#7b8fa6" stroke-width="1.5"/><text x="178.7" y="469.1" font-size="5.85" fill="#262626">AGWO</text><path d="M204.1 449.8H225.6" stroke="#ff1a1a" stroke-width="1.5"/><rect x="212.48" y="447.18" width="5.24" height="5.24" fill="none" stroke="#ff1a1a" stroke-width="1.05"/><text x="227.1" y="451.9" font-size="5.85" fill="#262626">ECOA</text></g><g><clipPath id="clip12"><rect x="315" y="436" width="223.5" height="181.2"/></clipPath><path d="M319 440H538V613.2H319Z" fill="none" stroke="#808080" stroke-width="1.0"/><path d="M340.9 613.2v-2M340.9 440v2M362.8 613.2v-2M362.8 440v2M384.7 613.2v-2M384.7 440v2M406.6 613.2v-2M406.6 440v2M428.5 613.2v-2M428.5 440v2M450.4 613.2v-2M450.4 440v2M472.3 613.2v-2M472.3 440v2M494.2 613.2v-2M494.2 440v2M516.1 613.2v-2M516.1 440v2M538 613.2v-2M538 440v2M319 584.42h2M538 584.42h-2M319 541.31h2M538 541.31h-2M319 510.72h2M538 510.72h-2M319 487h2M538 487h-2M319 467.62h2M538 467.62h-2M319 451.23h2M538 451.23h-2" stroke="#808080" stroke-width="0.7"/><g clip-path="url(#clip12)"><path d="M319.3 450.7 L320.5 475 L323 488 L329.6 497.7 L340.5 504.8 L351.6 509.6 L362.7 513.5 L373.5 515.6 L384.4 517.7 L395.5 519.8 L406.4 521.2 L417.4 522.5 L428 523.8 L439.2 524.5 L450.5 525.1 L461.6 525.5 L472.7 526 L483.5 526.6 L494.4 527.2 L505.5 528.1 L516.4 528.3 L527.4 528.7 L538 528.7" fill="none" stroke="#1414ff" stroke-width="1.6" stroke-linejoin="round"/><path d="M319.3 447.84L322.29 450.7L319.3 453.56L316.31 450.7Z" fill="#1414ff" stroke="#1414ff" stroke-width="0.7" stroke-linejoin="round"/><path d="M330.06 495.14L333.05 498L330.06 500.86L327.07 498Z" fill="#1414ff" stroke="#1414ff" stroke-width="0.7" stroke-linejoin="round"/><path d="M341.01 502.16L344 505.02L341.01 507.88L338.02 505.02Z" fill="#1414ff" stroke="#1414ff" stroke-width="0.7" stroke-linejoin="round"/><path d="M351.96 506.87L354.95 509.73L351.96 512.59L348.97 509.73Z" fill="#1414ff" stroke="#1414ff" stroke-width="0.7" stroke-linejoin="round"/><path d="M362.91 510.68L365.9 513.54L362.91 516.4L359.92 513.54Z" fill="#1414ff" stroke="#1414ff" stroke-width="0.7" stroke-linejoin="round"/><path d="M373.86 512.81L376.85 515.67L373.86 518.53L370.87 515.67Z" fill="#1414ff" stroke="#1414ff" stroke-width="0.7" stroke-linejoin="round"/><path d="M384.81 514.92L387.8 517.78L384.81 520.64L381.82 517.78Z" fill="#1414ff" stroke="#1414ff" stroke-width="0.7" stroke-linejoin="round"/><path d="M395.76 516.97L398.75 519.83L395.76 522.69L392.77 519.83Z" fill="#1414ff" stroke="#1414ff" stroke-width="0.7" stroke-linejoin="round"/><path d="M406.71 518.38L409.7 521.24L406.71 524.1L403.72 521.24Z" fill="#1414ff" stroke="#1414ff" stroke-width="0.7" stroke-linejoin="round"/><path d="M417.66 519.67L420.65 522.53L417.66 525.39L414.67 522.53Z" fill="#1414ff" stroke="#1414ff" stroke-width="0.7" stroke-linejoin="round"/><path d="M428.61 520.98L431.6 523.84L428.61 526.7L425.62 523.84Z" fill="#1414ff" stroke="#1414ff" stroke-width="0.7" stroke-linejoin="round"/><path d="M439.56 521.66L442.55 524.52L439.56 527.38L436.57 524.52Z" fill="#1414ff" stroke="#1414ff" stroke-width="0.7" stroke-linejoin="round"/><path d="M450.51 522.24L453.5 525.1L450.51 527.96L447.52 525.1Z" fill="#1414ff" stroke="#1414ff" stroke-width="0.7" stroke-linejoin="round"/><path d="M461.46 522.63L464.45 525.49L461.46 528.35L458.47 525.49Z" fill="#1414ff" stroke="#1414ff" stroke-width="0.7" stroke-linejoin="round"/><path d="M472.41 523.13L475.4 525.99L472.41 528.85L469.42 525.99Z" fill="#1414ff" stroke="#1414ff" stroke-width="0.7" stroke-linejoin="round"/><path d="M483.36 523.73L486.35 526.59L483.36 529.45L480.37 526.59Z" fill="#1414ff" stroke="#1414ff" stroke-width="0.7" stroke-linejoin="round"/><path d="M494.31 524.34L497.3 527.2L494.31 530.06L491.32 527.2Z" fill="#1414ff" stroke="#1414ff" stroke-width="0.7" stroke-linejoin="round"/><path d="M505.26 525.22L508.25 528.08L505.26 530.94L502.27 528.08Z" fill="#1414ff" stroke="#1414ff" stroke-width="0.7" stroke-linejoin="round"/><path d="M516.21 525.44L519.2 528.3L516.21 531.16L513.22 528.3Z" fill="#1414ff" stroke="#1414ff" stroke-width="0.7" stroke-linejoin="round"/><path d="M527.16 525.83L530.15 528.69L527.16 531.55L524.17 528.69Z" fill="#1414ff" stroke="#1414ff" stroke-width="0.7" stroke-linejoin="round"/><path d="M319.3 441 L320.5 455 L323.4 470.5 L329.6 477.9 L340.5 481.4 L351.6 484.1 L362.7 485.2 L373.5 486.9 L384.4 488.3 L395.5 490.2 L406.4 491.2 L417.4 491.9 L428 492.8 L439.3 493.1 L463.7 493.1 L465.8 498.4 L468.9 515.1 L472.7 521.4 L479.4 526.6 L483.5 530.8 L494.4 533.9 L505.5 536.4 L516.4 538.5 L527.4 539.8 L538 540.6" fill="none" stroke="#ff1aff" stroke-width="1.6" stroke-linejoin="round"/><path d="M316.44 438.92L322.16 438.92L319.3 443.86Z" fill="#ff1aff" fill-opacity="0.75" stroke="#ff1aff" stroke-width="1.0"/><path d="M327.2 475.97L332.92 475.97L330.06 480.91Z" fill="#ff1aff" fill-opacity="0.75" stroke="#ff1aff" stroke-width="1.0"/><path d="M338.15 479.44L343.87 479.44L341.01 484.38Z" fill="#ff1aff" fill-opacity="0.75" stroke="#ff1aff" stroke-width="1.0"/><path d="M349.1 482.06L354.82 482.06L351.96 487Z" fill="#ff1aff" fill-opacity="0.75" stroke="#ff1aff" stroke-width="1.0"/><path d="M360.05 483.15L365.77 483.15L362.91 488.09Z" fill="#ff1aff" fill-opacity="0.75" stroke="#ff1aff" stroke-width="1.0"/><path d="M371 484.87L376.72 484.87L373.86 489.81Z" fill="#ff1aff" fill-opacity="0.75" stroke="#ff1aff" stroke-width="1.0"/><path d="M381.95 486.29L387.67 486.29L384.81 491.23Z" fill="#ff1aff" fill-opacity="0.75" stroke="#ff1aff" stroke-width="1.0"/><path d="M392.9 488.14L398.62 488.14L395.76 493.08Z" fill="#ff1aff" fill-opacity="0.75" stroke="#ff1aff" stroke-width="1.0"/><path d="M403.85 489.14L409.57 489.14L406.71 494.08Z" fill="#ff1aff" fill-opacity="0.75" stroke="#ff1aff" stroke-width="1.0"/><path d="M414.8 489.84L420.52 489.84L417.66 494.78Z" fill="#ff1aff" fill-opacity="0.75" stroke="#ff1aff" stroke-width="1.0"/><path d="M425.75 490.74L431.47 490.74L428.61 495.68Z" fill="#ff1aff" fill-opacity="0.75" stroke="#ff1aff" stroke-width="1.0"/><path d="M436.7 491.02L442.42 491.02L439.56 495.96Z" fill="#ff1aff" fill-opacity="0.75" stroke="#ff1aff" stroke-width="1.0"/><path d="M447.65 491.02L453.37 491.02L450.51 495.96Z" fill="#ff1aff" fill-opacity="0.75" stroke="#ff1aff" stroke-width="1.0"/><path d="M458.6 491.02L464.32 491.02L461.46 495.96Z" fill="#ff1aff" fill-opacity="0.75" stroke="#ff1aff" stroke-width="1.0"/><path d="M469.55 518.84L475.27 518.84L472.41 523.78Z" fill="#ff1aff" fill-opacity="0.75" stroke="#ff1aff" stroke-width="1.0"/><path d="M480.5 528.58L486.22 528.58L483.36 533.52Z" fill="#ff1aff" fill-opacity="0.75" stroke="#ff1aff" stroke-width="1.0"/><path d="M491.45 531.79L497.17 531.79L494.31 536.73Z" fill="#ff1aff" fill-opacity="0.75" stroke="#ff1aff" stroke-width="1.0"/><path d="M502.4 534.27L508.12 534.27L505.26 539.21Z" fill="#ff1aff" fill-opacity="0.75" stroke="#ff1aff" stroke-width="1.0"/><path d="M513.35 536.38L519.07 536.38L516.21 541.32Z" fill="#ff1aff" fill-opacity="0.75" stroke="#ff1aff" stroke-width="1.0"/><path d="M524.3 537.69L530.02 537.69L527.16 542.63Z" fill="#ff1aff" fill-opacity="0.75" stroke="#ff1aff" stroke-width="1.0"/><path d="M319.3 452 L321.3 461.1 L329.6 465.3 L340.5 468.9 L351.6 470.5 L362.7 472.6 L373.5 474.3 L384.4 476.8 L395.5 477.9 L406.4 478.5 L417.4 479 L428 479.3 L461.9 479.5 L473.1 480.1 L538 480.1" fill="none" stroke="#10f010" stroke-width="1.6" stroke-linejoin="round"/><circle cx="319.3" cy="452" r="2.34" fill="#10f010"/><circle cx="330.06" cy="465.45" r="2.34" fill="#10f010"/><circle cx="341.01" cy="468.97" r="2.34" fill="#10f010"/><circle cx="351.96" cy="470.57" r="2.34" fill="#10f010"/><circle cx="362.91" cy="472.63" r="2.34" fill="#10f010"/><circle cx="373.86" cy="474.38" r="2.34" fill="#10f010"/><circle cx="384.81" cy="476.84" r="2.34" fill="#10f010"/><circle cx="395.76" cy="477.91" r="2.34" fill="#10f010"/><circle cx="406.71" cy="478.51" r="2.34" fill="#10f010"/><circle cx="417.66" cy="479.01" r="2.34" fill="#10f010"/><circle cx="428.61" cy="479.3" r="2.34" fill="#10f010"/><circle cx="439.56" cy="479.37" r="2.34" fill="#10f010"/><circle cx="450.51" cy="479.43" r="2.34" fill="#10f010"/><circle cx="461.46" cy="479.5" r="2.34" fill="#10f010"/><circle cx="472.41" cy="480.06" r="2.34" fill="#10f010"/><circle cx="483.36" cy="480.1" r="2.34" fill="#10f010"/><circle cx="494.31" cy="480.1" r="2.34" fill="#10f010"/><circle cx="505.26" cy="480.1" r="2.34" fill="#10f010"/><circle cx="516.21" cy="480.1" r="2.34" fill="#10f010"/><circle cx="527.16" cy="480.1" r="2.34" fill="#10f010"/><path d="M319.3 452 L320.3 470 L321.3 483.1 L329.6 491.4 L340.5 496.7 L351.6 500.9 L362.7 504.5 L373.5 507.5 L384.4 508.8 L395.5 511 L406.4 513.3 L417.4 514.6 L428.1 516.1 L439.2 517.2 L450.5 518.9 L461.6 520.3 L472.7 522.4 L483.5 524.5 L494.4 527.2 L505.5 530.8 L516.4 535 L527.4 540.2 L533.7 545.4 L538 553" fill="none" stroke="#0f8080" stroke-width="1.6" stroke-linejoin="round"/><path d="M317.22 449.92L321.38 454.08M317.22 454.08L321.38 449.92M316.7 452L321.9 452" stroke="#0f8080" stroke-width="1.0"/><path d="M327.98 489.54L332.14 493.7M327.98 493.7L332.14 489.54M327.46 491.62L332.66 491.62" stroke="#0f8080" stroke-width="1.0"/><path d="M338.93 494.81L343.09 498.97M338.93 498.97L343.09 494.81M338.41 496.89L343.61 496.89" stroke="#0f8080" stroke-width="1.0"/><path d="M349.88 498.94L354.04 503.1M349.88 503.1L354.04 498.94M349.36 501.02L354.56 501.02" stroke="#0f8080" stroke-width="1.0"/><path d="M360.83 502.48L364.99 506.64M360.83 506.64L364.99 502.48M360.31 504.56L365.51 504.56" stroke="#0f8080" stroke-width="1.0"/><path d="M371.78 505.46L375.94 509.62M371.78 509.62L375.94 505.46M371.26 507.54L376.46 507.54" stroke="#0f8080" stroke-width="1.0"/><path d="M382.73 506.8L386.89 510.96M382.73 510.96L386.89 506.8M382.21 508.88L387.41 508.88" stroke="#0f8080" stroke-width="1.0"/><path d="M393.68 508.97L397.84 513.13M393.68 513.13L397.84 508.97M393.16 511.05L398.36 511.05" stroke="#0f8080" stroke-width="1.0"/><path d="M404.63 511.26L408.79 515.42M404.63 515.42L408.79 511.26M404.11 513.34L409.31 513.34" stroke="#0f8080" stroke-width="1.0"/><path d="M415.58 512.56L419.74 516.72M415.58 516.72L419.74 512.56M415.06 514.64L420.26 514.64" stroke="#0f8080" stroke-width="1.0"/><path d="M426.53 514.07L430.69 518.23M426.53 518.23L430.69 514.07M426.01 516.15L431.21 516.15" stroke="#0f8080" stroke-width="1.0"/><path d="M437.48 515.17L441.64 519.33M437.48 519.33L441.64 515.17M436.96 517.25L442.16 517.25" stroke="#0f8080" stroke-width="1.0"/><path d="M448.43 516.82L452.59 520.98M448.43 520.98L452.59 516.82M447.91 518.9L453.11 518.9" stroke="#0f8080" stroke-width="1.0"/><path d="M459.38 518.2L463.54 522.36M459.38 522.36L463.54 518.2M458.86 520.28L464.06 520.28" stroke="#0f8080" stroke-width="1.0"/><path d="M470.33 520.27L474.49 524.43M470.33 524.43L474.49 520.27M469.81 522.35L475.01 522.35" stroke="#0f8080" stroke-width="1.0"/><path d="M481.28 522.39L485.44 526.55M481.28 526.55L485.44 522.39M480.76 524.47L485.96 524.47" stroke="#0f8080" stroke-width="1.0"/><path d="M492.23 525.1L496.39 529.26M492.23 529.26L496.39 525.1M491.71 527.18L496.91 527.18" stroke="#0f8080" stroke-width="1.0"/><path d="M503.18 528.64L507.34 532.8M503.18 532.8L507.34 528.64M502.66 530.72L507.86 530.72" stroke="#0f8080" stroke-width="1.0"/><path d="M514.13 532.85L518.29 537.01M514.13 537.01L518.29 532.85M513.61 534.93L518.81 534.93" stroke="#0f8080" stroke-width="1.0"/><path d="M525.08 538.01L529.24 542.17M525.08 542.17L529.24 538.01M524.56 540.09L529.76 540.09" stroke="#0f8080" stroke-width="1.0"/><path d="M319.3 447 L320.2 476.8 L323.4 500 L324.4 510 L326.5 522 L329.6 534.5 L334 550 L340.5 561.7 L351.6 570 L362.7 573.2 L373.5 574.8 L384.4 576.9 L395.5 578.4 L406.4 579.4 L417.4 579.9 L428.1 580.7 L439.2 582 L450.5 583 L472.7 584.1 L505.5 584.5 L538 585.1" fill="none" stroke="#1ae6f0" stroke-width="1.6" stroke-linejoin="round"/><path d="M316.7 447L321.9 447M319.3 444.4L319.3 449.6" stroke="#1ae6f0" stroke-width="1.0"/><path d="M327.46 536.12L332.66 536.12M330.06 533.52L330.06 538.72" stroke="#1ae6f0" stroke-width="1.0"/><path d="M338.41 562.08L343.61 562.08M341.01 559.48L341.01 564.68" stroke="#1ae6f0" stroke-width="1.0"/><path d="M349.36 570.1L354.56 570.1M351.96 567.5L351.96 572.7" stroke="#1ae6f0" stroke-width="1.0"/><path d="M360.31 573.23L365.51 573.23M362.91 570.63L362.91 575.83" stroke="#1ae6f0" stroke-width="1.0"/><path d="M371.26 574.87L376.46 574.87M373.86 572.27L373.86 577.47" stroke="#1ae6f0" stroke-width="1.0"/><path d="M382.21 576.96L387.41 576.96M384.81 574.36L384.81 579.56" stroke="#1ae6f0" stroke-width="1.0"/><path d="M393.16 578.42L398.36 578.42M395.76 575.82L395.76 581.02" stroke="#1ae6f0" stroke-width="1.0"/><path d="M404.11 579.41L409.31 579.41M406.71 576.81L406.71 582.01" stroke="#1ae6f0" stroke-width="1.0"/><path d="M415.06 579.92L420.26 579.92M417.66 577.32L417.66 582.52" stroke="#1ae6f0" stroke-width="1.0"/><path d="M426.01 580.76L431.21 580.76M428.61 578.16L428.61 583.36" stroke="#1ae6f0" stroke-width="1.0"/><path d="M436.96 582.03L442.16 582.03M439.56 579.43L439.56 584.63" stroke="#1ae6f0" stroke-width="1.0"/><path d="M447.91 583L453.11 583M450.51 580.4L450.51 585.6" stroke="#1ae6f0" stroke-width="1.0"/><path d="M458.86 583.54L464.06 583.54M461.46 580.94L461.46 586.14" stroke="#1ae6f0" stroke-width="1.0"/><path d="M469.81 584.09L475.01 584.09M472.41 581.49L472.41 586.69" stroke="#1ae6f0" stroke-width="1.0"/><path d="M480.76 584.23L485.96 584.23M483.36 581.63L483.36 586.83" stroke="#1ae6f0" stroke-width="1.0"/><path d="M491.71 584.36L496.91 584.36M494.31 581.76L494.31 586.96" stroke="#1ae6f0" stroke-width="1.0"/><path d="M502.66 584.5L507.86 584.5M505.26 581.9L505.26 587.1" stroke="#1ae6f0" stroke-width="1.0"/><path d="M513.61 584.7L518.81 584.7M516.21 582.1L516.21 587.3" stroke="#1ae6f0" stroke-width="1.0"/><path d="M524.56 584.9L529.76 584.9M527.16 582.3L527.16 587.5" stroke="#1ae6f0" stroke-width="1.0"/><path d="M319.3 446 L321.3 464.3 L329.6 472.6 L340.5 474.7 L351.6 477.9 L362.7 480 L373.5 482 L384.4 484.1 L395.5 484.6 L406.4 485.2 L417.4 485.5 L428 486.3 L439.3 487.1 L450.6 488.6 L461.9 488.6 L473.1 490 L483 490.8 L494.4 493.1 L505.5 493.8 L516.4 494.2 L527.4 494.8 L538 495.8" fill="none" stroke="#ff8020" stroke-width="1.6" stroke-linejoin="round"/><path d="M316.44 448.08L322.16 448.08L319.3 443.14Z" fill="none" stroke="#ff8020" stroke-width="1.0"/><path d="M327.2 474.77L332.92 474.77L330.06 469.83Z" fill="none" stroke="#ff8020" stroke-width="1.0"/><path d="M338.15 476.93L343.87 476.93L341.01 471.99Z" fill="none" stroke="#ff8020" stroke-width="1.0"/><path d="M349.1 480.05L354.82 480.05L351.96 475.11Z" fill="none" stroke="#ff8020" stroke-width="1.0"/><path d="M360.05 482.12L365.77 482.12L362.91 477.18Z" fill="none" stroke="#ff8020" stroke-width="1.0"/><path d="M371 484.15L376.72 484.15L373.86 479.21Z" fill="none" stroke="#ff8020" stroke-width="1.0"/><path d="M381.95 486.2L387.67 486.2L384.81 481.26Z" fill="none" stroke="#ff8020" stroke-width="1.0"/><path d="M392.9 486.69L398.62 486.69L395.76 481.75Z" fill="none" stroke="#ff8020" stroke-width="1.0"/><path d="M403.85 487.29L409.57 487.29L406.71 482.35Z" fill="none" stroke="#ff8020" stroke-width="1.0"/><path d="M414.8 487.6L420.52 487.6L417.66 482.66Z" fill="none" stroke="#ff8020" stroke-width="1.0"/><path d="M425.75 488.42L431.47 488.42L428.61 483.48Z" fill="none" stroke="#ff8020" stroke-width="1.0"/><path d="M436.7 489.21L442.42 489.21L439.56 484.27Z" fill="none" stroke="#ff8020" stroke-width="1.0"/><path d="M447.65 490.67L453.37 490.67L450.51 485.73Z" fill="none" stroke="#ff8020" stroke-width="1.0"/><path d="M458.6 490.68L464.32 490.68L461.46 485.74Z" fill="none" stroke="#ff8020" stroke-width="1.0"/><path d="M469.55 491.99L475.27 491.99L472.41 487.05Z" fill="none" stroke="#ff8020" stroke-width="1.0"/><path d="M480.5 492.95L486.22 492.95L483.36 488.01Z" fill="none" stroke="#ff8020" stroke-width="1.0"/><path d="M491.45 495.16L497.17 495.16L494.31 490.22Z" fill="none" stroke="#ff8020" stroke-width="1.0"/><path d="M502.4 495.86L508.12 495.86L505.26 490.92Z" fill="none" stroke="#ff8020" stroke-width="1.0"/><path d="M513.35 496.27L519.07 496.27L516.21 491.33Z" fill="none" stroke="#ff8020" stroke-width="1.0"/><path d="M524.3 496.87L530.02 496.87L527.16 491.93Z" fill="none" stroke="#ff8020" stroke-width="1.0"/><path d="M319.3 440.2 L320.5 470 L321.3 489.4 L325 500 L329.6 508.4 L340.5 524 L351.6 529.7 L362.7 535.1 L373.5 537.6 L384.4 538.7 L395.5 540.8 L406.4 541.8 L417.4 542.2 L428.1 542.6 L439.2 543.3 L450.5 543.9 L527.4 546 L538 546.4" fill="none" stroke="#1a9aff" stroke-width="1.6" stroke-linejoin="round"/><circle cx="319.3" cy="440.2" r="2.47" fill="none" stroke="#1a9aff" stroke-width="1.0"/><circle cx="330.06" cy="509.06" r="2.47" fill="none" stroke="#1a9aff" stroke-width="1.0"/><circle cx="341.01" cy="524.26" r="2.47" fill="none" stroke="#1a9aff" stroke-width="1.0"/><circle cx="351.96" cy="529.87" r="2.47" fill="none" stroke="#1a9aff" stroke-width="1.0"/><circle cx="362.91" cy="535.15" r="2.47" fill="none" stroke="#1a9aff" stroke-width="1.0"/><circle cx="373.86" cy="537.64" r="2.47" fill="none" stroke="#1a9aff" stroke-width="1.0"/><circle cx="384.81" cy="538.78" r="2.47" fill="none" stroke="#1a9aff" stroke-width="1.0"/><circle cx="395.76" cy="540.82" r="2.47" fill="none" stroke="#1a9aff" stroke-width="1.0"/><circle cx="406.71" cy="541.81" r="2.47" fill="none" stroke="#1a9aff" stroke-width="1.0"/><circle cx="417.66" cy="542.21" r="2.47" fill="none" stroke="#1a9aff" stroke-width="1.0"/><circle cx="428.61" cy="542.63" r="2.47" fill="none" stroke="#1a9aff" stroke-width="1.0"/><circle cx="439.56" cy="543.32" r="2.47" fill="none" stroke="#1a9aff" stroke-width="1.0"/><circle cx="450.51" cy="543.9" r="2.47" fill="none" stroke="#1a9aff" stroke-width="1.0"/><circle cx="461.46" cy="544.2" r="2.47" fill="none" stroke="#1a9aff" stroke-width="1.0"/><circle cx="472.41" cy="544.5" r="2.47" fill="none" stroke="#1a9aff" stroke-width="1.0"/><circle cx="483.36" cy="544.8" r="2.47" fill="none" stroke="#1a9aff" stroke-width="1.0"/><circle cx="494.31" cy="545.1" r="2.47" fill="none" stroke="#1a9aff" stroke-width="1.0"/><circle cx="505.26" cy="545.4" r="2.47" fill="none" stroke="#1a9aff" stroke-width="1.0"/><circle cx="516.21" cy="545.69" r="2.47" fill="none" stroke="#1a9aff" stroke-width="1.0"/><circle cx="527.16" cy="545.99" r="2.47" fill="none" stroke="#1a9aff" stroke-width="1.0"/><path d="M319.3 447 L321 470 L325 485 L329.6 492 L340.5 497.7 L351.6 500.9 L362.7 501.5 L373.5 502.3 L395.5 502.6 L428 503.3 L538 503.8" fill="none" stroke="#ffb8c6" stroke-width="1.6" stroke-linejoin="round"/><path d="M319.3 443.62L321.9 447L319.3 450.38L316.7 447Z" fill="none" stroke="#ffb8c6" stroke-width="1.0"/><path d="M330.06 488.86L332.66 492.24L330.06 495.62L327.46 492.24Z" fill="none" stroke="#ffb8c6" stroke-width="1.0"/><path d="M341.01 494.47L343.61 497.85L341.01 501.23L338.41 497.85Z" fill="none" stroke="#ffb8c6" stroke-width="1.0"/><path d="M351.96 497.54L354.56 500.92L351.96 504.3L349.36 500.92Z" fill="none" stroke="#ffb8c6" stroke-width="1.0"/><path d="M362.91 498.14L365.51 501.52L362.91 504.9L360.31 501.52Z" fill="none" stroke="#ffb8c6" stroke-width="1.0"/><path d="M373.86 498.92L376.46 502.3L373.86 505.68L371.26 502.3Z" fill="none" stroke="#ffb8c6" stroke-width="1.0"/><path d="M384.81 499.07L387.41 502.45L384.81 505.83L382.21 502.45Z" fill="none" stroke="#ffb8c6" stroke-width="1.0"/><path d="M395.76 499.23L398.36 502.61L395.76 505.99L393.16 502.61Z" fill="none" stroke="#ffb8c6" stroke-width="1.0"/><path d="M406.71 499.46L409.31 502.84L406.71 506.22L404.11 502.84Z" fill="none" stroke="#ffb8c6" stroke-width="1.0"/><path d="M417.66 499.7L420.26 503.08L417.66 506.46L415.06 503.08Z" fill="none" stroke="#ffb8c6" stroke-width="1.0"/><path d="M428.61 499.92L431.21 503.3L428.61 506.68L426.01 503.3Z" fill="none" stroke="#ffb8c6" stroke-width="1.0"/><path d="M439.56 499.97L442.16 503.35L439.56 506.73L436.96 503.35Z" fill="none" stroke="#ffb8c6" stroke-width="1.0"/><path d="M450.51 500.02L453.11 503.4L450.51 506.78L447.91 503.4Z" fill="none" stroke="#ffb8c6" stroke-width="1.0"/><path d="M461.46 500.07L464.06 503.45L461.46 506.83L458.86 503.45Z" fill="none" stroke="#ffb8c6" stroke-width="1.0"/><path d="M472.41 500.12L475.01 503.5L472.41 506.88L469.81 503.5Z" fill="none" stroke="#ffb8c6" stroke-width="1.0"/><path d="M483.36 500.17L485.96 503.55L483.36 506.93L480.76 503.55Z" fill="none" stroke="#ffb8c6" stroke-width="1.0"/><path d="M494.31 500.22L496.91 503.6L494.31 506.98L491.71 503.6Z" fill="none" stroke="#ffb8c6" stroke-width="1.0"/><path d="M505.26 500.27L507.86 503.65L505.26 507.03L502.66 503.65Z" fill="none" stroke="#ffb8c6" stroke-width="1.0"/><path d="M516.21 500.32L518.81 503.7L516.21 507.08L513.61 503.7Z" fill="none" stroke="#ffb8c6" stroke-width="1.0"/><path d="M527.16 500.37L529.76 503.75L527.16 507.13L524.56 503.75Z" fill="none" stroke="#ffb8c6" stroke-width="1.0"/><path d="M319.3 447 L320.3 475 L321.3 489.4 L323.4 496 L329.6 501 L335.9 505.5 L340.5 506.5 L356.8 510.5 L377.7 513 L398.6 514 L427.9 515.1 L466.8 516.1 L498.2 517.2 L519.1 519.3 L531.6 523.5 L538 532.9" fill="none" stroke="#7b8fa6" stroke-width="1.25" stroke-linejoin="round"/><path d="M319.3 447.5 L320.2 470 L321.3 500 L323.4 524.9 L325.5 541.8 L329.6 580.5 L334.9 598.3 L340.5 604.5 L351.6 608.3 L362.7 610.4 L373.5 611.2 L384.4 611.9 L395.5 612.5 L427.9 612.9 L538 613.4" fill="none" stroke="#ff1a1a" stroke-width="1.6" stroke-linejoin="round"/><rect x="316.96" y="445.16" width="4.68" height="4.68" fill="none" stroke="#ff1a1a" stroke-width="1.05"/><rect x="327.72" y="579.7" width="4.68" height="4.68" fill="none" stroke="#ff1a1a" stroke-width="1.05"/><rect x="338.67" y="602.33" width="4.68" height="4.68" fill="none" stroke="#ff1a1a" stroke-width="1.05"/><rect x="349.62" y="606.03" width="4.68" height="4.68" fill="none" stroke="#ff1a1a" stroke-width="1.05"/><rect x="360.57" y="608.08" width="4.68" height="4.68" fill="none" stroke="#ff1a1a" stroke-width="1.05"/><rect x="371.52" y="608.88" width="4.68" height="4.68" fill="none" stroke="#ff1a1a" stroke-width="1.05"/><rect x="382.47" y="609.58" width="4.68" height="4.68" fill="none" stroke="#ff1a1a" stroke-width="1.05"/><rect x="393.42" y="610.16" width="4.68" height="4.68" fill="none" stroke="#ff1a1a" stroke-width="1.05"/><rect x="404.37" y="610.3" width="4.68" height="4.68" fill="none" stroke="#ff1a1a" stroke-width="1.05"/><rect x="415.32" y="610.43" width="4.68" height="4.68" fill="none" stroke="#ff1a1a" stroke-width="1.05"/><rect x="426.27" y="610.56" width="4.68" height="4.68" fill="none" stroke="#ff1a1a" stroke-width="1.05"/><rect x="437.22" y="610.61" width="4.68" height="4.68" fill="none" stroke="#ff1a1a" stroke-width="1.05"/><rect x="448.17" y="610.66" width="4.68" height="4.68" fill="none" stroke="#ff1a1a" stroke-width="1.05"/><rect x="459.12" y="610.71" width="4.68" height="4.68" fill="none" stroke="#ff1a1a" stroke-width="1.05"/><rect x="470.07" y="610.76" width="4.68" height="4.68" fill="none" stroke="#ff1a1a" stroke-width="1.05"/><rect x="481.02" y="610.81" width="4.68" height="4.68" fill="none" stroke="#ff1a1a" stroke-width="1.05"/><rect x="491.97" y="610.86" width="4.68" height="4.68" fill="none" stroke="#ff1a1a" stroke-width="1.05"/><rect x="502.92" y="610.91" width="4.68" height="4.68" fill="none" stroke="#ff1a1a" stroke-width="1.05"/><rect x="513.87" y="610.96" width="4.68" height="4.68" fill="none" stroke="#ff1a1a" stroke-width="1.05"/><rect x="524.82" y="611.01" width="4.68" height="4.68" fill="none" stroke="#ff1a1a" stroke-width="1.05"/></g><text x="340.9" y="622.5" text-anchor="middle" font-size="6.5" fill="#262626">200</text><text x="362.8" y="622.5" text-anchor="middle" font-size="6.5" fill="#262626">400</text><text x="384.7" y="622.5" text-anchor="middle" font-size="6.5" fill="#262626">600</text><text x="406.6" y="622.5" text-anchor="middle" font-size="6.5" fill="#262626">800</text><text x="428.5" y="622.5" text-anchor="middle" font-size="6.5" fill="#262626">1000</text><text x="450.4" y="622.5" text-anchor="middle" font-size="6.5" fill="#262626">1200</text><text x="472.3" y="622.5" text-anchor="middle" font-size="6.5" fill="#262626">1400</text><text x="494.2" y="622.5" text-anchor="middle" font-size="6.5" fill="#262626">1600</text><text x="516.1" y="622.5" text-anchor="middle" font-size="6.5" fill="#262626">1800</text><text x="538" y="622.5" text-anchor="middle" font-size="6.5" fill="#262626">2000</text><text x="315.8" y="586.22" text-anchor="end" font-size="6.5" fill="#262626">4</text><text x="315.8" y="543.11" text-anchor="end" font-size="6.5" fill="#262626">6</text><text x="315.8" y="512.52" text-anchor="end" font-size="6.5" fill="#262626">8</text><text x="315.8" y="488.8" text-anchor="end" font-size="6.5" fill="#262626">10</text><text x="315.8" y="469.42" text-anchor="end" font-size="6.5" fill="#262626">12</text><text x="315.8" y="453.03" text-anchor="end" font-size="6.5" fill="#262626">14</text><text x="428.5" y="437.2" text-anchor="middle" font-size="7.2" fill="#262626">CEC2019-F6</text><text x="428.5" y="632.7" text-anchor="middle" font-size="7" fill="#262626">Iterations</text><text transform="translate(304.4 527.9) rotate(-90)" text-anchor="middle" font-size="7.2" fill="#262626">Average best score obtained so far</text><rect x="395.6" y="440.6" width="142.4" height="33.9" fill="#fff" stroke="#8c8c8c" stroke-width="0.7"/><path d="M396.6 445.36H418.1" stroke="#1414ff" stroke-width="1.5"/><path d="M407.6 442.16L410.95 445.36L407.6 448.57L404.25 445.36Z" fill="#1414ff" stroke="#1414ff" stroke-width="0.7" stroke-linejoin="round"/><text x="419.6" y="447.46" font-size="5.85" fill="#262626">PSO</text><path d="M396.6 453.49H418.1" stroke="#ff1aff" stroke-width="1.5"/><path d="M404.4 451.16L410.8 451.16L407.6 456.69Z" fill="#ff1aff" fill-opacity="0.75" stroke="#ff1aff" stroke-width="1.0"/><text x="419.6" y="455.59" font-size="5.85" fill="#262626">AO</text><path d="M396.6 461.61H418.1" stroke="#10f010" stroke-width="1.5"/><circle cx="407.6" cy="461.61" r="2.62" fill="#10f010"/><text x="419.6" y="463.71" font-size="5.85" fill="#262626">BWO</text><path d="M396.6 469.74H418.1" stroke="#0f8080" stroke-width="1.5"/><path d="M405.27 467.41L409.93 472.07M405.27 472.07L409.93 467.41M404.69 469.74L410.51 469.74" stroke="#0f8080" stroke-width="1.0"/><text x="419.6" y="471.84" font-size="5.85" fill="#262626">GJO</text><path d="M436.9 445.36H458.4" stroke="#1ae6f0" stroke-width="1.5"/><path d="M444.99 445.36L450.81 445.36M447.9 442.45L447.9 448.27" stroke="#1ae6f0" stroke-width="1.0"/><text x="459.9" y="447.46" font-size="5.85" fill="#262626">COA</text><path d="M436.9 453.49H458.4" stroke="#ff8020" stroke-width="1.5"/><path d="M444.7 455.82L451.1 455.82L447.9 450.28Z" fill="none" stroke="#ff8020" stroke-width="1.0"/><text x="459.9" y="455.59" font-size="5.85" fill="#262626">CSCAHHO</text><path d="M436.9 461.61H458.4" stroke="#1a9aff" stroke-width="1.5"/><circle cx="447.9" cy="461.61" r="2.77" fill="none" stroke="#1a9aff" stroke-width="1.0"/><text x="459.9" y="463.71" font-size="5.85" fill="#262626">AOSMA</text><path d="M436.9 469.74H458.4" stroke="#ffb8c6" stroke-width="1.5"/><path d="M447.9 465.95L450.81 469.74L447.9 473.52L444.99 469.74Z" fill="none" stroke="#ffb8c6" stroke-width="1.0"/><text x="459.9" y="471.84" font-size="5.85" fill="#262626">ATOA</text><path d="M493.3 445.36H514.8" stroke="#7b8fa6" stroke-width="1.5"/><text x="516.3" y="447.46" font-size="5.85" fill="#262626">AGWO</text><path d="M493.3 453.49H514.8" stroke="#ff1a1a" stroke-width="1.5"/><rect x="501.68" y="450.87" width="5.24" height="5.24" fill="none" stroke="#ff1a1a" stroke-width="1.05"/><text x="516.3" y="455.59" font-size="5.85" fill="#262626">ECOA</text></g><g><clipPath id="clip03"><rect x="27.2" y="649.4" width="223.5" height="181.2"/></clipPath><path d="M31.2 653.4H250.2V826.6H31.2Z" fill="none" stroke="#808080" stroke-width="1.0"/><path d="M53.1 826.6v-2M53.1 653.4v2M75 826.6v-2M75 653.4v2M96.9 826.6v-2M96.9 653.4v2M118.8 826.6v-2M118.8 653.4v2M140.7 826.6v-2M140.7 653.4v2M162.6 826.6v-2M162.6 653.4v2M184.5 826.6v-2M184.5 653.4v2M206.4 826.6v-2M206.4 653.4v2M228.3 826.6v-2M228.3 653.4v2M250.2 826.6v-2M250.2 653.4v2M31.2 759.9h2M250.2 759.9h-2M31.2 720.07h2M250.2 720.07h-2M31.2 691.81h2M250.2 691.81h-2M31.2 669.89h2M250.2 669.89h-2" stroke="#808080" stroke-width="0.7"/><g clip-path="url(#clip03)"><path d="M31.3 660 L32.5 680 L36 696 L41.8 707.6 L52.8 718.8 L63.6 725.4 L74.8 729.5 L86 733.2 L96.8 736.4 L107.8 737.7 L118.6 739.1 L129.8 739.7 L140.3 740.6 L151.6 741.9 L162.7 742.6 L173.9 743.6 L185 744.5 L195.6 745.7 L206.7 746.2 L218 747.2 L228.6 747.9 L239.3 748.3 L250 749.4" fill="none" stroke="#1414ff" stroke-width="1.6" stroke-linejoin="round"/><path d="M31.3 657.14L34.29 660L31.3 662.86L28.31 660Z" fill="#1414ff" stroke="#1414ff" stroke-width="0.7" stroke-linejoin="round"/><path d="M42.26 705.21L45.25 708.07L42.26 710.93L39.27 708.07Z" fill="#1414ff" stroke="#1414ff" stroke-width="0.7" stroke-linejoin="round"/><path d="M53.21 716.19L56.2 719.05L53.21 721.91L50.22 719.05Z" fill="#1414ff" stroke="#1414ff" stroke-width="0.7" stroke-linejoin="round"/><path d="M64.16 722.74L67.15 725.6L64.16 728.46L61.17 725.6Z" fill="#1414ff" stroke="#1414ff" stroke-width="0.7" stroke-linejoin="round"/><path d="M75.11 726.74L78.1 729.6L75.11 732.46L72.12 729.6Z" fill="#1414ff" stroke="#1414ff" stroke-width="0.7" stroke-linejoin="round"/><path d="M86.06 730.36L89.05 733.22L86.06 736.08L83.07 733.22Z" fill="#1414ff" stroke="#1414ff" stroke-width="0.7" stroke-linejoin="round"/><path d="M97.01 733.56L100 736.42L97.01 739.28L94.02 736.42Z" fill="#1414ff" stroke="#1414ff" stroke-width="0.7" stroke-linejoin="round"/><path d="M107.96 734.86L110.95 737.72L107.96 740.58L104.97 737.72Z" fill="#1414ff" stroke="#1414ff" stroke-width="0.7" stroke-linejoin="round"/><path d="M118.91 736.26L121.9 739.12L118.91 741.98L115.92 739.12Z" fill="#1414ff" stroke="#1414ff" stroke-width="0.7" stroke-linejoin="round"/><path d="M129.86 736.85L132.85 739.71L129.86 742.57L126.87 739.71Z" fill="#1414ff" stroke="#1414ff" stroke-width="0.7" stroke-linejoin="round"/><path d="M140.81 737.8L143.8 740.66L140.81 743.52L137.82 740.66Z" fill="#1414ff" stroke="#1414ff" stroke-width="0.7" stroke-linejoin="round"/><path d="M151.76 739.05L154.75 741.91L151.76 744.77L148.77 741.91Z" fill="#1414ff" stroke="#1414ff" stroke-width="0.7" stroke-linejoin="round"/><path d="M162.71 739.74L165.7 742.6L162.71 745.46L159.72 742.6Z" fill="#1414ff" stroke="#1414ff" stroke-width="0.7" stroke-linejoin="round"/><path d="M173.66 740.72L176.65 743.58L173.66 746.44L170.67 743.58Z" fill="#1414ff" stroke="#1414ff" stroke-width="0.7" stroke-linejoin="round"/><path d="M184.61 741.61L187.6 744.47L184.61 747.33L181.62 744.47Z" fill="#1414ff" stroke="#1414ff" stroke-width="0.7" stroke-linejoin="round"/><path d="M195.56 742.84L198.55 745.7L195.56 748.56L192.57 745.7Z" fill="#1414ff" stroke="#1414ff" stroke-width="0.7" stroke-linejoin="round"/><path d="M206.51 743.33L209.5 746.19L206.51 749.05L203.52 746.19Z" fill="#1414ff" stroke="#1414ff" stroke-width="0.7" stroke-linejoin="round"/><path d="M217.46 744.29L220.45 747.15L217.46 750.01L214.47 747.15Z" fill="#1414ff" stroke="#1414ff" stroke-width="0.7" stroke-linejoin="round"/><path d="M228.41 745.03L231.4 747.89L228.41 750.75L225.42 747.89Z" fill="#1414ff" stroke="#1414ff" stroke-width="0.7" stroke-linejoin="round"/><path d="M239.36 745.45L242.35 748.31L239.36 751.17L236.37 748.31Z" fill="#1414ff" stroke="#1414ff" stroke-width="0.7" stroke-linejoin="round"/><path d="M31.3 656 L32.5 670 L36.1 685.7 L41.8 689.8 L52.8 693.8 L63.6 696.9 L74.8 698.9 L86 701.4 L96.8 703 L107.8 706 L118.6 707.5 L129.8 709.1 L140.3 711.4 L151.6 712.3 L162.7 712.3 L173.9 712.6 L177.3 712.8 L178.6 731.3 L179.7 748.3 L181.8 758.9 L186.1 764.3 L195.6 771.7 L206.7 773.8 L218 776 L228.6 777.7 L239.3 778.1 L250 778.1" fill="none" stroke="#ff1aff" stroke-width="1.6" stroke-linejoin="round"/><path d="M28.44 653.92L34.16 653.92L31.3 658.86Z" fill="#ff1aff" fill-opacity="0.75" stroke="#ff1aff" stroke-width="1.0"/><path d="M39.4 687.89L45.12 687.89L42.26 692.83Z" fill="#ff1aff" fill-opacity="0.75" stroke="#ff1aff" stroke-width="1.0"/><path d="M50.35 691.84L56.07 691.84L53.21 696.78Z" fill="#ff1aff" fill-opacity="0.75" stroke="#ff1aff" stroke-width="1.0"/><path d="M61.3 694.92L67.02 694.92L64.16 699.86Z" fill="#ff1aff" fill-opacity="0.75" stroke="#ff1aff" stroke-width="1.0"/><path d="M72.25 696.89L77.97 696.89L75.11 701.83Z" fill="#ff1aff" fill-opacity="0.75" stroke="#ff1aff" stroke-width="1.0"/><path d="M83.2 699.33L88.92 699.33L86.06 704.27Z" fill="#ff1aff" fill-opacity="0.75" stroke="#ff1aff" stroke-width="1.0"/><path d="M94.15 700.98L99.87 700.98L97.01 705.92Z" fill="#ff1aff" fill-opacity="0.75" stroke="#ff1aff" stroke-width="1.0"/><path d="M105.1 703.94L110.82 703.94L107.96 708.88Z" fill="#ff1aff" fill-opacity="0.75" stroke="#ff1aff" stroke-width="1.0"/><path d="M116.05 705.46L121.77 705.46L118.91 710.4Z" fill="#ff1aff" fill-opacity="0.75" stroke="#ff1aff" stroke-width="1.0"/><path d="M127 707.03L132.72 707.03L129.86 711.97Z" fill="#ff1aff" fill-opacity="0.75" stroke="#ff1aff" stroke-width="1.0"/><path d="M137.95 709.36L143.67 709.36L140.81 714.3Z" fill="#ff1aff" fill-opacity="0.75" stroke="#ff1aff" stroke-width="1.0"/><path d="M148.9 710.22L154.62 710.22L151.76 715.16Z" fill="#ff1aff" fill-opacity="0.75" stroke="#ff1aff" stroke-width="1.0"/><path d="M159.85 710.22L165.57 710.22L162.71 715.16Z" fill="#ff1aff" fill-opacity="0.75" stroke="#ff1aff" stroke-width="1.0"/><path d="M170.8 710.51L176.52 710.51L173.66 715.45Z" fill="#ff1aff" fill-opacity="0.75" stroke="#ff1aff" stroke-width="1.0"/><path d="M181.75 760.35L187.47 760.35L184.61 765.29Z" fill="#ff1aff" fill-opacity="0.75" stroke="#ff1aff" stroke-width="1.0"/><path d="M192.7 769.59L198.42 769.59L195.56 774.53Z" fill="#ff1aff" fill-opacity="0.75" stroke="#ff1aff" stroke-width="1.0"/><path d="M203.65 771.68L209.37 771.68L206.51 776.62Z" fill="#ff1aff" fill-opacity="0.75" stroke="#ff1aff" stroke-width="1.0"/><path d="M214.6 773.81L220.32 773.81L217.46 778.75Z" fill="#ff1aff" fill-opacity="0.75" stroke="#ff1aff" stroke-width="1.0"/><path d="M225.55 775.59L231.27 775.59L228.41 780.53Z" fill="#ff1aff" fill-opacity="0.75" stroke="#ff1aff" stroke-width="1.0"/><path d="M236.5 776.02L242.22 776.02L239.36 780.96Z" fill="#ff1aff" fill-opacity="0.75" stroke="#ff1aff" stroke-width="1.0"/><path d="M31.3 657 L32.5 672 L36.1 686.7 L41.8 691.8 L52.8 695.9 L63.6 698.9 L74.8 702 L86 705 L96.8 706 L107.8 706.7 L118.6 707.1 L140.3 707.6 L162.7 707.6 L173.9 708.6 L185 709.3 L195.6 709.7 L206.7 710.1 L218 710.8 L228.6 711.2 L250 711.4" fill="none" stroke="#10f010" stroke-width="1.6" stroke-linejoin="round"/><circle cx="31.3" cy="657" r="2.34" fill="#10f010"/><circle cx="42.26" cy="691.97" r="2.34" fill="#10f010"/><circle cx="53.21" cy="696.01" r="2.34" fill="#10f010"/><circle cx="64.16" cy="699.05" r="2.34" fill="#10f010"/><circle cx="75.11" cy="702.08" r="2.34" fill="#10f010"/><circle cx="86.06" cy="705.01" r="2.34" fill="#10f010"/><circle cx="97.01" cy="706.01" r="2.34" fill="#10f010"/><circle cx="107.96" cy="706.71" r="2.34" fill="#10f010"/><circle cx="118.91" cy="707.11" r="2.34" fill="#10f010"/><circle cx="129.86" cy="707.36" r="2.34" fill="#10f010"/><circle cx="140.81" cy="707.6" r="2.34" fill="#10f010"/><circle cx="151.76" cy="707.6" r="2.34" fill="#10f010"/><circle cx="162.71" cy="707.6" r="2.34" fill="#10f010"/><circle cx="173.66" cy="708.58" r="2.34" fill="#10f010"/><circle cx="184.61" cy="709.28" r="2.34" fill="#10f010"/><circle cx="195.56" cy="709.7" r="2.34" fill="#10f010"/><circle cx="206.51" cy="710.09" r="2.34" fill="#10f010"/><circle cx="217.46" cy="710.77" r="2.34" fill="#10f010"/><circle cx="228.41" cy="711.19" r="2.34" fill="#10f010"/><circle cx="239.36" cy="711.3" r="2.34" fill="#10f010"/><path d="M31.3 658 L33 685 L36 702 L41.8 715.8 L52.8 724.4 L63.6 730 L74.8 735.6 L86 741.8 L96.8 743.8 L107.8 748.5 L118.6 749.9 L129.8 751.9 L140.3 754.7 L151.6 757.9 L162.7 760 L173.9 761.1 L185 762.8 L195.6 764.9 L206.7 767.4 L218 770.6 L228.6 773.8 L239.3 777 L250 779.8" fill="none" stroke="#0f8080" stroke-width="1.6" stroke-linejoin="round"/><path d="M29.22 655.92L33.38 660.08M29.22 660.08L33.38 655.92M28.7 658L33.9 658" stroke="#0f8080" stroke-width="1.0"/><path d="M40.18 714.08L44.34 718.24M40.18 718.24L44.34 714.08M39.66 716.16L44.86 716.16" stroke="#0f8080" stroke-width="1.0"/><path d="M51.13 722.53L55.29 726.69M51.13 726.69L55.29 722.53M50.61 724.61L55.81 724.61" stroke="#0f8080" stroke-width="1.0"/><path d="M62.08 728.2L66.24 732.36M62.08 732.36L66.24 728.2M61.56 730.28L66.76 730.28" stroke="#0f8080" stroke-width="1.0"/><path d="M73.03 733.69L77.19 737.85M73.03 737.85L77.19 733.69M72.51 735.77L77.71 735.77" stroke="#0f8080" stroke-width="1.0"/><path d="M83.98 739.73L88.14 743.89M83.98 743.89L88.14 739.73M83.46 741.81L88.66 741.81" stroke="#0f8080" stroke-width="1.0"/><path d="M94.93 741.81L99.09 745.97M94.93 745.97L99.09 741.81M94.41 743.89L99.61 743.89" stroke="#0f8080" stroke-width="1.0"/><path d="M105.88 746.44L110.04 750.6M105.88 750.6L110.04 746.44M105.36 748.52L110.56 748.52" stroke="#0f8080" stroke-width="1.0"/><path d="M116.83 747.88L120.99 752.04M116.83 752.04L120.99 747.88M116.31 749.96L121.51 749.96" stroke="#0f8080" stroke-width="1.0"/><path d="M127.78 749.84L131.94 754M127.78 754L131.94 749.84M127.26 751.92L132.46 751.92" stroke="#0f8080" stroke-width="1.0"/><path d="M138.73 752.76L142.89 756.92M138.73 756.92L142.89 752.76M138.21 754.84L143.41 754.84" stroke="#0f8080" stroke-width="1.0"/><path d="M149.68 755.85L153.84 760.01M149.68 760.01L153.84 755.85M149.16 757.93L154.36 757.93" stroke="#0f8080" stroke-width="1.0"/><path d="M160.63 757.92L164.79 762.08M160.63 762.08L164.79 757.92M160.11 760L165.31 760" stroke="#0f8080" stroke-width="1.0"/><path d="M171.58 759L175.74 763.16M171.58 763.16L175.74 759M171.06 761.08L176.26 761.08" stroke="#0f8080" stroke-width="1.0"/><path d="M182.53 760.66L186.69 764.82M182.53 764.82L186.69 760.66M182.01 762.74L187.21 762.74" stroke="#0f8080" stroke-width="1.0"/><path d="M193.48 762.81L197.64 766.97M193.48 766.97L197.64 762.81M192.96 764.89L198.16 764.89" stroke="#0f8080" stroke-width="1.0"/><path d="M204.43 765.28L208.59 769.44M204.43 769.44L208.59 765.28M203.91 767.36L209.11 767.36" stroke="#0f8080" stroke-width="1.0"/><path d="M215.38 768.37L219.54 772.53M215.38 772.53L219.54 768.37M214.86 770.45L220.06 770.45" stroke="#0f8080" stroke-width="1.0"/><path d="M226.33 771.66L230.49 775.82M226.33 775.82L230.49 771.66M225.81 773.74L231.01 773.74" stroke="#0f8080" stroke-width="1.0"/><path d="M237.28 774.94L241.44 779.1M237.28 779.1L241.44 774.94M236.76 777.02L241.96 777.02" stroke="#0f8080" stroke-width="1.0"/><path d="M31.3 657 L32.5 675 L36.1 688.7 L41.8 694.8 L48.4 701 L52.8 705 L63.6 716 L74.8 724 L86 730 L96.8 735.6 L107.8 738.7 L118.6 741.8 L129.8 744.4 L135 746.5 L151.6 751.5 L162.7 753.6 L173.9 757.9 L185 760 L195.6 761.1 L206.7 762.1 L218 764.3 L228.6 765.7 L239.3 767.9 L250 770.6" fill="none" stroke="#1ae6f0" stroke-width="1.6" stroke-linejoin="round"/><path d="M28.7 657L33.9 657M31.3 654.4L31.3 659.6" stroke="#1ae6f0" stroke-width="1.0"/><path d="M39.66 695.23L44.86 695.23M42.26 692.63L42.26 697.83" stroke="#1ae6f0" stroke-width="1.0"/><path d="M50.61 705.42L55.81 705.42M53.21 702.82L53.21 708.02" stroke="#1ae6f0" stroke-width="1.0"/><path d="M61.56 716.4L66.76 716.4M64.16 713.8L64.16 719" stroke="#1ae6f0" stroke-width="1.0"/><path d="M72.51 724.17L77.71 724.17M75.11 721.57L75.11 726.77" stroke="#1ae6f0" stroke-width="1.0"/><path d="M83.46 730.03L88.66 730.03M86.06 727.43L86.06 732.63" stroke="#1ae6f0" stroke-width="1.0"/><path d="M94.41 735.66L99.61 735.66M97.01 733.06L97.01 738.26" stroke="#1ae6f0" stroke-width="1.0"/><path d="M105.36 738.75L110.56 738.75M107.96 736.15L107.96 741.35" stroke="#1ae6f0" stroke-width="1.0"/><path d="M116.31 741.87L121.51 741.87M118.91 739.27L118.91 744.47" stroke="#1ae6f0" stroke-width="1.0"/><path d="M127.26 744.42L132.46 744.42M129.86 741.82L129.86 747.02" stroke="#1ae6f0" stroke-width="1.0"/><path d="M138.21 748.25L143.41 748.25M140.81 745.65L140.81 750.85" stroke="#1ae6f0" stroke-width="1.0"/><path d="M149.16 751.53L154.36 751.53M151.76 748.93L151.76 754.13" stroke="#1ae6f0" stroke-width="1.0"/><path d="M160.11 753.6L165.31 753.6M162.71 751L162.71 756.2" stroke="#1ae6f0" stroke-width="1.0"/><path d="M171.06 757.81L176.26 757.81M173.66 755.21L173.66 760.41" stroke="#1ae6f0" stroke-width="1.0"/><path d="M182.01 759.93L187.21 759.93M184.61 757.33L184.61 762.53" stroke="#1ae6f0" stroke-width="1.0"/><path d="M192.96 761.1L198.16 761.1M195.56 758.5L195.56 763.7" stroke="#1ae6f0" stroke-width="1.0"/><path d="M203.91 762.08L209.11 762.08M206.51 759.48L206.51 764.68" stroke="#1ae6f0" stroke-width="1.0"/><path d="M214.86 764.19L220.06 764.19M217.46 761.59L217.46 766.79" stroke="#1ae6f0" stroke-width="1.0"/><path d="M225.81 765.67L231.01 765.67M228.41 763.07L228.41 768.27" stroke="#1ae6f0" stroke-width="1.0"/><path d="M236.76 767.92L241.96 767.92M239.36 765.32L239.36 770.52" stroke="#1ae6f0" stroke-width="1.0"/><path d="M31.3 665.3 L33 685 L36.1 698.9 L41.8 703.4 L52.8 707.4 L63.6 710 L74.8 712.5 L86 714 L96.8 716.7 L107.8 718.8 L118.6 720.1 L129.8 721.5 L140.3 722.8 L151.6 724 L162.7 724.5 L173.9 725.8 L185 727.6 L195.6 729.5 L206.7 731.2 L218 733.3 L228.6 735.4 L239.3 737 L250 740" fill="none" stroke="#ff8020" stroke-width="1.6" stroke-linejoin="round"/><path d="M28.44 667.38L34.16 667.38L31.3 662.44Z" fill="none" stroke="#ff8020" stroke-width="1.0"/><path d="M39.4 705.65L45.12 705.65L42.26 700.71Z" fill="none" stroke="#ff8020" stroke-width="1.0"/><path d="M50.35 709.58L56.07 709.58L53.21 704.64Z" fill="none" stroke="#ff8020" stroke-width="1.0"/><path d="M61.3 712.2L67.02 712.2L64.16 707.26Z" fill="none" stroke="#ff8020" stroke-width="1.0"/><path d="M72.25 714.62L77.97 714.62L75.11 709.68Z" fill="none" stroke="#ff8020" stroke-width="1.0"/><path d="M83.2 716.09L88.92 716.09L86.06 711.15Z" fill="none" stroke="#ff8020" stroke-width="1.0"/><path d="M94.15 718.82L99.87 718.82L97.01 713.88Z" fill="none" stroke="#ff8020" stroke-width="1.0"/><path d="M105.1 720.9L110.82 720.9L107.96 715.96Z" fill="none" stroke="#ff8020" stroke-width="1.0"/><path d="M116.05 722.22L121.77 722.22L118.91 717.28Z" fill="none" stroke="#ff8020" stroke-width="1.0"/><path d="M127 723.59L132.72 723.59L129.86 718.65Z" fill="none" stroke="#ff8020" stroke-width="1.0"/><path d="M137.95 724.93L143.67 724.93L140.81 719.99Z" fill="none" stroke="#ff8020" stroke-width="1.0"/><path d="M148.9 726.09L154.62 726.09L151.76 721.15Z" fill="none" stroke="#ff8020" stroke-width="1.0"/><path d="M159.85 726.58L165.57 726.58L162.71 721.64Z" fill="none" stroke="#ff8020" stroke-width="1.0"/><path d="M170.8 727.85L176.52 727.85L173.66 722.91Z" fill="none" stroke="#ff8020" stroke-width="1.0"/><path d="M181.75 729.62L187.47 729.62L184.61 724.68Z" fill="none" stroke="#ff8020" stroke-width="1.0"/><path d="M192.7 731.57L198.42 731.57L195.56 726.63Z" fill="none" stroke="#ff8020" stroke-width="1.0"/><path d="M203.65 733.25L209.37 733.25L206.51 728.31Z" fill="none" stroke="#ff8020" stroke-width="1.0"/><path d="M214.6 735.28L220.32 735.28L217.46 730.34Z" fill="none" stroke="#ff8020" stroke-width="1.0"/><path d="M225.55 737.44L231.27 737.44L228.41 732.5Z" fill="none" stroke="#ff8020" stroke-width="1.0"/><path d="M236.5 739.1L242.22 739.1L239.36 734.16Z" fill="none" stroke="#ff8020" stroke-width="1.0"/><path d="M31.3 657 L33 685 L36 700 L41.8 714 L47.3 730.5 L52.8 751.9 L58 765 L63.6 777 L74.8 789.6 L86 797.8 L96.8 800.2 L107.8 801.8 L118.6 802.2 L129.8 803.5 L139 803.5 L250 803.2" fill="none" stroke="#1a9aff" stroke-width="1.6" stroke-linejoin="round"/><circle cx="31.3" cy="657" r="2.47" fill="none" stroke="#1a9aff" stroke-width="1.0"/><circle cx="42.26" cy="715.38" r="2.47" fill="none" stroke="#1a9aff" stroke-width="1.0"/><circle cx="53.21" cy="752.93" r="2.47" fill="none" stroke="#1a9aff" stroke-width="1.0"/><circle cx="64.16" cy="777.63" r="2.47" fill="none" stroke="#1a9aff" stroke-width="1.0"/><circle cx="75.11" cy="789.83" r="2.47" fill="none" stroke="#1a9aff" stroke-width="1.0"/><circle cx="86.06" cy="797.81" r="2.47" fill="none" stroke="#1a9aff" stroke-width="1.0"/><circle cx="97.01" cy="800.23" r="2.47" fill="none" stroke="#1a9aff" stroke-width="1.0"/><circle cx="107.96" cy="801.81" r="2.47" fill="none" stroke="#1a9aff" stroke-width="1.0"/><circle cx="118.91" cy="802.24" r="2.47" fill="none" stroke="#1a9aff" stroke-width="1.0"/><circle cx="129.86" cy="803.5" r="2.47" fill="none" stroke="#1a9aff" stroke-width="1.0"/><circle cx="140.81" cy="803.5" r="2.47" fill="none" stroke="#1a9aff" stroke-width="1.0"/><circle cx="151.76" cy="803.47" r="2.47" fill="none" stroke="#1a9aff" stroke-width="1.0"/><circle cx="162.71" cy="803.44" r="2.47" fill="none" stroke="#1a9aff" stroke-width="1.0"/><circle cx="173.66" cy="803.41" r="2.47" fill="none" stroke="#1a9aff" stroke-width="1.0"/><circle cx="184.61" cy="803.38" r="2.47" fill="none" stroke="#1a9aff" stroke-width="1.0"/><circle cx="195.56" cy="803.35" r="2.47" fill="none" stroke="#1a9aff" stroke-width="1.0"/><circle cx="206.51" cy="803.32" r="2.47" fill="none" stroke="#1a9aff" stroke-width="1.0"/><circle cx="217.46" cy="803.29" r="2.47" fill="none" stroke="#1a9aff" stroke-width="1.0"/><circle cx="228.41" cy="803.26" r="2.47" fill="none" stroke="#1a9aff" stroke-width="1.0"/><circle cx="239.36" cy="803.23" r="2.47" fill="none" stroke="#1a9aff" stroke-width="1.0"/><path d="M31.3 660 L32.5 690 L34.1 713 L37 728 L41.8 740.7 L52.8 751.9 L63.6 759.1 L74.8 763.1 L86 765.2 L96.8 767.2 L107.8 770.3 L118.6 770.9 L129.8 771.3 L250 771.7" fill="none" stroke="#ffb8c6" stroke-width="1.6" stroke-linejoin="round"/><path d="M31.3 656.62L33.9 660L31.3 663.38L28.7 660Z" fill="none" stroke="#ffb8c6" stroke-width="1.0"/><path d="M42.26 737.79L44.86 741.17L42.26 744.55L39.66 741.17Z" fill="none" stroke="#ffb8c6" stroke-width="1.0"/><path d="M53.21 748.79L55.81 752.17L53.21 755.55L50.61 752.17Z" fill="none" stroke="#ffb8c6" stroke-width="1.0"/><path d="M64.16 755.92L66.76 759.3L64.16 762.68L61.56 759.3Z" fill="none" stroke="#ffb8c6" stroke-width="1.0"/><path d="M75.11 759.78L77.71 763.16L75.11 766.54L72.51 763.16Z" fill="none" stroke="#ffb8c6" stroke-width="1.0"/><path d="M86.06 761.83L88.66 765.21L86.06 768.59L83.46 765.21Z" fill="none" stroke="#ffb8c6" stroke-width="1.0"/><path d="M97.01 763.88L99.61 767.26L97.01 770.64L94.41 767.26Z" fill="none" stroke="#ffb8c6" stroke-width="1.0"/><path d="M107.96 766.93L110.56 770.31L107.96 773.69L105.36 770.31Z" fill="none" stroke="#ffb8c6" stroke-width="1.0"/><path d="M118.91 767.53L121.51 770.91L118.91 774.29L116.31 770.91Z" fill="none" stroke="#ffb8c6" stroke-width="1.0"/><path d="M129.86 767.92L132.46 771.3L129.86 774.68L127.26 771.3Z" fill="none" stroke="#ffb8c6" stroke-width="1.0"/><path d="M140.81 767.96L143.41 771.34L140.81 774.72L138.21 771.34Z" fill="none" stroke="#ffb8c6" stroke-width="1.0"/><path d="M151.76 767.99L154.36 771.37L151.76 774.75L149.16 771.37Z" fill="none" stroke="#ffb8c6" stroke-width="1.0"/><path d="M162.71 768.03L165.31 771.41L162.71 774.79L160.11 771.41Z" fill="none" stroke="#ffb8c6" stroke-width="1.0"/><path d="M173.66 768.07L176.26 771.45L173.66 774.83L171.06 771.45Z" fill="none" stroke="#ffb8c6" stroke-width="1.0"/><path d="M184.61 768.1L187.21 771.48L184.61 774.86L182.01 771.48Z" fill="none" stroke="#ffb8c6" stroke-width="1.0"/><path d="M195.56 768.14L198.16 771.52L195.56 774.9L192.96 771.52Z" fill="none" stroke="#ffb8c6" stroke-width="1.0"/><path d="M206.51 768.18L209.11 771.56L206.51 774.94L203.91 771.56Z" fill="none" stroke="#ffb8c6" stroke-width="1.0"/><path d="M217.46 768.21L220.06 771.59L217.46 774.97L214.86 771.59Z" fill="none" stroke="#ffb8c6" stroke-width="1.0"/><path d="M228.41 768.25L231.01 771.63L228.41 775.01L225.81 771.63Z" fill="none" stroke="#ffb8c6" stroke-width="1.0"/><path d="M239.36 768.28L241.96 771.66L239.36 775.04L236.76 771.66Z" fill="none" stroke="#ffb8c6" stroke-width="1.0"/><path d="M31.3 660 L33 685 L35 703 L38.2 718 L41 724 L44.3 727.5 L54.5 736.7 L62.6 741.8 L78.9 743.8 L99.3 745.8 L119.6 747.3 L139 748.9 L156.3 750 L177.6 750.9 L198.8 751.5 L220.1 752.1 L237.1 754.7 L245.6 757.9 L250 760" fill="none" stroke="#7b8fa6" stroke-width="1.25" stroke-linejoin="round"/><path d="M31.3 655.1 L32.1 668.4 L35 685 L38.2 698.9 L41.8 708.1 L48.4 723.4 L52.8 732.6 L63.6 747.9 L74.8 758 L86 765.2 L96.8 768.2 L107.8 774.3 L118.6 777.4 L129.8 786.6 L140.3 791.9 L151.6 797.2 L162.7 799.4 L173.9 801.9 L185 802.6 L195.6 804.7 L206.7 812.1 L218 816.4 L228.6 820.2 L239.3 824.5 L250 826.6" fill="none" stroke="#ff1a1a" stroke-width="1.6" stroke-linejoin="round"/><rect x="28.96" y="652.76" width="4.68" height="4.68" fill="none" stroke="#ff1a1a" stroke-width="1.05"/><rect x="39.92" y="706.83" width="4.68" height="4.68" fill="none" stroke="#ff1a1a" stroke-width="1.05"/><rect x="50.87" y="730.84" width="4.68" height="4.68" fill="none" stroke="#ff1a1a" stroke-width="1.05"/><rect x="61.82" y="746.06" width="4.68" height="4.68" fill="none" stroke="#ff1a1a" stroke-width="1.05"/><rect x="72.77" y="755.86" width="4.68" height="4.68" fill="none" stroke="#ff1a1a" stroke-width="1.05"/><rect x="83.72" y="762.88" width="4.68" height="4.68" fill="none" stroke="#ff1a1a" stroke-width="1.05"/><rect x="94.67" y="765.98" width="4.68" height="4.68" fill="none" stroke="#ff1a1a" stroke-width="1.05"/><rect x="105.62" y="772.01" width="4.68" height="4.68" fill="none" stroke="#ff1a1a" stroke-width="1.05"/><rect x="116.57" y="775.31" width="4.68" height="4.68" fill="none" stroke="#ff1a1a" stroke-width="1.05"/><rect x="127.52" y="784.29" width="4.68" height="4.68" fill="none" stroke="#ff1a1a" stroke-width="1.05"/><rect x="138.47" y="789.8" width="4.68" height="4.68" fill="none" stroke="#ff1a1a" stroke-width="1.05"/><rect x="149.42" y="794.89" width="4.68" height="4.68" fill="none" stroke="#ff1a1a" stroke-width="1.05"/><rect x="160.37" y="797.06" width="4.68" height="4.68" fill="none" stroke="#ff1a1a" stroke-width="1.05"/><rect x="171.32" y="799.51" width="4.68" height="4.68" fill="none" stroke="#ff1a1a" stroke-width="1.05"/><rect x="182.27" y="800.24" width="4.68" height="4.68" fill="none" stroke="#ff1a1a" stroke-width="1.05"/><rect x="193.22" y="802.35" width="4.68" height="4.68" fill="none" stroke="#ff1a1a" stroke-width="1.05"/><rect x="204.17" y="809.63" width="4.68" height="4.68" fill="none" stroke="#ff1a1a" stroke-width="1.05"/><rect x="215.12" y="813.85" width="4.68" height="4.68" fill="none" stroke="#ff1a1a" stroke-width="1.05"/><rect x="226.07" y="817.79" width="4.68" height="4.68" fill="none" stroke="#ff1a1a" stroke-width="1.05"/><rect x="237.02" y="822.17" width="4.68" height="4.68" fill="none" stroke="#ff1a1a" stroke-width="1.05"/></g><text x="53.1" y="835.9" text-anchor="middle" font-size="6.5" fill="#262626">200</text><text x="75" y="835.9" text-anchor="middle" font-size="6.5" fill="#262626">400</text><text x="96.9" y="835.9" text-anchor="middle" font-size="6.5" fill="#262626">600</text><text x="118.8" y="835.9" text-anchor="middle" font-size="6.5" fill="#262626">800</text><text x="140.7" y="835.9" text-anchor="middle" font-size="6.5" fill="#262626">1000</text><text x="162.6" y="835.9" text-anchor="middle" font-size="6.5" fill="#262626">1200</text><text x="184.5" y="835.9" text-anchor="middle" font-size="6.5" fill="#262626">1400</text><text x="206.4" y="835.9" text-anchor="middle" font-size="6.5" fill="#262626">1600</text><text x="228.3" y="835.9" text-anchor="middle" font-size="6.5" fill="#262626">1800</text><text x="250.2" y="835.9" text-anchor="middle" font-size="6.5" fill="#262626">2000</text><text x="28" y="761.7" text-anchor="end" font-size="6.5" fill="#262626">1000</text><text x="28" y="721.87" text-anchor="end" font-size="6.5" fill="#262626">1500</text><text x="28" y="693.61" text-anchor="end" font-size="6.5" fill="#262626">2000</text><text x="28" y="671.69" text-anchor="end" font-size="6.5" fill="#262626">2500</text><text x="140.7" y="650.6" text-anchor="middle" font-size="7.2" fill="#262626">CEC2019-F7</text><text x="140.7" y="846.1" text-anchor="middle" font-size="7" fill="#262626">Iterations</text><text transform="translate(10.1 741.3) rotate(-90)" text-anchor="middle" font-size="7.2" fill="#262626">Average best score obtained so far</text><rect x="147" y="657.6" width="99" height="44.5" fill="#fff" stroke="#8c8c8c" stroke-width="0.7"/><path d="M148.8 662.61H170.3" stroke="#1414ff" stroke-width="1.5"/><path d="M159.8 659.41L163.15 662.61L159.8 665.81L156.45 662.61Z" fill="#1414ff" stroke="#1414ff" stroke-width="0.7" stroke-linejoin="round"/><text x="171.8" y="664.71" font-size="5.85" fill="#262626">PSO</text><path d="M148.8 671.23H170.3" stroke="#ff1aff" stroke-width="1.5"/><path d="M156.6 668.9L163 668.9L159.8 674.43Z" fill="#ff1aff" fill-opacity="0.75" stroke="#ff1aff" stroke-width="1.0"/><text x="171.8" y="673.33" font-size="5.85" fill="#262626">AO</text><path d="M148.8 679.85H170.3" stroke="#10f010" stroke-width="1.5"/><circle cx="159.8" cy="679.85" r="2.62" fill="#10f010"/><text x="171.8" y="681.95" font-size="5.85" fill="#262626">BWO</text><path d="M148.8 688.47H170.3" stroke="#0f8080" stroke-width="1.5"/><path d="M157.47 686.14L162.13 690.8M157.47 690.8L162.13 686.14M156.89 688.47L162.71 688.47" stroke="#0f8080" stroke-width="1.0"/><text x="171.8" y="690.57" font-size="5.85" fill="#262626">GJO</text><path d="M148.8 697.09H170.3" stroke="#1ae6f0" stroke-width="1.5"/><path d="M156.89 697.09L162.71 697.09M159.8 694.18L159.8 700" stroke="#1ae6f0" stroke-width="1.0"/><text x="171.8" y="699.19" font-size="5.85" fill="#262626">COA</text><path d="M189.5 662.61H211" stroke="#ff8020" stroke-width="1.5"/><path d="M197.3 664.94L203.7 664.94L200.5 659.41Z" fill="none" stroke="#ff8020" stroke-width="1.0"/><text x="212.5" y="664.71" font-size="5.85" fill="#262626">CSCAHHO</text><path d="M189.5 671.23H211" stroke="#1a9aff" stroke-width="1.5"/><circle cx="200.5" cy="671.23" r="2.77" fill="none" stroke="#1a9aff" stroke-width="1.0"/><text x="212.5" y="673.33" font-size="5.85" fill="#262626">AOSMA</text><path d="M189.5 679.85H211" stroke="#ffb8c6" stroke-width="1.5"/><path d="M200.5 676.06L203.41 679.85L200.5 683.64L197.59 679.85Z" fill="none" stroke="#ffb8c6" stroke-width="1.0"/><text x="212.5" y="681.95" font-size="5.85" fill="#262626">ATOA</text><path d="M189.5 688.47H211" stroke="#7b8fa6" stroke-width="1.5"/><text x="212.5" y="690.57" font-size="5.85" fill="#262626">AGWO</text><path d="M189.5 697.09H211" stroke="#ff1a1a" stroke-width="1.5"/><rect x="197.88" y="694.47" width="5.24" height="5.24" fill="none" stroke="#ff1a1a" stroke-width="1.05"/><text x="212.5" y="699.19" font-size="5.85" fill="#262626">ECOA</text></g><g><clipPath id="clip13"><rect x="315" y="649.4" width="223.5" height="181.2"/></clipPath><path d="M319 653.4H538V826.6H319Z" fill="none" stroke="#808080" stroke-width="1.0"/><path d="M340.9 826.6v-2M340.9 653.4v2M362.8 826.6v-2M362.8 653.4v2M384.7 826.6v-2M384.7 653.4v2M406.6 826.6v-2M406.6 653.4v2M428.5 826.6v-2M428.5 653.4v2M450.4 826.6v-2M450.4 653.4v2M472.3 826.6v-2M472.3 653.4v2M494.2 826.6v-2M494.2 653.4v2M516.1 826.6v-2M516.1 653.4v2M538 826.6v-2M538 653.4v2M319 820.1h2M538 820.1h-2M319 793.46h2M538 793.46h-2M319 767.44h2M538 767.44h-2M319 742.02h2M538 742.02h-2M319 717.17h2M538 717.17h-2M319 692.87h2M538 692.87h-2M319 669.09h2M538 669.09h-2" stroke="#808080" stroke-width="0.7"/><g clip-path="url(#clip13)"><path d="M319.3 708.2 L321 745 L324 762 L329.6 772.4 L340.5 782.9 L351.6 787.7 L362.7 791.2 L373.5 793.9 L384.4 796.9 L395.5 799 L406.4 801 L417.4 802.7 L428.1 803.8 L439.2 804.8 L450.1 805.9 L461.6 806.9 L472.7 807.3 L483.5 808.6 L494.4 809 L505.5 810 L516.4 811.1 L527.4 811.5 L538 812.1" fill="none" stroke="#1414ff" stroke-width="1.6" stroke-linejoin="round"/><path d="M319.3 705.34L322.29 708.2L319.3 711.06L316.31 708.2Z" fill="#1414ff" stroke="#1414ff" stroke-width="0.7" stroke-linejoin="round"/><path d="M330.06 769.98L333.05 772.84L330.06 775.7L327.07 772.84Z" fill="#1414ff" stroke="#1414ff" stroke-width="0.7" stroke-linejoin="round"/><path d="M341.01 780.26L344 783.12L341.01 785.98L338.02 783.12Z" fill="#1414ff" stroke="#1414ff" stroke-width="0.7" stroke-linejoin="round"/><path d="M351.96 784.95L354.95 787.81L351.96 790.67L348.97 787.81Z" fill="#1414ff" stroke="#1414ff" stroke-width="0.7" stroke-linejoin="round"/><path d="M362.91 788.39L365.9 791.25L362.91 794.11L359.92 791.25Z" fill="#1414ff" stroke="#1414ff" stroke-width="0.7" stroke-linejoin="round"/><path d="M373.86 791.14L376.85 794L373.86 796.86L370.87 794Z" fill="#1414ff" stroke="#1414ff" stroke-width="0.7" stroke-linejoin="round"/><path d="M384.81 794.12L387.8 796.98L384.81 799.84L381.82 796.98Z" fill="#1414ff" stroke="#1414ff" stroke-width="0.7" stroke-linejoin="round"/><path d="M395.76 796.19L398.75 799.05L395.76 801.91L392.77 799.05Z" fill="#1414ff" stroke="#1414ff" stroke-width="0.7" stroke-linejoin="round"/><path d="M406.71 798.19L409.7 801.05L406.71 803.91L403.72 801.05Z" fill="#1414ff" stroke="#1414ff" stroke-width="0.7" stroke-linejoin="round"/><path d="M417.66 799.87L420.65 802.73L417.66 805.59L414.67 802.73Z" fill="#1414ff" stroke="#1414ff" stroke-width="0.7" stroke-linejoin="round"/><path d="M428.61 800.99L431.6 803.85L428.61 806.71L425.62 803.85Z" fill="#1414ff" stroke="#1414ff" stroke-width="0.7" stroke-linejoin="round"/><path d="M439.56 801.98L442.55 804.84L439.56 807.7L436.57 804.84Z" fill="#1414ff" stroke="#1414ff" stroke-width="0.7" stroke-linejoin="round"/><path d="M450.51 803.08L453.5 805.94L450.51 808.8L447.52 805.94Z" fill="#1414ff" stroke="#1414ff" stroke-width="0.7" stroke-linejoin="round"/><path d="M461.46 804.03L464.45 806.89L461.46 809.75L458.47 806.89Z" fill="#1414ff" stroke="#1414ff" stroke-width="0.7" stroke-linejoin="round"/><path d="M472.41 804.43L475.4 807.29L472.41 810.15L469.42 807.29Z" fill="#1414ff" stroke="#1414ff" stroke-width="0.7" stroke-linejoin="round"/><path d="M483.36 805.72L486.35 808.58L483.36 811.44L480.37 808.58Z" fill="#1414ff" stroke="#1414ff" stroke-width="0.7" stroke-linejoin="round"/><path d="M494.31 806.14L497.3 809L494.31 811.86L491.32 809Z" fill="#1414ff" stroke="#1414ff" stroke-width="0.7" stroke-linejoin="round"/><path d="M505.26 807.12L508.25 809.98L505.26 812.84L502.27 809.98Z" fill="#1414ff" stroke="#1414ff" stroke-width="0.7" stroke-linejoin="round"/><path d="M516.21 808.22L519.2 811.08L516.21 813.94L513.22 811.08Z" fill="#1414ff" stroke="#1414ff" stroke-width="0.7" stroke-linejoin="round"/><path d="M527.16 808.63L530.15 811.49L527.16 814.35L524.17 811.49Z" fill="#1414ff" stroke="#1414ff" stroke-width="0.7" stroke-linejoin="round"/><path d="M319.3 655.3 L320.5 720 L323 755 L329.6 766.1 L340.5 771.8 L351.6 774.5 L362.7 776 L373.5 777.2 L384.4 778 L395.5 778.7 L406.4 779.3 L417.4 779.7 L428.1 780.3 L461.6 782.3 L463.5 782.9 L464.7 792.3 L467.9 806.9 L472.7 811.1 L483.5 812.8 L527.4 814.2 L538 814.2" fill="none" stroke="#ff1aff" stroke-width="1.6" stroke-linejoin="round"/><path d="M316.44 653.22L322.16 653.22L319.3 658.16Z" fill="#ff1aff" fill-opacity="0.75" stroke="#ff1aff" stroke-width="1.0"/><path d="M327.2 764.26L332.92 764.26L330.06 769.2Z" fill="#ff1aff" fill-opacity="0.75" stroke="#ff1aff" stroke-width="1.0"/><path d="M338.15 769.84L343.87 769.84L341.01 774.78Z" fill="#ff1aff" fill-opacity="0.75" stroke="#ff1aff" stroke-width="1.0"/><path d="M349.1 772.47L354.82 772.47L351.96 777.41Z" fill="#ff1aff" fill-opacity="0.75" stroke="#ff1aff" stroke-width="1.0"/><path d="M360.05 773.94L365.77 773.94L362.91 778.88Z" fill="#ff1aff" fill-opacity="0.75" stroke="#ff1aff" stroke-width="1.0"/><path d="M371 775.15L376.72 775.15L373.86 780.09Z" fill="#ff1aff" fill-opacity="0.75" stroke="#ff1aff" stroke-width="1.0"/><path d="M381.95 775.95L387.67 775.95L384.81 780.89Z" fill="#ff1aff" fill-opacity="0.75" stroke="#ff1aff" stroke-width="1.0"/><path d="M392.9 776.63L398.62 776.63L395.76 781.57Z" fill="#ff1aff" fill-opacity="0.75" stroke="#ff1aff" stroke-width="1.0"/><path d="M403.85 777.23L409.57 777.23L406.71 782.17Z" fill="#ff1aff" fill-opacity="0.75" stroke="#ff1aff" stroke-width="1.0"/><path d="M414.8 777.63L420.52 777.63L417.66 782.57Z" fill="#ff1aff" fill-opacity="0.75" stroke="#ff1aff" stroke-width="1.0"/><path d="M425.75 778.25L431.47 778.25L428.61 783.19Z" fill="#ff1aff" fill-opacity="0.75" stroke="#ff1aff" stroke-width="1.0"/><path d="M436.7 778.9L442.42 778.9L439.56 783.84Z" fill="#ff1aff" fill-opacity="0.75" stroke="#ff1aff" stroke-width="1.0"/><path d="M447.65 779.56L453.37 779.56L450.51 784.5Z" fill="#ff1aff" fill-opacity="0.75" stroke="#ff1aff" stroke-width="1.0"/><path d="M458.6 780.21L464.32 780.21L461.46 785.15Z" fill="#ff1aff" fill-opacity="0.75" stroke="#ff1aff" stroke-width="1.0"/><path d="M469.55 808.77L475.27 808.77L472.41 813.71Z" fill="#ff1aff" fill-opacity="0.75" stroke="#ff1aff" stroke-width="1.0"/><path d="M480.5 810.7L486.22 810.7L483.36 815.64Z" fill="#ff1aff" fill-opacity="0.75" stroke="#ff1aff" stroke-width="1.0"/><path d="M491.45 811.06L497.17 811.06L494.31 816Z" fill="#ff1aff" fill-opacity="0.75" stroke="#ff1aff" stroke-width="1.0"/><path d="M502.4 811.41L508.12 811.41L505.26 816.35Z" fill="#ff1aff" fill-opacity="0.75" stroke="#ff1aff" stroke-width="1.0"/><path d="M513.35 811.76L519.07 811.76L516.21 816.7Z" fill="#ff1aff" fill-opacity="0.75" stroke="#ff1aff" stroke-width="1.0"/><path d="M524.3 812.11L530.02 812.11L527.16 817.05Z" fill="#ff1aff" fill-opacity="0.75" stroke="#ff1aff" stroke-width="1.0"/><path d="M319.3 704.4 L321 740 L324 758 L329.6 764.7 L340.5 770.9 L351.6 773.9 L362.7 776 L373.5 777.2 L384.4 778.7 L395.5 779.3 L406.4 779.7 L417.4 780.5 L428.1 780.8 L439.2 781.4 L538 782.9" fill="none" stroke="#10f010" stroke-width="1.6" stroke-linejoin="round"/><circle cx="319.3" cy="704.4" r="2.34" fill="#10f010"/><circle cx="330.06" cy="764.96" r="2.34" fill="#10f010"/><circle cx="341.01" cy="771.04" r="2.34" fill="#10f010"/><circle cx="351.96" cy="773.97" r="2.34" fill="#10f010"/><circle cx="362.91" cy="776.02" r="2.34" fill="#10f010"/><circle cx="373.86" cy="777.25" r="2.34" fill="#10f010"/><circle cx="384.81" cy="778.72" r="2.34" fill="#10f010"/><circle cx="395.76" cy="779.31" r="2.34" fill="#10f010"/><circle cx="406.71" cy="779.72" r="2.34" fill="#10f010"/><circle cx="417.66" cy="780.51" r="2.34" fill="#10f010"/><circle cx="428.61" cy="780.83" r="2.34" fill="#10f010"/><circle cx="439.56" cy="781.41" r="2.34" fill="#10f010"/><circle cx="450.51" cy="781.57" r="2.34" fill="#10f010"/><circle cx="461.46" cy="781.74" r="2.34" fill="#10f010"/><circle cx="472.41" cy="781.9" r="2.34" fill="#10f010"/><circle cx="483.36" cy="782.07" r="2.34" fill="#10f010"/><circle cx="494.31" cy="782.24" r="2.34" fill="#10f010"/><circle cx="505.26" cy="782.4" r="2.34" fill="#10f010"/><circle cx="516.21" cy="782.57" r="2.34" fill="#10f010"/><circle cx="527.16" cy="782.74" r="2.34" fill="#10f010"/><path d="M319.3 706 L321 745 L324 765 L329.6 776.6 L340.5 785 L351.6 790.2 L362.7 794.4 L373.5 797.5 L384.4 799.6 L395.5 801 L406.4 802.3 L417.4 802.7 L428 803.8 L461.6 806 L494.4 808.5 L538 811.6" fill="none" stroke="#0f8080" stroke-width="1.6" stroke-linejoin="round"/><path d="M317.22 703.92L321.38 708.08M317.22 708.08L321.38 703.92M316.7 706L321.9 706" stroke="#0f8080" stroke-width="1.0"/><path d="M327.98 774.87L332.14 779.03M327.98 779.03L332.14 774.87M327.46 776.95L332.66 776.95" stroke="#0f8080" stroke-width="1.0"/><path d="M338.93 783.16L343.09 787.32M338.93 787.32L343.09 783.16M338.41 785.24L343.61 785.24" stroke="#0f8080" stroke-width="1.0"/><path d="M349.88 788.26L354.04 792.42M349.88 792.42L354.04 788.26M349.36 790.34L354.56 790.34" stroke="#0f8080" stroke-width="1.0"/><path d="M360.83 792.38L364.99 796.54M360.83 796.54L364.99 792.38M360.31 794.46L365.51 794.46" stroke="#0f8080" stroke-width="1.0"/><path d="M371.78 795.49L375.94 799.65M371.78 799.65L375.94 795.49M371.26 797.57L376.46 797.57" stroke="#0f8080" stroke-width="1.0"/><path d="M382.73 797.57L386.89 801.73M382.73 801.73L386.89 797.57M382.21 799.65L387.41 799.65" stroke="#0f8080" stroke-width="1.0"/><path d="M393.68 798.95L397.84 803.11M393.68 803.11L397.84 798.95M393.16 801.03L398.36 801.03" stroke="#0f8080" stroke-width="1.0"/><path d="M404.63 800.23L408.79 804.39M404.63 804.39L408.79 800.23M404.11 802.31L409.31 802.31" stroke="#0f8080" stroke-width="1.0"/><path d="M415.58 800.65L419.74 804.81M415.58 804.81L419.74 800.65M415.06 802.73L420.26 802.73" stroke="#0f8080" stroke-width="1.0"/><path d="M426.53 801.76L430.69 805.92M426.53 805.92L430.69 801.76M426.01 803.84L431.21 803.84" stroke="#0f8080" stroke-width="1.0"/><path d="M437.48 802.48L441.64 806.64M437.48 806.64L441.64 802.48M436.96 804.56L442.16 804.56" stroke="#0f8080" stroke-width="1.0"/><path d="M448.43 803.19L452.59 807.35M448.43 807.35L452.59 803.19M447.91 805.27L453.11 805.27" stroke="#0f8080" stroke-width="1.0"/><path d="M459.38 803.91L463.54 808.07M459.38 808.07L463.54 803.91M458.86 805.99L464.06 805.99" stroke="#0f8080" stroke-width="1.0"/><path d="M470.33 804.74L474.49 808.9M470.33 808.9L474.49 804.74M469.81 806.82L475.01 806.82" stroke="#0f8080" stroke-width="1.0"/><path d="M481.28 805.58L485.44 809.74M481.28 809.74L485.44 805.58M480.76 807.66L485.96 807.66" stroke="#0f8080" stroke-width="1.0"/><path d="M492.23 806.41L496.39 810.57M492.23 810.57L496.39 806.41M491.71 808.49L496.91 808.49" stroke="#0f8080" stroke-width="1.0"/><path d="M503.18 807.19L507.34 811.35M503.18 811.35L507.34 807.19M502.66 809.27L507.86 809.27" stroke="#0f8080" stroke-width="1.0"/><path d="M514.13 807.97L518.29 812.13M514.13 812.13L518.29 807.97M513.61 810.05L518.81 810.05" stroke="#0f8080" stroke-width="1.0"/><path d="M525.08 808.75L529.24 812.91M525.08 812.91L529.24 808.75M524.56 810.83L529.76 810.83" stroke="#0f8080" stroke-width="1.0"/><path d="M319.3 705 L321 740 L323 765 L325.5 781.8 L329.6 802.7 L335.9 806.5 L351.6 807.3 L377.7 808.6 L427.9 809.4 L538 811" fill="none" stroke="#1ae6f0" stroke-width="1.6" stroke-linejoin="round"/><path d="M316.7 705L321.9 705M319.3 702.4L319.3 707.6" stroke="#1ae6f0" stroke-width="1.0"/><path d="M327.46 802.98L332.66 802.98M330.06 800.38L330.06 805.58" stroke="#1ae6f0" stroke-width="1.0"/><path d="M338.41 806.76L343.61 806.76M341.01 804.16L341.01 809.36" stroke="#1ae6f0" stroke-width="1.0"/><path d="M349.36 807.32L354.56 807.32M351.96 804.72L351.96 809.92" stroke="#1ae6f0" stroke-width="1.0"/><path d="M360.31 807.86L365.51 807.86M362.91 805.26L362.91 810.46" stroke="#1ae6f0" stroke-width="1.0"/><path d="M371.26 808.41L376.46 808.41M373.86 805.81L373.86 811.01" stroke="#1ae6f0" stroke-width="1.0"/><path d="M382.21 808.71L387.41 808.71M384.81 806.11L384.81 811.31" stroke="#1ae6f0" stroke-width="1.0"/><path d="M393.16 808.89L398.36 808.89M395.76 806.29L395.76 811.49" stroke="#1ae6f0" stroke-width="1.0"/><path d="M404.11 809.06L409.31 809.06M406.71 806.46L406.71 811.66" stroke="#1ae6f0" stroke-width="1.0"/><path d="M415.06 809.24L420.26 809.24M417.66 806.64L417.66 811.84" stroke="#1ae6f0" stroke-width="1.0"/><path d="M426.01 809.41L431.21 809.41M428.61 806.81L428.61 812.01" stroke="#1ae6f0" stroke-width="1.0"/><path d="M436.96 809.57L442.16 809.57M439.56 806.97L439.56 812.17" stroke="#1ae6f0" stroke-width="1.0"/><path d="M447.91 809.73L453.11 809.73M450.51 807.13L450.51 812.33" stroke="#1ae6f0" stroke-width="1.0"/><path d="M458.86 809.89L464.06 809.89M461.46 807.29L461.46 812.49" stroke="#1ae6f0" stroke-width="1.0"/><path d="M469.81 810.05L475.01 810.05M472.41 807.45L472.41 812.65" stroke="#1ae6f0" stroke-width="1.0"/><path d="M480.76 810.21L485.96 810.21M483.36 807.61L483.36 812.81" stroke="#1ae6f0" stroke-width="1.0"/><path d="M491.71 810.37L496.91 810.37M494.31 807.77L494.31 812.97" stroke="#1ae6f0" stroke-width="1.0"/><path d="M502.66 810.52L507.86 810.52M505.26 807.92L505.26 813.12" stroke="#1ae6f0" stroke-width="1.0"/><path d="M513.61 810.68L518.81 810.68M516.21 808.08L516.21 813.28" stroke="#1ae6f0" stroke-width="1.0"/><path d="M524.56 810.84L529.76 810.84M527.16 808.24L527.16 813.44" stroke="#1ae6f0" stroke-width="1.0"/><path d="M319.3 700 L321 740 L324 758 L329.6 768.2 L340.5 773.5 L351.6 777.6 L362.7 778.7 L373.5 780.8 L384.4 782.9 L395.5 785 L406.4 786.4 L417.4 788.5 L428.1 790.2 L439.2 792.7 L450.1 794.8 L461.6 796 L472.7 796.9 L483.5 797.5 L494.4 798.1 L505.5 799 L516.4 799.6 L527.4 801 L538 802.3" fill="none" stroke="#ff8020" stroke-width="1.6" stroke-linejoin="round"/><path d="M316.44 702.08L322.16 702.08L319.3 697.14Z" fill="none" stroke="#ff8020" stroke-width="1.0"/><path d="M327.2 770.5L332.92 770.5L330.06 765.56Z" fill="none" stroke="#ff8020" stroke-width="1.0"/><path d="M338.15 775.77L343.87 775.77L341.01 770.83Z" fill="none" stroke="#ff8020" stroke-width="1.0"/><path d="M349.1 779.72L354.82 779.72L351.96 774.78Z" fill="none" stroke="#ff8020" stroke-width="1.0"/><path d="M360.05 780.82L365.77 780.82L362.91 775.88Z" fill="none" stroke="#ff8020" stroke-width="1.0"/><path d="M371 782.95L376.72 782.95L373.86 778.01Z" fill="none" stroke="#ff8020" stroke-width="1.0"/><path d="M381.95 785.06L387.67 785.06L384.81 780.12Z" fill="none" stroke="#ff8020" stroke-width="1.0"/><path d="M392.9 787.11L398.62 787.11L395.76 782.17Z" fill="none" stroke="#ff8020" stroke-width="1.0"/><path d="M403.85 788.54L409.57 788.54L406.71 783.6Z" fill="none" stroke="#ff8020" stroke-width="1.0"/><path d="M414.8 790.62L420.52 790.62L417.66 785.68Z" fill="none" stroke="#ff8020" stroke-width="1.0"/><path d="M425.75 792.39L431.47 792.39L428.61 787.45Z" fill="none" stroke="#ff8020" stroke-width="1.0"/><path d="M436.7 794.85L442.42 794.85L439.56 789.91Z" fill="none" stroke="#ff8020" stroke-width="1.0"/><path d="M447.65 796.92L453.37 796.92L450.51 791.98Z" fill="none" stroke="#ff8020" stroke-width="1.0"/><path d="M458.6 798.07L464.32 798.07L461.46 793.13Z" fill="none" stroke="#ff8020" stroke-width="1.0"/><path d="M469.55 798.96L475.27 798.96L472.41 794.02Z" fill="none" stroke="#ff8020" stroke-width="1.0"/><path d="M480.5 799.57L486.22 799.57L483.36 794.63Z" fill="none" stroke="#ff8020" stroke-width="1.0"/><path d="M491.45 800.18L497.17 800.18L494.31 795.24Z" fill="none" stroke="#ff8020" stroke-width="1.0"/><path d="M502.4 801.06L508.12 801.06L505.26 796.12Z" fill="none" stroke="#ff8020" stroke-width="1.0"/><path d="M513.35 801.67L519.07 801.67L516.21 796.73Z" fill="none" stroke="#ff8020" stroke-width="1.0"/><path d="M524.3 803.05L530.02 803.05L527.16 798.11Z" fill="none" stroke="#ff8020" stroke-width="1.0"/><path d="M319.3 652.6 L321 700 L323 740 L325 765 L329.6 786.4 L335.9 802.7 L340.5 807.9 L351.6 810 L362.7 811.1 L373.5 811.5 L384.4 812.1 L395.5 812.8 L538 813.2" fill="none" stroke="#1a9aff" stroke-width="1.6" stroke-linejoin="round"/><circle cx="319.3" cy="652.6" r="2.47" fill="none" stroke="#1a9aff" stroke-width="1.0"/><circle cx="330.06" cy="787.59" r="2.47" fill="none" stroke="#1a9aff" stroke-width="1.0"/><circle cx="341.01" cy="808" r="2.47" fill="none" stroke="#1a9aff" stroke-width="1.0"/><circle cx="351.96" cy="810.04" r="2.47" fill="none" stroke="#1a9aff" stroke-width="1.0"/><circle cx="362.91" cy="811.11" r="2.47" fill="none" stroke="#1a9aff" stroke-width="1.0"/><circle cx="373.86" cy="811.52" r="2.47" fill="none" stroke="#1a9aff" stroke-width="1.0"/><circle cx="384.81" cy="812.13" r="2.47" fill="none" stroke="#1a9aff" stroke-width="1.0"/><circle cx="395.76" cy="812.8" r="2.47" fill="none" stroke="#1a9aff" stroke-width="1.0"/><circle cx="406.71" cy="812.83" r="2.47" fill="none" stroke="#1a9aff" stroke-width="1.0"/><circle cx="417.66" cy="812.86" r="2.47" fill="none" stroke="#1a9aff" stroke-width="1.0"/><circle cx="428.61" cy="812.89" r="2.47" fill="none" stroke="#1a9aff" stroke-width="1.0"/><circle cx="439.56" cy="812.92" r="2.47" fill="none" stroke="#1a9aff" stroke-width="1.0"/><circle cx="450.51" cy="812.95" r="2.47" fill="none" stroke="#1a9aff" stroke-width="1.0"/><circle cx="461.46" cy="812.99" r="2.47" fill="none" stroke="#1a9aff" stroke-width="1.0"/><circle cx="472.41" cy="813.02" r="2.47" fill="none" stroke="#1a9aff" stroke-width="1.0"/><circle cx="483.36" cy="813.05" r="2.47" fill="none" stroke="#1a9aff" stroke-width="1.0"/><circle cx="494.31" cy="813.08" r="2.47" fill="none" stroke="#1a9aff" stroke-width="1.0"/><circle cx="505.26" cy="813.11" r="2.47" fill="none" stroke="#1a9aff" stroke-width="1.0"/><circle cx="516.21" cy="813.14" r="2.47" fill="none" stroke="#1a9aff" stroke-width="1.0"/><circle cx="527.16" cy="813.17" r="2.47" fill="none" stroke="#1a9aff" stroke-width="1.0"/><path d="M319.3 706 L321 745 L324 765 L329.6 777.6 L340.5 788.1 L351.6 792.3 L362.7 794.4 L373.5 795.4 L384.4 796.5 L395.5 796.9 L538 797.5" fill="none" stroke="#ffb8c6" stroke-width="1.6" stroke-linejoin="round"/><path d="M319.3 702.62L321.9 706L319.3 709.38L316.7 706Z" fill="none" stroke="#ffb8c6" stroke-width="1.0"/><path d="M330.06 774.66L332.66 778.04L330.06 781.42L327.46 778.04Z" fill="none" stroke="#ffb8c6" stroke-width="1.0"/><path d="M341.01 784.91L343.61 788.29L341.01 791.67L338.41 788.29Z" fill="none" stroke="#ffb8c6" stroke-width="1.0"/><path d="M351.96 788.99L354.56 792.37L351.96 795.75L349.36 792.37Z" fill="none" stroke="#ffb8c6" stroke-width="1.0"/><path d="M362.91 791.04L365.51 794.42L362.91 797.8L360.31 794.42Z" fill="none" stroke="#ffb8c6" stroke-width="1.0"/><path d="M373.86 792.06L376.46 795.44L373.86 798.82L371.26 795.44Z" fill="none" stroke="#ffb8c6" stroke-width="1.0"/><path d="M384.81 793.13L387.41 796.51L384.81 799.89L382.21 796.51Z" fill="none" stroke="#ffb8c6" stroke-width="1.0"/><path d="M395.76 793.52L398.36 796.9L395.76 800.28L393.16 796.9Z" fill="none" stroke="#ffb8c6" stroke-width="1.0"/><path d="M406.71 793.57L409.31 796.95L406.71 800.33L404.11 796.95Z" fill="none" stroke="#ffb8c6" stroke-width="1.0"/><path d="M417.66 793.61L420.26 796.99L417.66 800.37L415.06 796.99Z" fill="none" stroke="#ffb8c6" stroke-width="1.0"/><path d="M428.61 793.66L431.21 797.04L428.61 800.42L426.01 797.04Z" fill="none" stroke="#ffb8c6" stroke-width="1.0"/><path d="M439.56 793.71L442.16 797.09L439.56 800.47L436.96 797.09Z" fill="none" stroke="#ffb8c6" stroke-width="1.0"/><path d="M450.51 793.75L453.11 797.13L450.51 800.51L447.91 797.13Z" fill="none" stroke="#ffb8c6" stroke-width="1.0"/><path d="M461.46 793.8L464.06 797.18L461.46 800.56L458.86 797.18Z" fill="none" stroke="#ffb8c6" stroke-width="1.0"/><path d="M472.41 793.84L475.01 797.22L472.41 800.6L469.81 797.22Z" fill="none" stroke="#ffb8c6" stroke-width="1.0"/><path d="M483.36 793.89L485.96 797.27L483.36 800.65L480.76 797.27Z" fill="none" stroke="#ffb8c6" stroke-width="1.0"/><path d="M494.31 793.94L496.91 797.32L494.31 800.7L491.71 797.32Z" fill="none" stroke="#ffb8c6" stroke-width="1.0"/><path d="M505.26 793.98L507.86 797.36L505.26 800.74L502.66 797.36Z" fill="none" stroke="#ffb8c6" stroke-width="1.0"/><path d="M516.21 794.03L518.81 797.41L516.21 800.79L513.61 797.41Z" fill="none" stroke="#ffb8c6" stroke-width="1.0"/><path d="M527.16 794.07L529.76 797.45L527.16 800.83L524.56 797.45Z" fill="none" stroke="#ffb8c6" stroke-width="1.0"/><path d="M319.3 706 L320.5 740 L323.4 771.4 L327 790 L331.7 800.6 L340.1 803.8 L356.8 804.8 L377.7 805.9 L398.6 806.5 L427.9 806.9 L538 807.5" fill="none" stroke="#7b8fa6" stroke-width="1.25" stroke-linejoin="round"/><path d="M319.3 696.5 L320.3 730 L321.3 760.9 L325.5 786 L329.6 800.2 L334 806 L340.5 810.7 L351.6 813.6 L362.7 815.3 L373.5 816.9 L384.4 818.4 L395.5 819.4 L406.4 820.5 L417.4 821.1 L428.1 822 L439.2 822.6 L450.1 823.6 L461.6 824 L472.7 824.7 L538 825.7" fill="none" stroke="#ff1a1a" stroke-width="1.6" stroke-linejoin="round"/><rect x="316.96" y="694.16" width="4.68" height="4.68" fill="none" stroke="#ff1a1a" stroke-width="1.05"/><rect x="327.72" y="798.47" width="4.68" height="4.68" fill="none" stroke="#ff1a1a" stroke-width="1.05"/><rect x="338.67" y="808.49" width="4.68" height="4.68" fill="none" stroke="#ff1a1a" stroke-width="1.05"/><rect x="349.62" y="811.32" width="4.68" height="4.68" fill="none" stroke="#ff1a1a" stroke-width="1.05"/><rect x="360.57" y="812.99" width="4.68" height="4.68" fill="none" stroke="#ff1a1a" stroke-width="1.05"/><rect x="371.52" y="814.61" width="4.68" height="4.68" fill="none" stroke="#ff1a1a" stroke-width="1.05"/><rect x="382.47" y="816.1" width="4.68" height="4.68" fill="none" stroke="#ff1a1a" stroke-width="1.05"/><rect x="393.42" y="817.09" width="4.68" height="4.68" fill="none" stroke="#ff1a1a" stroke-width="1.05"/><rect x="404.37" y="818.18" width="4.68" height="4.68" fill="none" stroke="#ff1a1a" stroke-width="1.05"/><rect x="415.32" y="818.78" width="4.68" height="4.68" fill="none" stroke="#ff1a1a" stroke-width="1.05"/><rect x="426.27" y="819.69" width="4.68" height="4.68" fill="none" stroke="#ff1a1a" stroke-width="1.05"/><rect x="437.22" y="820.29" width="4.68" height="4.68" fill="none" stroke="#ff1a1a" stroke-width="1.05"/><rect x="448.17" y="821.27" width="4.68" height="4.68" fill="none" stroke="#ff1a1a" stroke-width="1.05"/><rect x="459.12" y="821.66" width="4.68" height="4.68" fill="none" stroke="#ff1a1a" stroke-width="1.05"/><rect x="470.07" y="822.34" width="4.68" height="4.68" fill="none" stroke="#ff1a1a" stroke-width="1.05"/><rect x="481.02" y="822.52" width="4.68" height="4.68" fill="none" stroke="#ff1a1a" stroke-width="1.05"/><rect x="491.97" y="822.69" width="4.68" height="4.68" fill="none" stroke="#ff1a1a" stroke-width="1.05"/><rect x="502.92" y="822.86" width="4.68" height="4.68" fill="none" stroke="#ff1a1a" stroke-width="1.05"/><rect x="513.87" y="823.03" width="4.68" height="4.68" fill="none" stroke="#ff1a1a" stroke-width="1.05"/><rect x="524.82" y="823.19" width="4.68" height="4.68" fill="none" stroke="#ff1a1a" stroke-width="1.05"/></g><text x="340.9" y="835.9" text-anchor="middle" font-size="6.5" fill="#262626">200</text><text x="362.8" y="835.9" text-anchor="middle" font-size="6.5" fill="#262626">400</text><text x="384.7" y="835.9" text-anchor="middle" font-size="6.5" fill="#262626">600</text><text x="406.6" y="835.9" text-anchor="middle" font-size="6.5" fill="#262626">800</text><text x="428.5" y="835.9" text-anchor="middle" font-size="6.5" fill="#262626">1000</text><text x="450.4" y="835.9" text-anchor="middle" font-size="6.5" fill="#262626">1200</text><text x="472.3" y="835.9" text-anchor="middle" font-size="6.5" fill="#262626">1400</text><text x="494.2" y="835.9" text-anchor="middle" font-size="6.5" fill="#262626">1600</text><text x="516.1" y="835.9" text-anchor="middle" font-size="6.5" fill="#262626">1800</text><text x="538" y="835.9" text-anchor="middle" font-size="6.5" fill="#262626">2000</text><text x="315.8" y="821.9" text-anchor="end" font-size="6.5" fill="#262626">820</text><text x="315.8" y="795.26" text-anchor="end" font-size="6.5" fill="#262626">840</text><text x="315.8" y="769.24" text-anchor="end" font-size="6.5" fill="#262626">860</text><text x="315.8" y="743.82" text-anchor="end" font-size="6.5" fill="#262626">880</text><text x="315.8" y="718.97" text-anchor="end" font-size="6.5" fill="#262626">900</text><text x="315.8" y="694.67" text-anchor="end" font-size="6.5" fill="#262626">920</text><text x="315.8" y="670.89" text-anchor="end" font-size="6.5" fill="#262626">940</text><text x="428.5" y="650.6" text-anchor="middle" font-size="7.2" fill="#262626">CEC2019-F8</text><text x="428.5" y="846.1" text-anchor="middle" font-size="7" fill="#262626">Iterations</text><text transform="translate(301.1 741.3) rotate(-90)" text-anchor="middle" font-size="7.2" fill="#262626">Average best score obtained so far</text><rect x="435.9" y="658.5" width="97.4" height="43.9" fill="#fff" stroke="#8c8c8c" stroke-width="0.7"/><path d="M436.9 663.45H458.4" stroke="#1414ff" stroke-width="1.5"/><path d="M447.9 660.25L451.25 663.45L447.9 666.65L444.55 663.45Z" fill="#1414ff" stroke="#1414ff" stroke-width="0.7" stroke-linejoin="round"/><text x="459.9" y="665.55" font-size="5.85" fill="#262626">PSO</text><path d="M436.9 671.95H458.4" stroke="#ff1aff" stroke-width="1.5"/><path d="M444.7 669.62L451.1 669.62L447.9 675.15Z" fill="#ff1aff" fill-opacity="0.75" stroke="#ff1aff" stroke-width="1.0"/><text x="459.9" y="674.05" font-size="5.85" fill="#262626">AO</text><path d="M436.9 680.45H458.4" stroke="#10f010" stroke-width="1.5"/><circle cx="447.9" cy="680.45" r="2.62" fill="#10f010"/><text x="459.9" y="682.55" font-size="5.85" fill="#262626">BWO</text><path d="M436.9 688.95H458.4" stroke="#0f8080" stroke-width="1.5"/><path d="M445.57 686.62L450.23 691.28M445.57 691.28L450.23 686.62M444.99 688.95L450.81 688.95" stroke="#0f8080" stroke-width="1.0"/><text x="459.9" y="691.05" font-size="5.85" fill="#262626">GJO</text><path d="M436.9 697.45H458.4" stroke="#1ae6f0" stroke-width="1.5"/><path d="M444.99 697.45L450.81 697.45M447.9 694.54L447.9 700.36" stroke="#1ae6f0" stroke-width="1.0"/><text x="459.9" y="699.55" font-size="5.85" fill="#262626">COA</text><path d="M477.3 663.45H498.8" stroke="#ff8020" stroke-width="1.5"/><path d="M485.1 665.78L491.5 665.78L488.3 660.25Z" fill="none" stroke="#ff8020" stroke-width="1.0"/><text x="500.3" y="665.55" font-size="5.85" fill="#262626">CSCAHHO</text><path d="M477.3 671.95H498.8" stroke="#1a9aff" stroke-width="1.5"/><circle cx="488.3" cy="671.95" r="2.77" fill="none" stroke="#1a9aff" stroke-width="1.0"/><text x="500.3" y="674.05" font-size="5.85" fill="#262626">AOSMA</text><path d="M477.3 680.45H498.8" stroke="#ffb8c6" stroke-width="1.5"/><path d="M488.3 676.66L491.21 680.45L488.3 684.24L485.39 680.45Z" fill="none" stroke="#ffb8c6" stroke-width="1.0"/><text x="500.3" y="682.55" font-size="5.85" fill="#262626">ATOA</text><path d="M477.3 688.95H498.8" stroke="#7b8fa6" stroke-width="1.5"/><text x="500.3" y="691.05" font-size="5.85" fill="#262626">AGWO</text><path d="M477.3 697.45H498.8" stroke="#ff1a1a" stroke-width="1.5"/><rect x="485.68" y="694.83" width="5.24" height="5.24" fill="none" stroke="#ff1a1a" stroke-width="1.05"/><text x="500.3" y="699.55" font-size="5.85" fill="#262626">ECOA</text></g></svg>
</body></html>
